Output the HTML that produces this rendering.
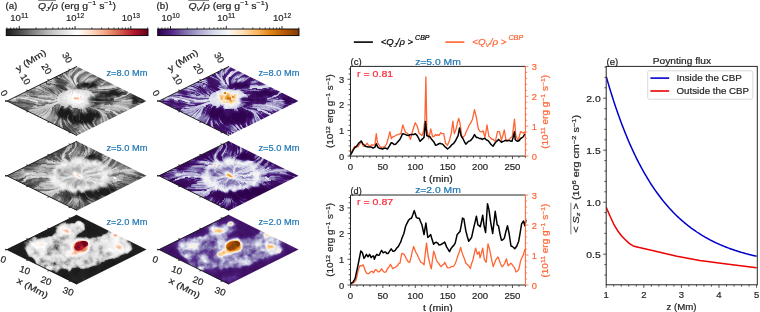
<!DOCTYPE html>
<html><head><meta charset="utf-8"><style>
html,body{margin:0;padding:0;background:#fff;width:760px;height:312px;overflow:hidden}
svg{display:block;will-change:transform}
text{font-family:"Liberation Sans", sans-serif}
</style></head><body>
<svg width="760" height="312" viewBox="0 0 760 312">
<defs>
<linearGradient id="cmA" x1="0" y1="0" x2="1" y2="0"><stop offset="0.00" stop-color="#1a1a1a"/><stop offset="0.10" stop-color="#4d4d4d"/><stop offset="0.20" stop-color="#878787"/><stop offset="0.30" stop-color="#bababa"/><stop offset="0.40" stop-color="#e0e0e0"/><stop offset="0.50" stop-color="#ffffff"/><stop offset="0.60" stop-color="#fddbc7"/><stop offset="0.70" stop-color="#f4a582"/><stop offset="0.80" stop-color="#d6604d"/><stop offset="0.90" stop-color="#b2182b"/><stop offset="1.00" stop-color="#67001f"/></linearGradient>
<linearGradient id="cmB" x1="0" y1="0" x2="1" y2="0"><stop offset="0.00" stop-color="#2d004b"/><stop offset="0.10" stop-color="#542788"/><stop offset="0.20" stop-color="#8073ac"/><stop offset="0.30" stop-color="#b2abd2"/><stop offset="0.40" stop-color="#d8daeb"/><stop offset="0.50" stop-color="#f7f7f7"/><stop offset="0.60" stop-color="#fee0b6"/><stop offset="0.70" stop-color="#fdb863"/><stop offset="0.80" stop-color="#e08214"/><stop offset="0.90" stop-color="#b35806"/><stop offset="1.00" stop-color="#7f3b08"/></linearGradient>
<filter id="b0_5" x="-50%" y="-50%" width="200%" height="200%"><feGaussianBlur stdDeviation="0.5"/></filter>
<filter id="b0_8" x="-50%" y="-50%" width="200%" height="200%"><feGaussianBlur stdDeviation="0.8"/></filter>
<filter id="b1_2" x="-50%" y="-50%" width="200%" height="200%"><feGaussianBlur stdDeviation="1.2"/></filter>
<filter id="b2_0" x="-50%" y="-50%" width="200%" height="200%"><feGaussianBlur stdDeviation="2.0"/></filter>
<filter id="b3_0" x="-50%" y="-50%" width="200%" height="200%"><feGaussianBlur stdDeviation="3.0"/></filter>
<filter id="b4_5" x="-50%" y="-50%" width="200%" height="200%"><feGaussianBlur stdDeviation="4.5"/></filter>
<filter id="b6_0" x="-50%" y="-50%" width="200%" height="200%"><feGaussianBlur stdDeviation="6.0"/></filter>
<filter id="warp" x="-30%" y="-30%" width="160%" height="160%"><feTurbulence type="fractalNoise" baseFrequency="0.18" numOctaves="2" seed="9" result="t"/><feDisplacementMap in="SourceGraphic" in2="t" scale="9" xChannelSelector="R" yChannelSelector="G" result="d"/><feGaussianBlur in="d" stdDeviation="1.3"/></filter>
<g id="lv0">
<polygon points="4.0,101.0 77.0,63.4 149.5,101.0 77.0,138.6" fill="#1a1a1a"/>
<g filter="url(#b5_0)">
<ellipse cx="77.0" cy="99.0" rx="20" ry="10" fill="#6e6e6e" fill-opacity="0.8"/>
</g>
<g filter="url(#b3_0)">
<ellipse cx="42.0" cy="116.0" rx="15" ry="7" transform="rotate(15 42.0 116.0)" fill="#616161" fill-opacity="0.6"/>
<ellipse cx="120.0" cy="106.0" rx="15" ry="5" transform="rotate(-10 120.0 106.0)" fill="#575757" fill-opacity="0.6"/>
<ellipse cx="30.0" cy="92.0" rx="13" ry="5" transform="rotate(-15 30.0 92.0)" fill="#474747" fill-opacity="0.5"/>
<ellipse cx="118.0" cy="84.0" rx="14" ry="4" transform="rotate(20 118.0 84.0)" fill="#4c4c4c" fill-opacity="0.5"/>
<ellipse cx="80.0" cy="74.0" rx="10" ry="5" fill="#474747" fill-opacity="0.5"/>
<ellipse cx="80.0" cy="128.0" rx="8" ry="5" fill="#474747" fill-opacity="0.5"/>
</g>
<g filter="url(#b2_0)">
<ellipse cx="45.0" cy="100.0" rx="18" ry="4" fill="#575757" fill-opacity="0.5"/>
</g>
<g filter="url(#b0_5)" stroke-linecap="round" stroke-linejoin="round" fill="none">
<path d="M72.8 98.2 70.8 97.8 69.0 97.2 67.6 96.3 66.6 95.3 65.7 94.3 64.8 93.3 63.9 92.3 62.9 91.3 61.8 90.4 60.6 89.5 59.3 88.6 57.9 87.7 56.4 86.9 54.8 86.2 53.1 85.5 51.4 84.8" stroke="#696969" stroke-width="1.4" stroke-opacity="0.52"/>
<path d="M97.9 110.3 99.3 111.2 100.5 112.1 101.5 113.1 102.3 114.1 103.0 115.1 103.5 116.2 104.0 117.3 104.4 118.4 104.7 119.4 105.2 120.5 105.7 121.6 106.3 122.6 107.1 123.7 108.1 124.6 109.4 125.6" stroke="#616161" stroke-width="1.6" stroke-opacity="0.49"/>
<path d="M76.9 100.4 77.1 101.5 77.3 102.6 77.2 103.7 76.5 104.8 75.0 105.6 73.3 106.3 71.5 106.9 69.7 107.6 68.0 108.3 66.4 109.0 65.0 109.9 63.8 110.8" stroke="#6e6e6e" stroke-width="1.8" stroke-opacity="0.49"/>
<path d="M92.8 104.0 94.9 103.9 97.1 103.7 99.3 103.6 101.5 103.5 103.7 103.4 105.9 103.4 108.1 103.4 110.3 103.4 112.5 103.4 114.7 103.4 116.9 103.5" stroke="#717171" stroke-width="1.4" stroke-opacity="0.39"/>
<path d="M72.4 81.8 71.7 80.8 71.0 79.7 70.4 78.7 69.9 77.6 69.5 76.5 69.3 75.4 69.2 74.3 69.4 73.2 69.8 72.1 70.1 71.0 70.6 70.0 71.2 68.9 71.9 67.9 72.7 66.8 73.4 65.8 74.0 64.7 74.6 63.7" stroke="#707070" stroke-width="1.8" stroke-opacity="0.57"/>
<path d="M96.8 110.7 97.8 111.6 98.6 112.7 99.2 113.7 99.4 114.8 99.5 115.9 99.4 117.0 99.3 118.1 99.1 119.2 99.0 120.3 98.9 121.4 98.9 122.5 99.1 123.6 99.5 124.7 100.0 125.7 100.8 126.8 101.8 127.8 102.9 128.7" stroke="#777777" stroke-width="0.8" stroke-opacity="0.41"/>
<path d="M56.3 94.0 55.5 93.0 54.7 92.0 53.9 91.0 52.9 90.0 51.8 89.0 50.6 88.1 49.1 87.3 47.6 86.5 45.9 85.8 44.2 85.1 42.4 84.5 40.5 83.9 38.6 83.3 36.7 82.8 34.7 82.4 32.6 82.0 30.6 81.6" stroke="#686868" stroke-width="1.5" stroke-opacity="0.39"/>
<path d="M77.4 99.1 75.5 98.5 77.2 99.2 76.8 100.3 77.2 101.4 76.2 102.4 74.5 103.0 72.7 103.7 71.1 104.4 69.5 105.2 68.0 106.0 66.6 106.8 65.3 107.7 64.2 108.7 63.2 109.7 62.3 110.7 61.4 111.7" stroke="#6c6c6c" stroke-width="1.4" stroke-opacity="0.66"/>
<path d="M103.8 97.9 106.0 97.7 108.1 97.4 110.0 96.9 111.9 96.3 113.6 95.6 115.3 94.9 116.8 94.1 118.3 93.3 119.8 92.5 121.2 91.6 122.7 90.8 124.2 90.0 125.7 89.2 127.2 88.4 128.8 87.7 130.5 86.9" stroke="#6f6f6f" stroke-width="0.8" stroke-opacity="0.64"/>
<path d="M127.2 101.9 129.4 102.0 131.5 102.1 133.7 102.4 135.8 102.7 137.9 103.1 139.9 103.5 141.9 103.9 143.8 104.5 145.7 105.0 147.6 105.6 149.4 106.2 151.3 106.8 153.2 107.3 155.2 107.8" stroke="#707070" stroke-width="0.9" stroke-opacity="0.62"/>
<path d="M77.5 104.2 77.2 105.3 76.4 106.3 75.1 107.2 73.4 108.0 71.7 108.7 70.1 109.4 68.5 110.1 67.1 111.0 65.7 111.8 64.4 112.7 63.4 113.7 62.4 114.7 61.7 115.7" stroke="#747474" stroke-width="2.0" stroke-opacity="0.29"/>
<path d="M91.2 109.1 91.9 110.1 92.3 111.2 92.4 112.3 92.2 113.4 91.8 114.5 91.4 115.6 90.8 116.6 90.3 117.7 89.8 118.8 89.4 119.9 89.1 121.0" stroke="#646464" stroke-width="1.7" stroke-opacity="0.64"/>
<path d="M68.4 85.5 66.8 84.7 65.0 84.1 63.1 83.5 61.1 83.1 59.1 82.6 57.1 82.2 55.1 81.7 53.1 81.3 51.1 80.8 49.2 80.3 47.2 79.8 45.4 79.2 43.5 78.6" stroke="#707070" stroke-width="1.1" stroke-opacity="0.65"/>
<path d="M102.3 111.2 103.9 111.9 105.3 112.8 106.6 113.6 107.8 114.6 108.9 115.5 110.0 116.5 111.0 117.4 112.1 118.4 113.1 119.4 114.3 120.3 115.5 121.2 116.9 122.1" stroke="#5c5c5c" stroke-width="0.8" stroke-opacity="0.49"/>
<path d="M121.8 101.1 124.0 100.9 126.1 100.7 128.3 100.5 130.5 100.3 132.6 100.1 134.8 100.1 137.0 100.0 139.2 100.1 141.4 100.2 143.6 100.4 145.8 100.5 147.9 100.8 150.0 101.1 152.1 101.4 154.2 101.7 156.4 102.0" stroke="#636363" stroke-width="1.6" stroke-opacity="0.69"/>
<path d="M72.4 98.1 70.3 97.9 68.1 97.8 65.9 97.9 63.8 98.3 61.9 98.8 60.0 99.4 58.0 99.9 56.0 100.3 54.0 100.7 51.9 101.1 49.7 101.3 47.6 101.4 45.4 101.4 43.2 101.3" stroke="#666666" stroke-width="1.8" stroke-opacity="0.42"/>
<path d="M95.8 106.6 98.0 106.6 100.2 106.5 102.4 106.5 104.6 106.4 106.8 106.5 109.0 106.6 111.2 106.7 113.3 107.0 115.3 107.4 117.4 107.8 119.4 108.3 121.2 108.9 122.9 109.7 124.4 110.5" stroke="#777777" stroke-width="1.7" stroke-opacity="0.37"/>
<path d="M84.2 97.5 86.3 97.2 88.5 97.1 90.7 97.2 92.8 97.4 95.0 97.7 97.1 97.9 99.3 98.1 101.5 98.2 103.7 98.3 105.9 98.2 108.1 98.0 110.2 97.8 112.2 97.4 114.2 96.8 116.0 96.2" stroke="#777777" stroke-width="1.3" stroke-opacity="0.50"/>
<path d="M48.6 91.8 47.3 90.9 45.9 90.1 44.4 89.3 42.7 88.6 40.9 87.9 38.9 87.4 36.9 87.0 34.8 86.6 32.7 86.3 30.5 86.2 28.3 86.1 26.1 86.1 23.9 86.2 21.8 86.4 19.6 86.7 17.5 87.0" stroke="#5c5c5c" stroke-width="1.5" stroke-opacity="0.53"/>
<path d="M68.4 85.1 66.8 84.4 65.0 83.7 63.1 83.2 61.2 82.7 59.2 82.2 57.1 81.8 55.1 81.4 53.1 80.9 51.1 80.5 49.2 80.0 47.2 79.4 45.4 78.8 43.6 78.2 41.9 77.5 40.2 76.8" stroke="#6f6f6f" stroke-width="1.1" stroke-opacity="0.57"/>
<path d="M62.0 114.9 61.3 115.9 60.8 117.0 60.4 118.1 60.1 119.2 59.9 120.3 59.8 121.4 59.7 122.5 59.8 123.6 60.0 124.7 60.2 125.8 60.4 126.9 60.7 128.0 61.0 129.0 61.2 130.1 61.4 131.2" stroke="#5c5c5c" stroke-width="1.1" stroke-opacity="0.53"/>
<path d="M74.6 97.8 73.4 96.9 72.6 95.9 72.1 94.8 71.8 93.7 71.4 92.6 70.8 91.5 70.0 90.5 69.2 89.5 68.2 88.5 67.0 87.6 65.5 86.8 63.9 86.1 62.1 85.4" stroke="#616161" stroke-width="1.7" stroke-opacity="0.63"/>
<path d="M82.4 88.3 81.7 87.2 81.2 86.2 80.8 85.1 80.6 84.0 80.6 82.9 80.6 81.8 80.8 80.7 81.3 79.6 82.0 78.6 82.9 77.6" stroke="#777777" stroke-width="1.6" stroke-opacity="0.31"/>
<path d="M76.5 98.8 78.7 98.8 80.6 98.2 82.3 97.5 84.0 96.8 85.8 96.2 87.8 95.7 89.7 95.2 91.8 94.8 93.9 94.5 96.0 94.2 98.2 94.0 100.3 93.8 102.5 93.6" stroke="#656565" stroke-width="1.5" stroke-opacity="0.54"/>
<path d="M71.6 90.7 70.9 89.6 69.9 88.7 68.6 87.8 67.1 86.9 65.5 86.2 63.6 85.6 61.7 85.1 59.8 84.6 57.8 84.1 55.8 83.6 53.9 83.1 51.9 82.6 50.0 82.1 48.0 81.5 46.1 81.0 44.2 80.4 42.4 79.8" stroke="#737373" stroke-width="1.2" stroke-opacity="0.63"/>
<path d="M54.8 97.3 52.7 97.2 50.5 96.9 48.5 96.5 46.4 96.1 44.4 95.7 42.4 95.2 40.4 94.7 38.4 94.3 36.4 93.9 34.3 93.5 32.2 93.2 30.0 93.0 27.8 92.9 25.7 92.8 23.5 92.9 21.3 93.0" stroke="#757575" stroke-width="1.2" stroke-opacity="0.35"/>
<path d="M60.1 93.5 59.4 92.4 58.6 91.4 57.7 90.4 56.6 89.4 55.4 88.5 54.0 87.7 52.5 86.9 51.0 86.1 49.4 85.3 47.7 84.6 46.0 83.9 44.2 83.3 42.3 82.7" stroke="#727272" stroke-width="1.8" stroke-opacity="0.33"/>
<path d="M83.9 88.2 83.5 87.1 83.1 86.0 82.8 84.9 82.8 83.8 83.0 82.7 83.2 81.6 83.6 80.5 84.3 79.5 85.2 78.5 86.3 77.5 87.6 76.6 89.0 75.8 90.5 75.0 92.0 74.2 93.5 73.4" stroke="#727272" stroke-width="1.1" stroke-opacity="0.31"/>
<path d="M84.7 92.3 84.9 91.3 84.8 90.2 84.4 89.1 84.0 88.0 83.5 86.9 83.2 85.8 83.0 84.7 83.0 83.6 83.0 82.5 83.3 81.4 83.7 80.4 84.4 79.3 85.4 78.3 86.5 77.4 87.8 76.5" stroke="#666666" stroke-width="1.2" stroke-opacity="0.44"/>
<path d="M90.2 87.6 91.5 86.7 93.0 85.9 94.6 85.1 96.4 84.5 98.2 83.9 100.1 83.3 102.0 82.8 103.9 82.2 105.8 81.6 107.6 81.0 109.3 80.3 110.8 79.5" stroke="#5c5c5c" stroke-width="1.9" stroke-opacity="0.65"/>
<path d="M102.9 113.8 103.6 114.8 104.3 115.9 104.8 116.9 105.3 118.0 105.9 119.1 106.5 120.1 107.1 121.2 107.9 122.2 108.8 123.2 109.9 124.2 111.2 125.0 112.7 125.8 114.4 126.6 116.2 127.2 118.1 127.7 120.1 128.2" stroke="#5d5d5d" stroke-width="1.2" stroke-opacity="0.59"/>
<path d="M115.6 98.8 117.5 98.2 119.2 97.5 120.9 96.8 122.4 96.0 123.9 95.2 125.3 94.4 126.8 93.5 128.2 92.7 129.7 91.9 131.3 91.1 132.9 90.4 134.6 89.7 136.4 89.0 138.3 88.5 140.3 88.0 142.4 87.7" stroke="#757575" stroke-width="1.8" stroke-opacity="0.64"/>
<path d="M77.8 125.7 79.0 126.6 80.1 127.6 81.3 128.5 82.3 129.5 83.4 130.4 84.4 131.4 85.3 132.4 86.2 133.4 86.9 134.5 87.5 135.5 88.0 136.6" stroke="#5d5d5d" stroke-width="1.7" stroke-opacity="0.48"/>
<path d="M80.3 86.8 79.8 85.7 79.4 84.6 79.2 83.5 79.2 82.4 79.4 81.3 79.9 80.3 80.6 79.2 81.6 78.2 82.7 77.3 83.9 76.4 85.3 75.5 86.7 74.7 88.3 73.9 89.8 73.1 91.4 72.3 92.9 71.6 94.4 70.7" stroke="#5d5d5d" stroke-width="1.3" stroke-opacity="0.30"/>
<path d="M67.6 101.6 65.8 102.3 64.2 103.0 62.8 103.9 61.7 104.8 60.9 105.8 60.3 106.9 59.8 108.0 59.4 109.1 59.0 110.1 58.5 111.2 58.1 112.3 57.6 113.4 57.1 114.4 56.5 115.5" stroke="#6b6b6b" stroke-width="0.7" stroke-opacity="0.66"/>
<path d="M39.5 104.4 37.4 104.1 35.4 103.7 33.4 103.2 31.5 102.6 29.6 102.1 27.7 101.5 25.7 101.0 23.7 100.6 21.7 100.1 19.6 99.8 17.5 99.5 15.3 99.3 13.2 99.2 11.0 99.2 8.8 99.3 6.6 99.4 4.4 99.6" stroke="#737373" stroke-width="0.7" stroke-opacity="0.35"/>
<path d="M74.7 80.8 74.6 79.7 74.7 78.6 75.1 77.5 75.7 76.5 76.6 75.5 77.7 74.5 78.8 73.6 80.1 72.7 81.5 71.8 83.0 71.0 84.5 70.2" stroke="#636363" stroke-width="1.0" stroke-opacity="0.65"/>
<path d="M76.0 83.9 75.6 82.8 75.3 81.7 75.1 80.6 75.2 79.5 75.5 78.4 76.0 77.3 76.8 76.3 77.8 75.3 79.0 74.4 80.4 73.6 81.8 72.7 83.3 71.9 84.9 71.2 86.5 70.4 88.1 69.6 89.6 68.8 91.0 68.0 92.3 67.1" stroke="#6c6c6c" stroke-width="1.2" stroke-opacity="0.59"/>
<path d="M73.1 96.4 72.5 95.4 72.2 94.3 71.9 93.2 71.5 92.1 70.9 91.1 70.1 90.0 69.0 89.1 67.6 88.2 66.3 87.3 64.8 86.5 63.1 85.8 61.2 85.2 59.3 84.7 57.4 84.2 55.4 83.7 53.5 83.2 51.5 82.7" stroke="#5d5d5d" stroke-width="1.1" stroke-opacity="0.62"/>
<path d="M110.3 103.3 112.5 103.3 114.7 103.4 116.9 103.5 119.1 103.6 121.3 103.8 123.4 104.0 125.5 104.3 127.6 104.7 129.6 105.1 131.5 105.7" stroke="#5d5d5d" stroke-width="1.3" stroke-opacity="0.26"/>
<path d="M81.3 102.8 82.9 103.6 84.5 104.3 86.1 105.1 87.8 105.8 89.5 106.5 91.2 107.2 93.0 107.8 94.7 108.5 96.5 109.2 98.2 109.8 100.0 110.5 101.6 111.2 103.3 112.0 104.8 112.7 106.2 113.6" stroke="#606060" stroke-width="0.7" stroke-opacity="0.42"/>
<path d="M66.3 100.2 64.5 100.8 62.7 101.4 60.8 102.0 59.0 102.6 57.3 103.3 55.6 104.0 53.9 104.7 52.2 105.4 50.7 106.2 49.2 107.0 47.8 107.8 46.4 108.7 45.1 109.6" stroke="#787878" stroke-width="1.2" stroke-opacity="0.31"/>
<path d="M71.2 83.4 70.0 82.4 68.8 81.5 67.4 80.7 65.9 79.8 64.4 79.1 62.7 78.3 61.1 77.6 59.4 76.9 57.9 76.1 56.3 75.3 54.8 74.5 53.3 73.7 52.1 72.8 51.0 71.8" stroke="#616161" stroke-width="1.1" stroke-opacity="0.52"/>
<path d="M85.2 105.6 86.5 106.5 87.6 107.4 88.5 108.4 89.1 109.5 89.5 110.6 89.5 111.7 89.3 112.8 88.9 113.8 88.4 114.9 87.9 116.0 87.4 117.1 87.0 118.1 86.7 119.2 86.5 120.3" stroke="#757575" stroke-width="0.7" stroke-opacity="0.53"/>
<path d="M82.4 107.7 82.9 108.7 83.1 109.8 83.2 110.9 83.1 112.0 82.9 113.1 82.6 114.2 82.4 115.3 82.2 116.4 82.1 117.5 82.0 118.6 82.1 119.7 82.4 120.8 82.8 121.9 83.3 122.9 83.9 124.0 84.6 125.0 85.5 126.1 86.3 127.1" stroke="#696969" stroke-width="0.9" stroke-opacity="0.49"/>
<path d="M61.9 116.0 61.4 117.1 61.0 118.2 60.7 119.3 60.6 120.4 60.6 121.5 60.7 122.6 60.8 123.7 61.0 124.8 61.3 125.9 61.6 126.9 62.1 128.0 62.5 129.1 62.9 130.2 63.3 131.3" stroke="#686868" stroke-width="1.8" stroke-opacity="0.67"/>
<path d="M89.5 87.2 90.5 86.3 91.7 85.3 93.0 84.5 94.5 83.7 96.0 82.9 97.6 82.1 99.2 81.4 100.9 80.6 102.5 79.9 104.0 79.1 105.5 78.3 106.8 77.4" stroke="#696969" stroke-width="0.8" stroke-opacity="0.62"/>
<path d="M95.8 97.1 98.0 97.1 100.2 97.1 102.3 97.0 104.5 96.8 106.6 96.4 108.5 95.9 110.4 95.3 112.2 94.7 113.9 94.0 115.5 93.2 117.1 92.5 118.7 91.7 120.2 90.9 121.8 90.1 123.3 89.4 124.9 88.6 126.4 87.8 128.0 87.1" stroke="#5f5f5f" stroke-width="1.0" stroke-opacity="0.49"/>
<path d="M100.8 104.3 103.0 104.2 105.2 104.1 107.4 104.1 109.6 104.1 111.8 104.2 114.0 104.3 116.2 104.4 118.3 104.6 120.5 104.8 122.6 105.1 124.6 105.5 126.6 106.0 128.4 106.6 130.1 107.3" stroke="#626262" stroke-width="1.1" stroke-opacity="0.49"/>
<path d="M80.0 98.4 82.0 97.9 84.0 97.5 86.2 97.3 88.4 97.3 90.5 97.4 92.6 97.7 94.8 98.0 96.9 98.3 99.0 98.7 101.1 98.9 103.3 99.1 105.5 99.1 107.7 99.0 109.9 98.9" stroke="#737373" stroke-width="1.1" stroke-opacity="0.63"/>
<path d="M37.2 101.8 35.2 101.2 33.3 100.7 31.4 100.1 29.5 99.6 27.5 99.1 25.4 98.7 23.3 98.4 21.2 98.2 19.0 98.0 16.8 97.9 14.6 97.8 12.4 97.8 10.2 97.8 8.1 98.0 5.9 98.1 3.7 98.3 1.6 98.5 -0.6 98.7" stroke="#777777" stroke-width="1.4" stroke-opacity="0.61"/>
<path d="M73.0 84.3 72.2 83.3 71.2 82.3 70.2 81.3 69.1 80.4 68.0 79.4 66.8 78.5 65.6 77.6 64.4 76.6 63.3 75.7 62.1 74.8 61.0 73.8 60.1 72.8 59.2 71.8 58.5 70.8 57.9 69.7 57.5 68.6 57.2 67.5 57.0 66.4" stroke="#707070" stroke-width="0.7" stroke-opacity="0.59"/>
<path d="M66.8 122.6 67.7 123.7 68.7 124.6 69.9 125.6 71.0 126.5 72.3 127.4 73.5 128.3 74.6 129.3 75.7 130.2 76.7 131.2 77.7 132.2 78.6 133.2 79.3 134.3 79.8 135.3 80.1 136.4 80.2 137.5 80.1 138.6" stroke="#616161" stroke-width="0.7" stroke-opacity="0.70"/>
<path d="M77.0 99.8 77.0 100.9 77.2 102.0 78.2 103.0 79.5 103.9 80.9 104.8 82.1 105.7 83.2 106.6 84.0 107.6 84.9 108.7 85.5 109.7 85.8 110.8 85.9 111.9 85.8 113.0 85.6 114.1 85.3 115.2 84.9 116.3 84.6 117.3 84.4 118.4" stroke="#636363" stroke-width="1.4" stroke-opacity="0.67"/>
<path d="M94.3 88.6 96.4 88.4 98.6 88.3 100.8 88.2 103.0 88.1 105.2 88.0 107.4 87.9 109.5 87.6 111.6 87.3 113.6 86.8 115.6 86.4 117.6 85.9 119.4 85.3 121.2 84.6 122.9 83.9 124.5 83.2 126.0 82.4 127.5 81.6" stroke="#626262" stroke-width="1.9" stroke-opacity="0.63"/>
<path d="M98.2 110.7 99.5 111.6 100.6 112.6 101.4 113.6 102.1 114.7 102.6 115.7 102.9 116.8 103.2 117.9 103.4 119.0 103.8 120.1 104.1 121.2 104.5 122.3 105.2 123.3 106.0 124.3 107.0 125.3 108.2 126.2 109.6 127.1 111.2 127.8 112.9 128.5" stroke="#6f6f6f" stroke-width="1.3" stroke-opacity="0.47"/>
<path d="M103.6 95.6 105.7 95.2 107.7 94.7 109.5 94.2 111.4 93.6 113.1 92.9 114.8 92.2 116.5 91.5 118.2 90.8 119.8 90.0 121.4 89.3 123.1 88.5 124.7 87.8" stroke="#5e5e5e" stroke-width="1.6" stroke-opacity="0.66"/>
<path d="M77.2 99.8 77.1 98.7 76.9 99.8 77.0 100.9 77.1 102.0 76.0 102.9 74.2 103.6 72.5 104.2 70.7 104.9 69.0 105.6 67.5 106.4 66.1 107.3 64.9 108.2 63.8 109.1 62.9 110.1 61.9 111.1 61.1 112.1" stroke="#606060" stroke-width="1.7" stroke-opacity="0.32"/>
<path d="M89.9 89.3 91.6 88.6 93.5 88.0 95.5 87.6 97.7 87.3 99.8 87.2 102.0 87.0 104.2 86.9 106.4 86.7 108.5 86.5 110.7 86.3 112.8 85.9 114.8 85.5 116.8 85.0 118.6 84.4 120.4 83.8 122.1 83.1 123.6 82.3 125.1 81.5 126.5 80.6" stroke="#777777" stroke-width="1.0" stroke-opacity="0.57"/>
<path d="M86.2 91.7 87.2 90.7 88.2 89.7 89.3 88.7 90.6 87.9 92.1 87.1 93.8 86.4 95.7 85.8 97.5 85.2 99.5 84.6 101.5 84.2 103.5 83.8 105.5 83.3 107.5 82.9 109.5 82.4 111.3 81.8 113.1 81.1" stroke="#757575" stroke-width="1.0" stroke-opacity="0.37"/>
<path d="M75.2 114.4 74.9 115.5 74.8 116.6 74.9 117.7 75.2 118.8 75.8 119.8 76.5 120.9 77.3 121.9 78.2 122.9 79.1 123.9 80.1 124.9 81.1 125.8 82.2 126.8 83.3 127.8 84.3 128.7 85.4 129.7 86.4 130.7" stroke="#626262" stroke-width="1.3" stroke-opacity="0.64"/>
<path d="M76.0 98.6 77.8 99.3 79.0 98.3 80.2 97.4 81.3 96.5 82.3 95.5 83.3 94.5 84.1 93.5 84.8 92.4 85.1 91.3 85.5 90.3 85.7 89.2 85.7 88.1 85.6 87.0 85.5 85.9 85.4 84.8 85.5 83.7 85.7 82.6 86.1 81.5 86.8 80.4" stroke="#626262" stroke-width="1.4" stroke-opacity="0.66"/>
<path d="M57.5 117.3 56.9 118.4 56.4 119.4 55.8 120.5 55.2 121.6 54.6 122.6 54.0 123.7 53.3 124.7 52.5 125.7 51.6 126.7 50.6 127.7 49.4 128.7 48.2 129.5 46.7 130.4 45.2 131.2 43.5 131.9" stroke="#747474" stroke-width="1.2" stroke-opacity="0.58"/>
<path d="M101.7 112.0 102.9 113.0 103.9 113.9 104.8 114.9 105.6 116.0 106.3 117.0 106.9 118.1 107.6 119.1 108.3 120.1 109.1 121.2 110.0 122.2 111.1 123.1 112.4 124.0" stroke="#6e6e6e" stroke-width="1.7" stroke-opacity="0.28"/>
<path d="M55.0 100.3 52.9 100.6 50.7 100.8 48.5 100.8 46.3 100.7 44.1 100.5 42.0 100.1 40.0 99.7 38.0 99.3 36.0 98.9 34.0 98.4 32.0 97.9 30.0 97.4 28.0 97.0" stroke="#606060" stroke-width="1.5" stroke-opacity="0.55"/>
<path d="M71.2 75.1 71.6 74.0 72.2 73.0 72.9 71.9 73.9 70.9 74.9 70.0 76.0 69.0 77.1 68.0 78.2 67.1 79.3 66.2 80.3 65.2 81.2 64.2" stroke="#656565" stroke-width="1.2" stroke-opacity="0.58"/>
<path d="M29.5 103.0 27.6 102.4 25.7 101.9 23.7 101.5 21.6 101.1 19.5 100.8 17.4 100.5 15.2 100.2 13.0 100.1 10.8 100.1 8.6 100.2 6.5 100.3 4.3 100.5" stroke="#666666" stroke-width="1.4" stroke-opacity="0.55"/>
<path d="M46.5 93.2 44.9 92.5 43.2 91.8 41.4 91.1 39.4 90.6 37.4 90.2 35.3 89.9 33.1 89.7 30.9 89.7 28.7 89.6 26.5 89.6 24.3 89.8 22.2 90.0 20.0 90.3 17.9 90.6 15.8 90.9 13.7 91.2" stroke="#696969" stroke-width="0.9" stroke-opacity="0.51"/>
<path d="M99.8 112.9 100.4 114.0 100.8 115.0 101.0 116.1 101.1 117.2 101.1 118.3 101.1 119.4 101.2 120.5 101.4 121.6 101.6 122.7 102.0 123.8 102.6 124.9 103.4 125.9 104.4 126.9 105.6 127.8 107.0 128.6 108.6 129.4" stroke="#5f5f5f" stroke-width="1.0" stroke-opacity="0.55"/>
<path d="M74.1 79.4 74.2 78.3 74.5 77.2 75.1 76.2 75.9 75.2 77.0 74.2 78.0 73.2 79.3 72.3 80.7 71.5 82.1 70.6 83.6 69.8 85.2 69.1 86.6 68.2" stroke="#6b6b6b" stroke-width="1.6" stroke-opacity="0.56"/>
<path d="M77.6 99.1 75.7 98.6 77.6 99.1 76.2 100.0 77.1 99.0 75.0 98.5 72.9 98.2 70.8 98.0 68.6 97.8 66.4 97.8 64.3 98.2 62.2 98.5 60.2 98.9 58.2 99.4 56.2 99.9 54.2 100.3 52.1 100.6 49.9 100.8 47.8 101.0 45.6 101.0 43.4 100.8" stroke="#6f6f6f" stroke-width="1.9" stroke-opacity="0.62"/>
<path d="M74.7 82.1 74.4 81.0 74.2 79.9 74.2 78.8 74.4 77.7 74.9 76.7 75.6 75.6 76.6 74.6 77.8 73.7 79.2 72.9 80.6 72.0 82.1 71.2 83.6 70.4 85.1 69.6 86.7 68.8 88.1 68.0 89.5 67.2 90.8 66.3" stroke="#6c6c6c" stroke-width="1.3" stroke-opacity="0.55"/>
<path d="M53.6 106.1 52.7 107.1 51.9 108.2 51.3 109.2 50.9 110.3 50.4 111.4 49.9 112.4 49.4 113.5 48.7 114.6 47.8 115.6 46.8 116.5 45.7 117.5 44.5 118.4 43.1 119.3 41.6 120.1 39.8 120.7 38.0 121.3 36.0 121.8" stroke="#707070" stroke-width="1.6" stroke-opacity="0.54"/>
<path d="M73.1 110.8 71.8 111.7 70.6 112.6 69.6 113.6 68.7 114.6 68.1 115.7 67.7 116.7 67.5 117.8 67.6 118.9 68.0 120.0 68.6 121.1 69.2 122.2 70.0 123.2 70.9 124.2 72.0 125.1 73.2 126.1 74.4 127.0 75.7 127.9" stroke="#696969" stroke-width="0.8" stroke-opacity="0.50"/>
<path d="M98.0 107.6 100.2 107.8 102.4 107.9 104.6 108.1 106.8 108.2 108.9 108.5 111.0 108.8 113.0 109.3 114.9 109.9 116.6 110.5 118.3 111.2 119.9 112.0 121.4 112.8 122.7 113.7 124.0 114.6 125.1 115.5 126.3 116.4 127.5 117.4 128.8 118.3 130.1 119.1" stroke="#686868" stroke-width="1.0" stroke-opacity="0.33"/>
<path d="M86.0 93.0 87.5 92.2 89.2 91.5 91.2 91.1 93.3 90.8 95.5 90.6 97.7 90.5 99.9 90.4 102.1 90.4 104.3 90.3 106.5 90.2 108.6 90.0 110.8 89.7 112.8 89.3 114.8 88.9 116.8 88.3" stroke="#5f5f5f" stroke-width="0.9" stroke-opacity="0.50"/>
<path d="M76.9 100.1 77.0 101.2 77.2 102.2 77.5 103.3 77.5 104.4 77.1 105.5 76.1 106.5 74.7 107.4 73.3 108.2 71.7 109.0 70.1 109.7 68.4 110.4 66.9 111.2" stroke="#636363" stroke-width="0.7" stroke-opacity="0.31"/>
<path d="M70.9 100.7 68.9 101.2 67.0 101.8 65.2 102.4 63.7 103.2 62.3 104.0 61.3 105.0 60.5 106.0 59.9 107.1 59.5 108.2 59.1 109.3 58.7 110.3 58.2 111.4 57.8 112.5 57.3 113.6 56.8 114.6 56.2 115.7 55.7 116.8 55.1 117.8 54.4 118.9" stroke="#666666" stroke-width="1.1" stroke-opacity="0.43"/>
<path d="M82.9 96.2 84.5 95.4 86.3 94.7 88.2 94.2 90.3 93.8 92.4 93.5 94.6 93.4 96.7 93.2 98.9 93.0 101.1 92.9 103.3 92.7 105.4 92.4 107.5 92.1 109.6 91.7 111.6 91.3 113.5 90.8" stroke="#747474" stroke-width="0.8" stroke-opacity="0.37"/>
<path d="M31.7 103.0 29.8 102.4 27.9 101.9 25.9 101.4 23.9 100.9 21.9 100.5 19.8 100.2 17.7 99.9 15.5 99.7 13.3 99.5 11.1 99.5 8.9 99.6 6.8 99.7 4.6 99.9 2.4 100.1 0.3 100.4" stroke="#616161" stroke-width="0.9" stroke-opacity="0.44"/>
<path d="M103.5 100.1 105.7 100.1 107.9 99.9 110.0 99.7 112.2 99.4 114.2 99.0 116.1 98.5 118.1 98.0 119.9 97.4 121.6 96.7 123.3 95.9 124.8 95.2 126.3 94.4 127.8 93.5 129.2 92.7 130.8 91.9 132.3 91.2" stroke="#6c6c6c" stroke-width="0.8" stroke-opacity="0.43"/>
<path d="M62.7 95.5 61.8 94.5 61.0 93.5 60.4 92.4 59.6 91.4 58.6 90.4 57.5 89.4 56.4 88.5 55.1 87.6 53.7 86.8 52.1 86.0 50.5 85.2 48.8 84.5 47.0 83.9 45.2 83.3 43.4 82.7" stroke="#616161" stroke-width="1.0" stroke-opacity="0.60"/>
<path d="M72.0 82.4 71.1 81.4 70.2 80.4 69.3 79.4 68.4 78.4 67.5 77.4 66.7 76.3 65.9 75.3 65.3 74.3 64.7 73.2 64.2 72.1 63.9 71.0 63.7 69.9 63.6 68.8 63.6 67.7 63.7 66.6 63.7 65.5" stroke="#656565" stroke-width="1.9" stroke-opacity="0.39"/>
<path d="M77.3 99.0 75.6 98.4 77.4 99.0 75.3 98.6 77.2 99.2 75.9 98.3 77.3 99.1 78.9 99.9 80.4 100.7 82.1 101.4 84.0 102.0 86.0 102.5 88.1 102.7 90.3 102.8 92.5 102.8 94.7 102.7 96.9 102.7 99.1 102.6" stroke="#757575" stroke-width="1.5" stroke-opacity="0.26"/>
<path d="M72.9 95.3 72.8 94.2 72.7 93.1 72.5 92.0 72.1 90.9 71.5 89.9 70.6 88.9 69.4 87.9 68.1 87.1 66.5 86.3 64.7 85.7 63.0 85.0 61.1 84.4 59.1 83.9 57.2 83.4 55.2 83.0" stroke="#626262" stroke-width="0.8" stroke-opacity="0.53"/>
<path d="M77.4 86.2 76.9 85.2 76.4 84.1 76.0 83.0 75.8 81.9 75.7 80.8 75.6 79.7 75.6 78.6 75.9 77.5 76.4 76.5 77.1 75.4 78.0 74.4" stroke="#737373" stroke-width="1.9" stroke-opacity="0.68"/>
<path d="M47.0 97.4 44.9 97.0 42.9 96.6 40.8 96.2 38.8 95.8 36.7 95.4 34.6 95.1 32.5 94.7 30.4 94.4 28.3 94.2 26.1 94.1 23.9 94.0 21.7 94.0 19.5 94.1 17.3 94.2 15.1 94.3 12.9 94.5" stroke="#606060" stroke-width="1.7" stroke-opacity="0.53"/>
<path d="M52.2 95.7 50.3 95.0 48.6 94.4 46.9 93.6 45.3 92.9 43.6 92.2 41.8 91.6 39.9 91.1 37.8 90.6 35.7 90.3 33.6 90.0 31.5 89.8 29.3 89.7 27.1 89.7 24.9 89.8 22.7 90.0" stroke="#5e5e5e" stroke-width="1.4" stroke-opacity="0.67"/>
<path d="M85.0 92.6 85.7 91.6 86.2 90.5 86.7 89.5 87.0 88.4 87.3 87.3 87.7 86.2 88.2 85.1 88.8 84.1 89.6 83.0 90.6 82.1 91.5 81.1 92.7 80.1 93.9 79.2 95.2 78.3 96.6 77.5 97.9 76.6 99.3 75.7 100.5 74.8 101.7 73.9 102.7 72.9" stroke="#606060" stroke-width="1.8" stroke-opacity="0.52"/>
<path d="M107.9 105.7 110.1 105.7 112.2 105.9 114.4 106.2 116.5 106.5 118.4 107.0 120.3 107.6 122.0 108.3 123.7 109.0 125.3 109.8 126.6 110.6 127.9 111.5 129.0 112.5 130.1 113.5 131.1 114.4 132.1 115.4 133.2 116.3 134.4 117.3" stroke="#787878" stroke-width="0.9" stroke-opacity="0.28"/>
<path d="M76.0 91.9 75.6 90.8 75.2 89.7 74.6 88.7 73.9 87.6 73.1 86.6 72.2 85.6 71.2 84.6 69.9 83.7 68.7 82.8 67.4 82.0 65.9 81.1 64.3 80.4 62.5 79.7 60.8 79.1" stroke="#656565" stroke-width="1.7" stroke-opacity="0.43"/>
<path d="M98.1 105.6 100.3 105.4 102.5 105.3 104.7 105.2 106.9 105.2 109.1 105.2 111.3 105.4 113.4 105.5 115.6 105.8 117.7 106.1 119.8 106.5 121.8 106.9 123.6 107.5 125.4 108.2 126.9 109.0 128.4 109.8 129.6 110.7" stroke="#696969" stroke-width="0.7" stroke-opacity="0.63"/>
<path d="M66.7 97.5 64.5 97.2 62.5 96.8 60.7 96.2 59.2 95.3 58.1 94.4 57.3 93.4 56.6 92.3 55.8 91.3 55.1 90.3 54.2 89.2 53.1 88.3 51.9 87.4 50.5 86.5" stroke="#696969" stroke-width="1.6" stroke-opacity="0.45"/>
<path d="M48.7 108.7 47.8 109.7 46.9 110.7 46.1 111.7 45.1 112.7 44.1 113.7 42.9 114.6 41.5 115.5 40.1 116.3 38.5 117.1 36.8 117.8 35.0 118.4 33.0 118.9 31.0 119.3 28.9 119.7" stroke="#747474" stroke-width="1.2" stroke-opacity="0.41"/>
<path d="M91.3 86.3 92.7 85.5 94.3 84.7 95.9 84.0 97.7 83.3 99.5 82.7 101.3 82.0 103.0 81.4 104.8 80.7 106.4 80.0 108.0 79.2 109.4 78.3 110.6 77.4 111.6 76.4" stroke="#727272" stroke-width="0.8" stroke-opacity="0.46"/>
<path d="M54.2 101.8 52.1 102.1 49.9 102.4 47.8 102.5 45.6 102.4 43.4 102.2 41.3 101.9 39.2 101.5 37.3 101.0 35.3 100.5 33.4 100.0 31.5 99.5 29.5 98.9 27.6 98.4 25.5 98.0 23.5 97.6" stroke="#676767" stroke-width="0.8" stroke-opacity="0.26"/>
<path d="M38.2 102.1 36.2 101.6 34.3 101.0 32.4 100.5 30.5 99.9 28.5 99.4 26.5 99.0 24.5 98.5 22.4 98.2 20.3 97.9 18.1 97.7 15.9 97.6 13.7 97.5 11.5 97.6 9.3 97.6" stroke="#5d5d5d" stroke-width="0.6" stroke-opacity="0.45"/>
<path d="M80.7 96.9 81.8 96.0 82.8 95.0 83.7 94.0 84.3 93.0 84.7 91.9 84.8 90.8 84.8 89.7 84.7 88.6 84.4 87.5 84.0 86.4 83.6 85.3" stroke="#676767" stroke-width="1.2" stroke-opacity="0.26"/>
<path d="M87.3 118.2 87.1 119.3 87.0 120.4 87.2 121.5 87.5 122.6 87.9 123.7 88.5 124.8 89.1 125.8 89.9 126.8 90.7 127.9 91.5 128.9 92.5 129.9 93.4 130.9 94.4 131.8" stroke="#696969" stroke-width="0.8" stroke-opacity="0.53"/>
<path d="M58.1 102.5 56.3 103.1 54.5 103.8 52.7 104.4 50.9 105.1 49.1 105.7 47.4 106.4 45.6 107.0 43.8 107.6 41.9 108.2 39.9 108.7 38.0 109.2 35.9 109.6 33.9 110.0 31.8 110.3 29.6 110.5" stroke="#646464" stroke-width="2.0" stroke-opacity="0.67"/>
<path d="M119.2 99.1 121.1 98.6 122.9 97.9 124.6 97.2 126.3 96.5 127.9 95.8 129.6 95.0 131.2 94.3 132.8 93.6 134.6 92.9 136.4 92.2 138.2 91.7 140.2 91.2 142.3 90.8 144.4 90.5" stroke="#6c6c6c" stroke-width="0.6" stroke-opacity="0.40"/>
<path d="M98.5 113.4 98.7 114.5 98.7 115.6 98.6 116.7 98.4 117.8 98.1 118.9 97.9 120.0 97.8 121.1 97.9 122.2 98.2 123.3 98.7 124.4 99.2 125.5 99.9 126.5 100.7 127.5 101.8 128.5 103.0 129.4" stroke="#686868" stroke-width="0.7" stroke-opacity="0.53"/>
<path d="M71.5 85.5 70.3 84.6 68.9 83.7 67.4 82.9 65.7 82.2 63.9 81.6 62.0 81.1 60.1 80.5 58.1 80.0 56.2 79.5 54.2 79.0 52.3 78.5" stroke="#6a6a6a" stroke-width="1.3" stroke-opacity="0.34"/>
<path d="M76.1 101.5 74.4 102.2 72.8 102.9 71.2 103.7 69.7 104.5 68.3 105.3 67.0 106.2 65.9 107.2 64.7 108.1 63.7 109.1 62.7 110.1 61.8 111.1 61.0 112.1 60.3 113.1 59.6 114.2 58.9 115.2" stroke="#727272" stroke-width="1.9" stroke-opacity="0.67"/>
<path d="M50.6 95.9 48.7 95.4 46.8 94.8 45.0 94.2 43.1 93.6 41.2 93.1 39.3 92.6 37.2 92.2 35.1 91.9 32.9 91.7 30.7 91.6 28.5 91.6 26.3 91.6 24.1 91.6 22.0 91.8 19.8 92.0 17.6 92.2 15.5 92.5 13.4 92.7 11.2 93.0" stroke="#767676" stroke-width="0.7" stroke-opacity="0.38"/>
<path d="M67.5 117.4 67.5 118.5 67.8 119.6 68.3 120.7 69.0 121.7 69.9 122.7 70.9 123.7 72.1 124.6 73.3 125.5 74.5 126.4 75.8 127.3 77.0 128.3 78.2 129.2 79.4 130.1 80.5 131.1 81.5 132.0 82.4 133.0 83.2 134.1" stroke="#656565" stroke-width="1.6" stroke-opacity="0.67"/>
<path d="M76.9 89.7 76.3 88.7 75.7 87.6 75.0 86.6 74.3 85.5 73.6 84.5 72.8 83.5 71.9 82.4 71.0 81.4 70.1 80.4 69.2 79.4 68.2 78.5 67.3 77.5 66.3 76.5 65.4 75.5 64.6 74.5 63.8 73.4 63.2 72.4 62.7 71.3" stroke="#737373" stroke-width="1.4" stroke-opacity="0.67"/>
<path d="M77.9 99.2 75.9 98.7 73.9 98.4 71.7 98.1 69.6 97.9 67.4 97.8 65.3 98.1 63.3 98.6 61.4 99.2 59.6 99.8 57.7 100.3 55.7 100.8 53.7 101.3 51.6 101.6 49.4 101.9" stroke="#727272" stroke-width="1.3" stroke-opacity="0.37"/>
<path d="M77.2 92.1 76.7 91.1 76.1 90.0 75.6 88.9 74.9 87.9 74.3 86.8 73.5 85.8 72.6 84.8 71.6 83.8 70.5 82.9 69.3 81.9 68.1 81.0 66.8 80.1 65.4 79.3 63.9 78.5 62.4 77.7 60.8 76.9 59.3 76.1 57.7 75.4 56.2 74.5" stroke="#6f6f6f" stroke-width="1.9" stroke-opacity="0.27"/>
<path d="M75.2 86.1 74.5 85.1 73.8 84.0 73.1 83.0 72.4 82.0 71.6 80.9 70.9 79.9 70.2 78.9 69.5 77.8 68.8 76.8 68.3 75.7 67.8 74.6 67.5 73.5 67.3 72.4" stroke="#717171" stroke-width="1.5" stroke-opacity="0.29"/>
<path d="M81.5 85.4 81.3 84.3 81.3 83.2 81.5 82.1 81.9 81.1 82.7 80.0 83.4 79.0 84.3 78.0 85.5 77.0 86.8 76.2 88.2 75.3 89.7 74.5 91.3 73.7 92.8 73.0 94.3 72.1 95.7 71.3" stroke="#747474" stroke-width="1.8" stroke-opacity="0.45"/>
<path d="M106.3 104.9 108.5 105.0 110.7 105.0 112.9 105.2 115.0 105.4 117.1 105.7 119.2 106.1 121.1 106.7 123.0 107.2 124.8 107.8 126.5 108.6 127.9 109.4 129.3 110.3 130.4 111.2 131.5 112.2" stroke="#5c5c5c" stroke-width="0.9" stroke-opacity="0.60"/>
<path d="M96.5 115.5 96.2 116.6 95.7 117.7 95.3 118.8 95.0 119.9 94.8 121.0 94.6 122.1 94.5 123.2 94.7 124.3 95.0 125.4 95.6 126.4 96.3 127.5 97.1 128.5" stroke="#686868" stroke-width="1.8" stroke-opacity="0.34"/>
<path d="M114.7 95.9 116.3 95.1 117.8 94.3 119.3 93.5 120.7 92.6 122.1 91.8 123.6 91.0 125.1 90.2 126.6 89.4 128.1 88.6 129.7 87.8 131.3 87.1 133.1 86.4 134.8 85.7 136.7 85.1 138.6 84.6 140.6 84.2" stroke="#6c6c6c" stroke-width="0.6" stroke-opacity="0.35"/>
<path d="M87.9 117.2 87.6 118.2 87.4 119.3 87.3 120.4 87.4 121.5 87.7 122.6 88.1 123.7 88.7 124.8 89.3 125.8 90.1 126.9 90.9 127.9 91.7 128.9 92.7 129.9 93.6 130.9 94.7 131.9 95.7 132.8 96.7 133.8 97.7 134.8 98.7 135.8" stroke="#686868" stroke-width="1.7" stroke-opacity="0.52"/>
<path d="M85.4 104.7 87.0 105.4 88.7 106.1 90.5 106.8 92.3 107.4 94.1 108.0 95.9 108.6 97.8 109.2 99.7 109.8 101.5 110.4 103.4 111.0 105.2 111.6 106.9 112.3 108.5 113.0 110.1 113.8" stroke="#616161" stroke-width="0.7" stroke-opacity="0.62"/>
<path d="M29.2 105.9 27.1 105.5 25.1 105.1 23.0 104.8 20.9 104.4 18.7 104.2 16.6 104.1 14.4 103.9 12.2 103.9 10.0 103.9 7.8 104.1 5.7 104.4" stroke="#767676" stroke-width="1.0" stroke-opacity="0.30"/>
<path d="M83.1 94.8 84.1 93.9 85.1 92.9 86.0 91.9 86.9 90.9 87.8 89.9 88.8 88.9 89.9 87.9 91.2 87.1 92.7 86.2 94.2 85.4 95.8 84.7 97.6 84.0 99.4 83.4 101.3 82.8 103.1 82.3 105.0 81.7 106.8 81.0 108.5 80.3 110.1 79.6" stroke="#5f5f5f" stroke-width="1.3" stroke-opacity="0.55"/>
<path d="M78.1 103.2 79.4 104.1 80.6 105.0 81.8 106.0 82.7 107.0 83.4 108.0 83.9 109.1 84.2 110.2 84.2 111.3 84.2 112.4 84.0 113.5 83.8 114.6 83.5 115.6 83.2 116.7 83.0 117.8 83.0 118.9 83.0 120.0 83.3 121.1 83.6 122.2" stroke="#727272" stroke-width="1.0" stroke-opacity="0.68"/>
<path d="M77.5 99.1 75.7 98.5 77.4 99.1 75.9 99.9 73.9 100.4 71.8 100.8 69.8 101.2 67.9 101.8 66.2 102.4 64.6 103.2 63.1 104.0 61.7 104.9 60.7 105.8 59.8 106.9 59.3 107.9" stroke="#5c5c5c" stroke-width="1.0" stroke-opacity="0.54"/>
<path d="M61.5 101.3 59.6 101.8 57.8 102.4 55.9 103.0 54.0 103.6 52.2 104.2 50.3 104.7 48.3 105.3 46.4 105.8 44.3 106.2 42.3 106.6 40.2 106.9 38.1 107.2 35.9 107.4 33.7 107.4" stroke="#6f6f6f" stroke-width="1.1" stroke-opacity="0.60"/>
<path d="M57.2 91.4 56.3 90.4 55.3 89.4 54.1 88.5 52.7 87.7 51.3 86.8 49.7 86.1 48.0 85.4 46.3 84.7 44.6 84.0 42.7 83.4 40.9 82.8 39.0 82.2 37.0 81.7" stroke="#737373" stroke-width="0.7" stroke-opacity="0.36"/>
<path d="M62.6 102.2 60.9 102.9 59.3 103.7 57.9 104.5 56.8 105.4 55.9 106.5 55.3 107.5 54.7 108.6 54.3 109.6 53.9 110.7 53.7 111.8 53.3 112.9 53.0 114.0 52.5 115.1" stroke="#717171" stroke-width="0.9" stroke-opacity="0.35"/>
<path d="M98.1 105.1 100.3 104.9 102.5 104.8 104.7 104.7 106.9 104.7 109.1 104.7 111.3 104.8 113.4 104.9 115.6 105.1 117.7 105.4 119.7 105.9 121.8 106.3 123.7 106.8 125.6 107.4 127.2 108.1 128.7 108.9 130.1 109.8 131.3 110.7 132.4 111.6" stroke="#6b6b6b" stroke-width="1.2" stroke-opacity="0.68"/>
<path d="M119.5 101.2 121.6 100.9 123.8 100.7 125.9 100.4 128.0 100.2 130.2 99.9 132.3 99.7 134.5 99.5 136.7 99.4 138.9 99.3 141.1 99.2 143.3 99.2 145.5 99.3 147.6 99.5 149.8 99.7 151.9 100.0 154.1 100.2" stroke="#696969" stroke-width="1.4" stroke-opacity="0.27"/>
<path d="M70.9 128.5 71.9 129.4 73.0 130.4 73.9 131.4 74.7 132.4 75.3 133.5 75.9 134.6 76.3 135.6 76.5 136.7 76.5 137.8 76.2 138.9" stroke="#707070" stroke-width="1.0" stroke-opacity="0.48"/>
<path d="M58.2 115.4 57.6 116.4 57.0 117.5 56.4 118.5 55.8 119.6 55.2 120.7 54.6 121.7 53.9 122.8 53.2 123.8 52.4 124.8 51.5 125.8 50.5 126.8 49.3 127.7 48.0 128.6 46.6 129.5 45.0 130.2 43.3 130.9" stroke="#646464" stroke-width="1.2" stroke-opacity="0.41"/>
<path d="M98.1 100.7 100.3 100.9 102.4 101.0 104.6 101.1 106.8 101.1 109.0 101.0 111.2 100.8 113.4 100.7 115.6 100.5 117.7 100.2 119.8 99.9 121.9 99.5 123.9 99.1 125.8 98.6" stroke="#5f5f5f" stroke-width="1.0" stroke-opacity="0.43"/>
<path d="M37.0 101.7 35.1 101.2 33.2 100.6 31.2 100.1 29.3 99.6 27.3 99.1 25.3 98.7 23.2 98.4 21.1 98.1 18.9 97.8 16.7 97.7 14.5 97.6 12.3 97.6 10.1 97.7 7.9 97.8 5.8 97.9 3.6 98.1 1.4 98.3" stroke="#777777" stroke-width="2.0" stroke-opacity="0.64"/>
<path d="M57.9 102.7 56.1 103.3 54.3 104.0 52.6 104.7 50.9 105.4 49.2 106.1 47.6 106.8 46.0 107.6 44.4 108.3 42.7 109.0 41.1 109.8 39.4 110.5 37.6 111.1 35.8 111.7 33.9 112.3 31.9 112.8" stroke="#696969" stroke-width="2.0" stroke-opacity="0.35"/>
<path d="M95.7 115.4 95.3 116.5 94.8 117.6 94.4 118.7 94.0 119.7 93.8 120.8 93.7 121.9 93.8 123.0 94.1 124.1 94.5 125.2 95.0 126.3 95.6 127.3 96.5 128.3 97.4 129.3" stroke="#666666" stroke-width="1.1" stroke-opacity="0.62"/>
<path d="M116.4 98.4 118.2 97.8 119.9 97.1 121.5 96.3 123.0 95.5 124.4 94.7 125.9 93.9 127.3 93.0 128.8 92.2 130.3 91.4 131.8 90.6 133.5 89.9 135.2 89.2 137.1 88.6 139.0 88.1" stroke="#5c5c5c" stroke-width="1.5" stroke-opacity="0.32"/>
<path d="M70.7 75.0 70.9 73.9 71.4 72.9 72.1 71.8 73.0 70.8 73.9 69.8 75.0 68.8 76.0 67.9 77.0 66.9 78.0 65.9 79.0 64.9 79.8 63.9" stroke="#777777" stroke-width="1.7" stroke-opacity="0.41"/>
<path d="M100.0 116.4 100.0 117.5 99.9 118.6 99.8 119.7 99.8 120.8 100.0 121.9 100.2 123.0 100.5 124.0 101.0 125.1 101.8 126.1 102.7 127.1 103.8 128.1 105.1 129.0 106.6 129.8 108.2 130.5" stroke="#6a6a6a" stroke-width="0.9" stroke-opacity="0.37"/>
<path d="M109.1 102.7 111.3 102.7 113.5 102.7 115.7 102.7 117.9 102.7 120.1 102.7 122.3 102.8 124.5 102.9 126.7 103.1 128.8 103.4 130.9 103.7 133.0 104.0 135.0 104.5 136.9 105.0 138.7 105.7 140.4 106.3 142.1 107.1 143.7 107.8 145.2 108.6" stroke="#737373" stroke-width="1.2" stroke-opacity="0.37"/>
<path d="M78.0 101.6 79.7 102.3 81.3 103.0 82.9 103.8 84.5 104.6 86.0 105.4 87.5 106.2 88.9 107.0 90.4 107.8 91.8 108.7 93.0 109.6 94.2 110.5 95.1 111.5 95.8 112.6 96.2 113.6 96.4 114.7 96.3 115.8 96.0 116.9" stroke="#656565" stroke-width="0.6" stroke-opacity="0.27"/>
<path d="M82.8 123.7 83.6 124.8 84.5 125.8 85.4 126.8 86.4 127.8 87.3 128.7 88.3 129.7 89.3 130.7 90.2 131.7 91.2 132.7 92.1 133.7 92.9 134.7 93.7 135.8 94.3 136.8 94.9 137.9 95.3 139.0" stroke="#777777" stroke-width="1.6" stroke-opacity="0.63"/>
<path d="M79.4 98.1 80.5 97.2 81.6 96.2 82.7 95.2 83.7 94.3 84.7 93.3 85.6 92.3 86.5 91.3 87.4 90.3 88.4 89.3 89.4 88.3 90.5 87.4 91.6 86.4 92.9 85.5 94.4 84.7 95.9 83.9 97.6 83.2" stroke="#606060" stroke-width="0.6" stroke-opacity="0.27"/>
<path d="M51.3 107.5 50.5 108.5 49.8 109.6 49.2 110.6 48.6 111.7 48.0 112.7 47.2 113.8 46.3 114.8 45.2 115.7 44.2 116.7 42.9 117.6 41.5 118.4 39.9 119.2 38.1 119.8 36.2 120.4 34.2 120.8 32.1 121.2" stroke="#6a6a6a" stroke-width="1.7" stroke-opacity="0.64"/>
<path d="M98.7 109.6 100.5 110.2 102.2 110.9 103.8 111.6 105.4 112.4 106.8 113.3 108.1 114.2 109.3 115.1 110.4 116.0 111.5 117.0 112.6 117.9 113.7 118.9 114.9 119.8 116.1 120.7 117.5 121.6 119.0 122.4 120.7 123.1" stroke="#6e6e6e" stroke-width="1.0" stroke-opacity="0.28"/>
<path d="M76.4 85.7 75.9 84.6 75.4 83.6 75.0 82.5 74.6 81.4 74.4 80.3 74.4 79.2 74.6 78.1 75.0 77.0 75.5 76.0 76.1 74.9 77.0 73.9 78.1 73.0 79.4 72.1" stroke="#727272" stroke-width="1.2" stroke-opacity="0.38"/>
<path d="M57.6 99.5 55.6 99.9 53.4 100.1 51.3 100.3 49.1 100.4 46.9 100.3 44.7 100.0 42.5 99.8 40.4 99.5 38.4 99.1 36.4 98.7 34.4 98.2 32.4 97.7 30.4 97.3 28.4 96.9 26.3 96.5" stroke="#6c6c6c" stroke-width="0.8" stroke-opacity="0.27"/>
<path d="M66.2 101.5 64.4 102.1 62.7 102.8 61.2 103.6 59.9 104.5 58.9 105.5 58.2 106.6 57.8 107.6 57.4 108.7 57.1 109.8 56.8 110.9 56.5 112.0 56.1 113.1 55.7 114.2 55.2 115.2 54.6 116.3 54.0 117.4 53.4 118.4" stroke="#6d6d6d" stroke-width="0.6" stroke-opacity="0.51"/>
<path d="M77.4 99.1 75.6 98.5 77.5 99.0 75.4 98.7 77.2 99.3 78.2 98.4 76.8 99.2 77.0 100.3 76.9 101.4 78.1 102.4 79.6 103.2 81.2 103.9 82.7 104.7 84.2 105.5 85.5 106.4 86.7 107.3 87.8 108.3 88.7 109.3" stroke="#717171" stroke-width="1.0" stroke-opacity="0.45"/>
<path d="M35.5 105.9 33.3 105.6 31.3 105.2 29.2 104.8 27.2 104.3 25.2 103.8 23.2 103.4 21.1 103.0 19.0 102.8 16.9 102.6 14.7 102.5 12.5 102.4 10.3 102.4 8.1 102.5 5.9 102.7 3.8 103.0 1.7 103.3 -0.3 103.8 -2.2 104.3" stroke="#686868" stroke-width="1.0" stroke-opacity="0.41"/>
<path d="M106.5 95.7 108.5 95.2 110.3 94.6 112.1 94.0 113.8 93.3 115.5 92.6 117.1 91.8 118.7 91.0 120.3 90.3 121.9 89.5 123.4 88.8 125.0 88.0 126.6 87.2 128.2 86.5 129.9 85.8 131.6 85.1" stroke="#5d5d5d" stroke-width="0.9" stroke-opacity="0.27"/>
<path d="M75.3 98.2 74.0 97.3 73.1 96.3 72.8 95.2 72.7 94.1 72.6 93.0 72.4 91.9 71.9 90.8 71.5 89.8 70.8 88.7 70.0 87.7 68.9 86.7 67.6 85.8 66.1 85.0 64.4 84.3 62.6 83.7 60.6 83.2" stroke="#5d5d5d" stroke-width="1.2" stroke-opacity="0.44"/>
<path d="M90.3 106.9 92.0 107.5 93.7 108.2 95.5 108.9 97.1 109.6 98.7 110.4 100.2 111.2 101.6 112.1 102.8 113.0 103.8 114.0 104.6 115.0 105.5 116.0 106.2 117.0 106.9 118.1 107.6 119.1 108.3 120.2 109.1 121.2" stroke="#5e5e5e" stroke-width="1.3" stroke-opacity="0.58"/>
<path d="M94.6 107.1 96.8 107.3 99.0 107.5 101.2 107.6 103.4 107.6 105.5 107.8 107.7 107.9 109.9 108.2 112.0 108.4 114.1 108.8 116.1 109.2 118.0 109.8 119.7 110.4" stroke="#777777" stroke-width="1.6" stroke-opacity="0.44"/>
<path d="M99.1 110.4 100.6 111.2 102.0 112.1 103.2 113.0 104.3 113.9 105.2 114.9 106.0 116.0 106.7 117.0 107.4 118.0 108.2 119.1 109.0 120.1 109.8 121.1 110.8 122.1 112.0 123.0 113.3 123.9 114.8 124.7 116.5 125.4" stroke="#6b6b6b" stroke-width="0.8" stroke-opacity="0.47"/>
<path d="M41.2 104.3 39.1 104.1 37.0 103.7 35.0 103.3 33.1 102.7 31.2 102.2 29.3 101.6 27.4 101.1 25.4 100.5 23.5 100.1 21.4 99.6 19.3 99.3 17.2 99.0 15.0 98.9 12.8 98.8 10.6 98.8 8.4 98.9" stroke="#6f6f6f" stroke-width="1.3" stroke-opacity="0.43"/>
<path d="M51.7 94.5 50.3 93.7 48.9 92.8 47.5 92.0 46.1 91.1 44.6 90.3 42.9 89.6 41.1 89.0 39.2 88.4 37.1 88.0 35.0 87.7 32.9 87.4 30.7 87.3 28.5 87.2 26.3 87.3 24.2 87.4 22.0 87.6" stroke="#616161" stroke-width="0.9" stroke-opacity="0.62"/>
<path d="M63.9 120.6 64.2 121.6 64.8 122.7 65.5 123.8 66.3 124.8 67.3 125.7 68.4 126.7 69.5 127.7 70.6 128.6 71.7 129.6 72.7 130.5 73.7 131.5 74.6 132.5 75.4 133.6 76.0 134.6 76.4 135.7" stroke="#626262" stroke-width="1.7" stroke-opacity="0.44"/>
<path d="M34.5 107.6 32.3 107.5 30.2 107.3 28.0 107.1 25.9 106.8 23.7 106.6 21.6 106.4 19.4 106.2 17.2 106.0 15.0 106.0 12.8 106.0 10.6 106.1" stroke="#5f5f5f" stroke-width="1.0" stroke-opacity="0.42"/>
<path d="M105.8 109.6 107.8 110.0 109.8 110.5 111.6 111.1 113.3 111.8 114.9 112.6 116.5 113.3 118.0 114.1 119.3 115.0 120.6 115.9 121.9 116.8 123.2 117.7" stroke="#767676" stroke-width="2.0" stroke-opacity="0.69"/>
<path d="M59.9 97.6 57.8 97.7 55.6 97.7 53.4 97.6 51.2 97.5 49.0 97.2 46.9 97.0 44.8 96.7 42.7 96.3 40.6 95.9 38.6 95.5 36.6 95.1 34.5 94.7 32.4 94.4" stroke="#707070" stroke-width="1.0" stroke-opacity="0.26"/>
<path d="M81.2 96.5 82.2 95.6 83.2 94.6 84.0 93.6 84.6 92.5 84.9 91.4 84.8 90.3 84.5 89.2 84.0 88.1 83.5 87.1 83.1 86.0 82.7 84.9 82.5 83.8 82.4 82.7 82.5 81.6 82.9 80.5 83.6 79.5 84.4 78.5" stroke="#676767" stroke-width="1.4" stroke-opacity="0.39"/>
<path d="M56.7 95.8 55.1 95.1 53.7 94.2 52.6 93.3 51.5 92.3 50.5 91.3 49.4 90.4 48.3 89.4 47.0 88.5 45.7 87.6 44.2 86.9 42.5 86.1 40.7 85.5 38.8 84.9 36.9 84.4" stroke="#717171" stroke-width="1.0" stroke-opacity="0.59"/>
<path d="M81.2 108.8 81.3 109.9 81.3 111.0 81.1 112.1 80.9 113.2 80.6 114.3 80.5 115.4 80.4 116.5 80.3 117.6 80.4 118.7 80.6 119.8 80.9 120.8 81.4 121.9 82.0 123.0" stroke="#636363" stroke-width="0.9" stroke-opacity="0.27"/>
<path d="M102.4 115.3 102.8 116.3 103.1 117.4 103.4 118.5 103.7 119.6 104.1 120.7 104.5 121.8 105.1 122.8 105.8 123.9 106.8 124.9 107.9 125.8 109.3 126.7" stroke="#6c6c6c" stroke-width="0.8" stroke-opacity="0.31"/>
<path d="M75.4 98.5 77.3 99.1 75.4 98.5 77.3 99.1 75.4 98.5 77.3 99.1 75.6 98.4 74.4 97.4 74.5 96.3 75.1 95.3 75.6 94.2 75.8 93.1 75.8 92.0 75.6 90.9 75.2 89.8 74.8 88.8 74.2 87.7" stroke="#6f6f6f" stroke-width="1.0" stroke-opacity="0.46"/>
<path d="M77.0 101.2 77.2 102.3 77.5 103.4 77.6 104.5 77.3 105.6 76.5 106.6 75.3 107.6 73.7 108.4 72.1 109.1 70.5 109.8 68.8 110.6 67.3 111.3 65.9 112.2 64.7 113.1 63.6 114.1 62.7 115.1 62.0 116.1 61.3 117.2 60.8 118.2" stroke="#626262" stroke-width="1.2" stroke-opacity="0.50"/>
<path d="M76.0 98.8 77.2 99.7 78.8 100.5 80.5 101.2 82.3 101.8 84.2 102.3 86.4 102.6 88.5 102.7 90.7 102.6 92.9 102.6 95.1 102.5 97.3 102.5 99.5 102.5 101.7 102.5 103.9 102.5 106.1 102.5 108.3 102.5 110.5 102.5 112.7 102.4 114.9 102.4" stroke="#717171" stroke-width="1.6" stroke-opacity="0.40"/>
<path d="M78.9 105.5 79.5 106.5 79.8 107.6 80.0 108.7 80.0 109.8 79.8 110.9 79.5 112.0 79.2 113.1 78.9 114.2 78.6 115.3 78.5 116.4 78.4 117.5 78.5 118.6 78.8 119.6 79.2 120.7" stroke="#616161" stroke-width="1.4" stroke-opacity="0.35"/>
<path d="M115.9 105.6 118.0 105.9 119.9 106.4 121.8 107.0 123.5 107.7 125.1 108.5 126.5 109.3 127.7 110.2 128.9 111.1 130.1 112.1 131.1 113.0 132.1 114.0 133.1 115.0 134.2 116.0" stroke="#686868" stroke-width="1.0" stroke-opacity="0.31"/>
<path d="M82.9 94.9 83.9 94.0 84.6 92.9 85.2 91.9 85.6 90.8 85.8 89.7 85.8 88.6 85.7 87.5 85.6 86.4 85.6 85.3 85.6 84.2 85.8 83.1 86.2 82.0 86.7 80.9 87.5 79.9 88.5 78.9" stroke="#6b6b6b" stroke-width="1.2" stroke-opacity="0.53"/>
<path d="M51.9 94.4 50.5 93.5 49.2 92.6 47.9 91.8 46.5 90.9 45.0 90.1 43.4 89.3 41.6 88.7 39.9 88.0 38.0 87.4 36.0 87.0 33.9 86.6 31.8 86.4 29.6 86.3 27.4 86.2 25.2 86.3 23.0 86.5" stroke="#5d5d5d" stroke-width="1.8" stroke-opacity="0.42"/>
<path d="M100.8 116.8 100.8 117.9 100.8 119.0 100.9 120.1 101.0 121.2 101.4 122.3 101.7 123.4 102.2 124.4 102.9 125.5 103.8 126.5 104.9 127.4 106.3 128.3" stroke="#6b6b6b" stroke-width="1.8" stroke-opacity="0.44"/>
<path d="M106.8 105.4 109.0 105.4 111.2 105.5 113.3 105.7 115.5 106.0 117.5 106.4 119.6 106.8 121.5 107.3 123.4 107.9 125.1 108.6 126.6 109.4 128.0 110.2 129.2 111.1" stroke="#646464" stroke-width="1.3" stroke-opacity="0.43"/>
<path d="M75.7 98.7 77.4 99.4 78.7 98.5 79.8 97.5 80.8 96.5 81.4 95.5 81.2 94.4 80.5 93.4 79.5 92.4 78.7 91.3 77.9 90.3 77.1 89.3 76.5 88.2 75.8 87.2 75.2 86.1" stroke="#6a6a6a" stroke-width="1.1" stroke-opacity="0.25"/>
<path d="M24.4 104.3 22.3 103.9 20.2 103.6 18.1 103.3 15.9 103.2 13.7 103.1 11.5 103.2 9.3 103.3 7.2 103.5 5.0 103.8 3.0 104.1 1.0 104.6" stroke="#656565" stroke-width="1.0" stroke-opacity="0.26"/>
<path d="M92.0 89.2 94.0 88.8 96.1 88.5 98.3 88.4 100.5 88.3 102.7 88.3 104.9 88.2 107.1 88.0 109.2 87.8 111.4 87.5 113.5 87.2 115.5 86.8 117.4 86.3 119.3 85.7 121.1 85.0 122.8 84.3 124.4 83.6 126.0 82.8" stroke="#707070" stroke-width="1.8" stroke-opacity="0.63"/>
<path d="M93.9 108.6 95.5 109.4 96.9 110.2 98.2 111.1 99.4 112.0 100.3 113.0 100.9 114.1 101.4 115.1 101.7 116.2 101.8 117.3 102.0 118.4 102.1 119.5 102.2 120.6 102.4 121.7 102.8 122.8 103.3 123.9 104.0 124.9 104.9 125.9 106.1 126.8 107.4 127.7" stroke="#5f5f5f" stroke-width="1.8" stroke-opacity="0.42"/>
<path d="M86.6 91.6 87.7 90.6 89.0 89.7 90.5 88.9 92.2 88.2 94.1 87.7 96.1 87.3 98.2 87.0 100.4 86.8 102.6 86.6 104.8 86.5 107.0 86.3 109.1 86.1 111.2 85.9 113.3 85.5 115.3 85.1 117.3 84.5" stroke="#616161" stroke-width="1.8" stroke-opacity="0.52"/>
<path d="M31.6 105.6 29.5 105.2 27.5 104.8 25.5 104.3 23.5 103.9 21.4 103.6 19.3 103.3 17.1 103.1 14.9 103.0 12.7 102.9 10.5 102.9 8.3 103.0 6.2 103.2 4.1 103.5 2.0 103.9 0.0 104.4" stroke="#5c5c5c" stroke-width="1.8" stroke-opacity="0.33"/>
<path d="M75.1 98.6 73.0 98.2 70.9 98.0 68.7 97.7 66.5 97.6 64.4 97.5 62.2 97.4 60.0 97.4 57.8 97.3 55.6 97.2 53.4 97.0 51.2 96.8 49.1 96.6 47.0 96.2 45.0 95.8 42.9 95.4 41.0 94.9 39.0 94.5 36.9 94.0 34.9 93.7" stroke="#686868" stroke-width="1.5" stroke-opacity="0.55"/>
<path d="M56.3 103.7 54.7 104.4 53.1 105.2 51.7 106.0 50.4 106.9 49.2 107.8 48.2 108.8 47.2 109.8 46.3 110.8 45.4 111.8 44.3 112.7 43.3 113.7 42.2 114.7 40.9 115.5 39.5 116.4 37.9 117.1 36.1 117.8 34.2 118.4 32.2 118.9 30.2 119.3 28.1 119.6" stroke="#747474" stroke-width="0.7" stroke-opacity="0.64"/>
<path d="M82.0 108.0 82.4 109.1 82.5 110.2 82.5 111.3 82.3 112.4 82.1 113.5 81.9 114.6 81.7 115.7 81.5 116.8 81.4 117.9 81.5 119.0 81.7 120.1 82.0 121.2" stroke="#696969" stroke-width="1.2" stroke-opacity="0.65"/>
<path d="M89.2 108.4 90.0 109.5 90.4 110.5 90.5 111.6 90.3 112.7 89.9 113.8 89.4 114.9 88.9 116.0 88.5 117.0 88.1 118.1 87.7 119.2 87.4 120.3 87.3 121.4 87.4 122.5 87.7 123.6 88.1 124.7 88.7 125.7 89.4 126.8" stroke="#626262" stroke-width="1.1" stroke-opacity="0.54"/>
<path d="M72.4 127.5 73.6 128.5 74.8 129.4 75.9 130.4 76.8 131.3 77.7 132.4 78.5 133.4 79.2 134.4 79.7 135.5 80.0 136.6 80.1 137.7 79.9 138.8 79.5 139.8 78.9 140.9 78.0 141.9" stroke="#757575" stroke-width="1.3" stroke-opacity="0.36"/>
<path d="M74.2 114.0 73.7 115.1 73.5 116.1 73.5 117.2 73.7 118.3 74.2 119.4 74.9 120.5 75.7 121.5 76.6 122.5 77.6 123.5 78.6 124.4 79.7 125.4 80.8 126.3 81.9 127.3 83.0 128.3 84.1 129.2 85.1 130.2 86.2 131.2" stroke="#676767" stroke-width="1.1" stroke-opacity="0.46"/>
<path d="M87.9 118.8 87.8 119.9 87.8 121.0 88.0 122.1 88.3 123.2 88.8 124.3 89.4 125.4 90.1 126.4 90.8 127.4 91.6 128.5 92.5 129.5 93.5 130.5 94.5 131.4 95.5 132.4 96.6 133.4 97.6 134.3 98.7 135.3" stroke="#656565" stroke-width="1.4" stroke-opacity="0.51"/>
<path d="M77.7 99.1 75.8 98.6 77.7 99.1 76.2 99.9 77.1 98.9 75.1 98.6 73.0 98.2 71.3 97.5 69.9 96.6 68.8 95.7 67.6 94.7 66.6 93.8 65.7 92.8 64.7 91.8 63.7 90.8 62.5 89.9 61.2 89.0" stroke="#747474" stroke-width="1.6" stroke-opacity="0.34"/>
<path d="M56.4 96.1 54.6 95.5 53.0 94.7 51.5 93.9 50.3 93.0 49.0 92.1 47.7 91.2 46.4 90.3 44.9 89.5 43.3 88.7 41.5 88.1 39.7 87.4 37.8 86.9 35.8 86.4 33.7 86.1 31.6 85.9 29.4 85.7 27.2 85.7" stroke="#616161" stroke-width="1.8" stroke-opacity="0.35"/>
<path d="M112.3 101.0 114.4 100.8 116.6 100.5 118.7 100.2 120.7 99.8 122.7 99.3 124.6 98.8 126.5 98.2 128.4 97.6 130.2 97.0 132.1 96.4 133.9 95.8 135.8 95.3 137.8 94.8 139.8 94.3" stroke="#676767" stroke-width="0.9" stroke-opacity="0.33"/>
<path d="M56.7 94.0 55.8 92.9 55.1 91.9 54.3 90.9 53.3 89.9 52.2 88.9 51.0 88.0 49.5 87.2 48.0 86.4 46.3 85.7 44.6 85.0 42.8 84.4 41.0 83.8 39.1 83.2 37.1 82.7 35.1 82.2 33.1 81.8 31.0 81.4 29.0 81.1" stroke="#737373" stroke-width="0.7" stroke-opacity="0.43"/>
<path d="M57.6 102.9 55.9 103.6 54.1 104.3 52.5 105.0 50.9 105.8 49.4 106.6 48.0 107.5 46.7 108.3 45.3 109.2 44.0 110.1 42.7 110.9 41.3 111.8 39.9 112.7 38.4 113.5 36.8 114.2" stroke="#636363" stroke-width="1.6" stroke-opacity="0.40"/>
<path d="M42.3 99.9 40.3 99.4 38.3 99.0 36.3 98.5 34.3 98.1 32.3 97.6 30.2 97.2 28.2 96.8 26.1 96.5 23.9 96.2 21.8 96.1 19.6 95.9 17.4 95.9 15.2 95.9 13.0 96.0" stroke="#6c6c6c" stroke-width="0.9" stroke-opacity="0.56"/>
<path d="M74.1 91.2 73.8 90.2 73.2 89.1 72.4 88.1 71.5 87.1 70.4 86.1 69.0 85.2 67.7 84.4 66.2 83.6 64.5 82.9 62.7 82.2 60.8 81.7 58.8 81.2 56.8 80.8 54.8 80.3 52.8 79.9" stroke="#616161" stroke-width="1.7" stroke-opacity="0.43"/>
<path d="M76.9 98.5 78.7 99.1 76.5 98.9 78.7 98.8 80.7 98.3 82.8 98.0 84.9 98.3 86.6 99.0 88.4 99.7 90.2 100.3 92.1 100.8 94.2 101.1 96.4 101.4 98.5 101.6 100.7 101.7 102.9 101.8 105.1 101.9 107.3 101.9" stroke="#686868" stroke-width="0.7" stroke-opacity="0.60"/>
</g>
<g filter="url(#warp)">
<ellipse cx="87.0" cy="86.0" rx="13.8" ry="3.6" transform="rotate(-8 87.0 86.0)" fill="#050505" fill-opacity="1"/>
<ellipse cx="112.0" cy="93.0" rx="13.8" ry="3.6" transform="rotate(-5 112.0 93.0)" fill="#050505" fill-opacity="0.97"/>
<ellipse cx="100.0" cy="100.0" rx="14.95" ry="3" transform="rotate(5 100.0 100.0)" fill="#050505" fill-opacity="0.92"/>
<ellipse cx="138.0" cy="99.5" rx="6.9" ry="3" fill="#050505" fill-opacity="0.97"/>
<ellipse cx="62.0" cy="84.0" rx="6.9" ry="4.8" fill="#0a0a0a" fill-opacity="0.87"/>
<ellipse cx="65.0" cy="114.0" rx="9.5" ry="6.5" transform="rotate(20 65.0 114.0)" fill="#050505" fill-opacity="1"/>
<ellipse cx="85.0" cy="117.5" rx="16" ry="6.5" transform="rotate(-8 85.0 117.5)" fill="#050505" fill-opacity="1"/>
<ellipse cx="93.0" cy="106.0" rx="8" ry="3.5" fill="#0d0d0d" fill-opacity="0.6"/>
<ellipse cx="32.0" cy="94.0" rx="6.9" ry="3.6" transform="rotate(10 32.0 94.0)" fill="#0f0f0f" fill-opacity="0.72"/>
<ellipse cx="22.0" cy="103.0" rx="11.5" ry="3.6" fill="#0f0f0f" fill-opacity="0.67"/>
<ellipse cx="70.0" cy="128.0" rx="8.05" ry="4.8" fill="#0f0f0f" fill-opacity="0.72"/>
<ellipse cx="110.0" cy="80.0" rx="9.2" ry="3" transform="rotate(10 110.0 80.0)" fill="#0f0f0f" fill-opacity="0.62"/>
<ellipse cx="50.0" cy="90.0" rx="9.2" ry="3" transform="rotate(-20 50.0 90.0)" fill="#0f0f0f" fill-opacity="0.52"/>
</g>
<g filter="url(#b3_0)">
<ellipse cx="77.0" cy="98.0" rx="13" ry="7" fill="#7a7a7a" fill-opacity="0.8"/>
</g>
<g filter="url(#b2_0)">
<ellipse cx="76.0" cy="98.5" rx="8" ry="5" fill="#878787" fill-opacity="0.85"/>
</g>
<g filter="url(#b0_8)">
<ellipse cx="89.0" cy="80.0" rx="6" ry="1.5" transform="rotate(-25 89.0 80.0)" fill="#757575" fill-opacity="0.8"/>
</g>
<g filter="url(#b0_5)" stroke-linecap="round" stroke-linejoin="round" fill="none">
<path d="M95.5 109.2 97.0 110.0 98.4 110.9 99.6 111.8 100.7 112.8 101.5 113.8 102.3 114.8 102.9 115.9 103.4 116.9 103.8 118.0 104.1 119.1 104.5 120.2 104.9 121.3 105.4 122.3" stroke="#636363" stroke-width="1.1" stroke-opacity="0.27"/>
<path d="M80.3 86.9 79.8 85.8 79.4 84.8 79.2 83.7 79.2 82.6 79.3 81.5 79.8 80.4 80.2 79.3 80.8 78.3 81.7 77.3 82.9 76.3 84.2 75.4 85.6 74.6 87.1 73.8" stroke="#666666" stroke-width="0.9" stroke-opacity="0.29"/>
<path d="M57.0 96.5 55.1 96.0 53.3 95.3 51.7 94.6 50.2 93.8 48.8 92.9 47.4 92.1 45.9 91.3 44.4 90.5 42.8 89.7 41.2 89.0 39.4 88.3 37.5 87.8 35.4 87.4" stroke="#646464" stroke-width="0.7" stroke-opacity="0.14"/>
<path d="M73.8 97.1 73.2 96.1 73.1 95.0 73.1 93.9 73.1 92.8 72.9 91.7 72.5 90.6 71.9 89.5 71.3 88.5 70.5 87.5 69.4 86.5 68.2 85.6 66.7 84.8" stroke="#656565" stroke-width="0.5" stroke-opacity="0.19"/>
<path d="M78.8 98.4 80.9 98.6 82.6 99.3 84.5 99.9 86.5 100.3 88.6 100.7 90.7 101.0 92.9 101.2 95.1 101.4 97.2 101.6 99.4 101.7 101.6 101.8 103.8 101.9 106.0 101.9 108.2 102.0 110.4 101.9 112.6 101.9" stroke="#646464" stroke-width="1.1" stroke-opacity="0.32"/>
<path d="M105.8 86.9 107.9 86.7 110.0 86.4 112.1 86.0 114.1 85.5 116.1 85.1 118.0 84.5 119.8 83.9 121.4 83.2 123.0 82.4 124.5 81.6" stroke="#676767" stroke-width="0.9" stroke-opacity="0.29"/>
<path d="M71.9 100.0 69.9 100.5 67.9 101.0 66.0 101.5 64.2 102.1 62.5 102.8 60.8 103.5 59.2 104.3 57.9 105.2 56.7 106.1 55.7 107.1" stroke="#636363" stroke-width="0.6" stroke-opacity="0.31"/>
<path d="M80.3 107.9 80.5 109.0 80.5 110.1 80.3 111.2 80.1 112.3 79.8 113.4 79.6 114.5 79.4 115.6 79.2 116.7 79.2 117.8 79.3 118.8 79.6 119.9" stroke="#737373" stroke-width="0.8" stroke-opacity="0.24"/>
<path d="M88.4 89.9 89.6 89.0 91.1 88.2 92.8 87.5 94.7 86.9 96.8 86.5 98.9 86.2 101.0 85.9 103.1 85.7 105.3 85.5 107.4 85.2 109.6 84.9 111.6 84.6 113.7 84.1 115.6 83.6 117.4 83.0 119.1 82.3" stroke="#656565" stroke-width="1.0" stroke-opacity="0.25"/>
<path d="M68.3 115.2 67.8 116.3 67.5 117.4 67.5 118.5 67.7 119.5 68.0 120.6 68.5 121.7 69.1 122.8 70.0 123.8 71.0 124.7" stroke="#5e5e5e" stroke-width="0.9" stroke-opacity="0.33"/>
<path d="M94.7 108.5 96.4 109.2 98.1 109.9 99.8 110.6 101.3 111.4 102.7 112.3 103.9 113.2 105.1 114.1 106.2 115.1 107.2 116.1 108.1 117.1 108.9 118.1 109.8 119.1 110.7 120.1" stroke="#5d5d5d" stroke-width="0.7" stroke-opacity="0.18"/>
<path d="M72.9 123.0 74.0 124.0 75.2 124.9 76.4 125.8 77.7 126.7 78.8 127.6 80.0 128.6 81.1 129.5 82.2 130.5 83.3 131.4 84.2 132.4 85.1 133.5" stroke="#656565" stroke-width="0.6" stroke-opacity="0.19"/>
<path d="M76.7 110.2 75.9 111.2 75.1 112.3 74.3 113.3 73.7 114.3 73.2 115.4 72.8 116.5 72.6 117.6 72.7 118.7 72.9 119.8 73.5 120.9 74.2 121.9 75.1 122.9 76.1 123.9" stroke="#6d6d6d" stroke-width="0.7" stroke-opacity="0.16"/>
<path d="M63.1 99.1 61.2 99.7 59.3 100.2 57.4 100.7 55.4 101.2 53.3 101.6 51.2 101.9 49.1 102.2 46.9 102.3" stroke="#727272" stroke-width="0.6" stroke-opacity="0.12"/>
<path d="M99.2 116.9 99.0 118.0 98.9 119.1 98.7 120.2 98.7 121.3 98.9 122.4 99.3 123.5 99.6 124.6 100.2 125.7 101.0 126.7 102.0 127.7" stroke="#717171" stroke-width="0.6" stroke-opacity="0.11"/>
<path d="M98.6 85.7 100.7 85.4 102.8 85.1 104.9 84.8 107.0 84.5 109.1 84.1 111.0 83.5 113.0 83.0 114.8 82.5 116.6 81.8 118.1 81.0 119.6 80.2" stroke="#737373" stroke-width="0.8" stroke-opacity="0.21"/>
<path d="M76.0 99.5 76.8 98.5 78.6 99.1 80.6 99.6 82.6 100.0 84.7 100.4 86.8 100.7 88.9 101.0 91.1 101.3 93.2 101.5 95.4 101.6 97.6 101.8 99.8 101.9 101.9 102.0" stroke="#636363" stroke-width="0.7" stroke-opacity="0.33"/>
<path d="M28.5 106.4 26.3 106.1 24.2 105.8 22.1 105.5 20.0 105.2 17.8 105.0 15.6 104.8 13.4 104.8 11.2 104.8 9.1 105.0 6.9 105.2 4.9 105.6" stroke="#616161" stroke-width="1.0" stroke-opacity="0.23"/>
<path d="M120.5 102.8 122.7 102.9 124.9 103.1 127.0 103.3 129.1 103.7 131.1 104.1 133.1 104.6 135.0 105.2 136.8 105.8 138.5 106.5 140.1 107.3 141.6 108.1 143.1 108.9" stroke="#5d5d5d" stroke-width="0.9" stroke-opacity="0.29"/>
<path d="M82.2 120.6 82.7 121.7 83.3 122.8 84.0 123.8 84.8 124.8 85.7 125.9 86.5 126.9 87.4 127.9 88.3 128.9 89.3 129.9 90.2 130.9" stroke="#757575" stroke-width="1.0" stroke-opacity="0.22"/>
<path d="M68.8 114.9 68.2 116.0 67.9 117.1 67.8 118.2 68.0 119.3 68.5 120.3 69.2 121.4 69.8 122.4 70.7 123.4 71.7 124.4 72.8 125.4 74.0 126.3 75.3 127.2 76.5 128.1 77.7 129.0" stroke="#6d6d6d" stroke-width="0.9" stroke-opacity="0.14"/>
<path d="M67.7 86.5 66.0 85.8 64.2 85.2 62.3 84.6 60.3 84.1 58.3 83.6 56.4 83.2 54.4 82.7 52.4 82.2 50.4 81.7" stroke="#5c5c5c" stroke-width="0.6" stroke-opacity="0.30"/>
<path d="M76.6 98.8 78.5 99.4 76.6 98.9 74.6 98.5 72.4 98.1 70.3 98.0 68.1 98.2 66.3 98.8 64.4 99.3 62.7 100.0 60.9 100.7 59.0 101.3 57.1 101.8 55.2 102.3 53.2 102.8 51.2 103.3" stroke="#636363" stroke-width="1.0" stroke-opacity="0.10"/>
<path d="M78.2 90.8 77.5 89.7 76.9 88.7 76.3 87.6 75.6 86.6 75.0 85.5 74.3 84.5 73.7 83.4 73.0 82.4 72.3 81.3" stroke="#5d5d5d" stroke-width="0.9" stroke-opacity="0.18"/>
<path d="M74.0 124.5 75.3 125.5 76.5 126.4 77.7 127.3 78.9 128.2 80.0 129.1 81.1 130.1 82.1 131.1 83.1 132.1 84.0 133.1 84.7 134.1 85.4 135.2 85.8 136.2" stroke="#5c5c5c" stroke-width="0.9" stroke-opacity="0.33"/>
<path d="M86.3 104.1 88.3 104.6 90.5 104.8 92.7 104.8 94.9 104.7 97.0 104.6 99.2 104.4 101.4 104.3 103.6 104.1 105.8 104.0 108.0 104.0 110.2 104.0 112.4 104.0 114.6 104.1 116.8 104.2" stroke="#626262" stroke-width="0.5" stroke-opacity="0.15"/>
<path d="M56.3 96.6 54.2 96.2 52.3 95.7 50.5 95.0 48.8 94.3 47.1 93.6 45.5 92.9 43.9 92.2 42.2 91.5 40.4 90.8 38.5 90.2 36.5 89.7 34.5 89.4 32.3 89.1" stroke="#757575" stroke-width="0.6" stroke-opacity="0.27"/>
<path d="M39.5 106.7 37.3 106.7 35.1 106.6 32.9 106.4 30.8 106.1 28.7 105.8 26.6 105.4 24.5 105.1 22.5 104.7 20.4 104.4 18.3 104.1 16.1 103.8" stroke="#6b6b6b" stroke-width="0.7" stroke-opacity="0.21"/>
<path d="M77.9 99.2 75.8 99.5 77.7 98.9 79.7 98.5 81.7 98.0 83.5 97.4 85.5 96.9 87.5 96.5 89.6 96.1 91.7 95.8 93.9 95.6 96.0 95.4 98.2 95.3 100.4 95.1 102.5 94.9 104.7 94.6" stroke="#6d6d6d" stroke-width="1.0" stroke-opacity="0.23"/>
<path d="M66.2 101.3 64.4 101.9 62.6 102.6 61.0 103.3 59.6 104.2 58.4 105.1 57.3 106.0 56.4 107.0 55.7 108.1 55.2 109.1" stroke="#707070" stroke-width="0.9" stroke-opacity="0.12"/>
<path d="M103.6 109.8 105.6 110.3 107.5 110.9 109.3 111.5 111.0 112.2 112.6 112.9 114.2 113.7 115.7 114.5 117.0 115.4 118.3 116.2 119.6 117.1 120.9 118.0 122.2 118.9 123.6 119.8" stroke="#676767" stroke-width="0.6" stroke-opacity="0.35"/>
<path d="M52.1 96.3 50.1 95.8 48.1 95.3 46.3 94.7 44.4 94.1 42.6 93.6 40.7 93.0 38.7 92.5 36.7 92.0 34.7 91.6 32.5 91.3" stroke="#5e5e5e" stroke-width="0.5" stroke-opacity="0.30"/>
<path d="M104.0 100.5 106.2 100.5 108.4 100.4 110.6 100.2 112.7 100.0 114.9 99.7 116.9 99.4 119.0 98.9 120.9 98.4" stroke="#5c5c5c" stroke-width="0.9" stroke-opacity="0.11"/>
<path d="M75.7 98.5 77.7 99.0 76.6 100.0 77.2 101.0 76.2 102.0 75.1 102.9 73.5 103.7 71.7 104.3 70.0 105.0" stroke="#656565" stroke-width="0.7" stroke-opacity="0.30"/>
<path d="M84.7 94.0 86.1 93.1 87.7 92.4 89.5 91.8 91.6 91.4 93.7 91.2 95.9 91.1 98.1 90.9 100.3 90.9 102.5 90.8 104.7 90.7 106.9 90.6" stroke="#6c6c6c" stroke-width="0.6" stroke-opacity="0.34"/>
<path d="M72.4 74.0 73.2 73.0 74.1 72.0 75.2 71.0 76.3 70.1 77.6 69.2 78.8 68.2 80.0 67.3 81.2 66.4 82.3 65.5 83.4 64.5" stroke="#5e5e5e" stroke-width="1.0" stroke-opacity="0.23"/>
<path d="M90.1 106.9 91.8 107.7 93.4 108.4 95.0 109.2 96.4 110.0 97.9 110.8 99.2 111.7 100.4 112.6 101.5 113.6 102.3 114.6" stroke="#747474" stroke-width="0.7" stroke-opacity="0.31"/>
<path d="M76.9 99.6 77.9 98.7 76.7 99.6 77.6 98.6 75.5 98.9 77.4 99.5 76.7 100.5 77.5 101.5 78.3 102.5 79.5 103.5 81.0 104.3 82.4 105.1 83.8 106.0 85.1 106.9" stroke="#737373" stroke-width="0.8" stroke-opacity="0.28"/>
<path d="M77.0 100.9 77.2 102.0 77.4 103.1 77.3 104.2 76.6 105.3 75.3 106.2 73.6 106.9 71.9 107.6 70.2 108.2 68.4 108.9 66.8 109.7 65.4 110.5 64.1 111.4 63.0 112.3" stroke="#6b6b6b" stroke-width="0.5" stroke-opacity="0.18"/>
<path d="M78.2 111.1 77.7 112.2 77.3 113.2 76.9 114.3 76.6 115.4 76.6 116.5 76.7 117.6 76.9 118.7 77.2 119.8 77.7 120.9 78.4 121.9 79.2 122.9 80.1 123.9 81.0 124.9" stroke="#616161" stroke-width="0.6" stroke-opacity="0.17"/>
<path d="M75.8 98.6 77.7 99.1 76.4 100.0 74.8 100.7 73.1 101.5 71.5 102.2 70.0 103.0 68.5 103.8 67.1 104.7 65.9 105.6 64.8 106.6 63.9 107.5" stroke="#6b6b6b" stroke-width="1.0" stroke-opacity="0.35"/>
<path d="M47.1 92.1 45.6 91.3 44.1 90.6 42.4 89.9 40.5 89.3 38.5 88.8 36.6 88.3 34.5 87.9 32.4 87.6 30.2 87.5 28.0 87.5 25.8 87.6 23.6 87.7" stroke="#646464" stroke-width="1.0" stroke-opacity="0.33"/>
<path d="M76.6 99.6 77.9 98.8 76.4 99.6 77.9 98.8 76.6 99.6 74.8 100.3 72.7 100.7 70.8 101.2 68.8 101.7 66.9 102.3 65.2 102.9 63.5 103.7 62.1 104.5 60.9 105.4 60.0 106.4 59.3 107.4" stroke="#6b6b6b" stroke-width="0.8" stroke-opacity="0.30"/>
<path d="M85.8 91.7 86.5 90.6 87.1 89.6 87.7 88.5 88.2 87.4 88.9 86.4 89.7 85.4 90.5 84.3 91.4 83.3 92.4 82.4 93.5 81.4 94.8 80.5 96.2 79.7 97.6 78.8" stroke="#737373" stroke-width="0.8" stroke-opacity="0.23"/>
<path d="M75.4 79.5 75.7 78.4 76.3 77.3 77.1 76.3 78.2 75.4 79.3 74.4 80.5 73.5 81.9 72.7 83.4 71.9 85.0 71.1 86.6 70.3 88.1 69.5 89.7 68.7" stroke="#6c6c6c" stroke-width="1.0" stroke-opacity="0.13"/>
<path d="M83.5 104.1 85.1 104.8 86.7 105.6 88.2 106.4 89.7 107.2 91.1 108.1 92.3 109.0 93.4 109.9 94.1 111.0 94.9 112.0 95.4 113.1 95.6 114.2 95.5 115.3 95.2 116.4 94.8 117.4 94.4 118.5" stroke="#696969" stroke-width="0.8" stroke-opacity="0.15"/>
<path d="M80.9 96.5 81.5 95.5 81.5 94.4 80.8 93.3 79.9 92.3 79.0 91.3 78.1 90.3 77.3 89.3 76.6 88.2 76.0 87.2" stroke="#616161" stroke-width="1.1" stroke-opacity="0.30"/>
<path d="M115.0 97.4 116.7 96.7 118.3 96.0 119.8 95.1 121.2 94.3 122.6 93.5 124.0 92.6 125.5 91.8 126.9 90.9 128.4 90.1 129.9 89.3 131.5 88.6 133.2 87.9" stroke="#707070" stroke-width="1.1" stroke-opacity="0.13"/>
<path d="M98.1 91.1 100.3 91.0 102.5 90.9 104.7 90.8 106.8 90.5 109.0 90.2 111.0 89.8 113.0 89.3 114.9 88.8 116.8 88.3 118.7 87.7 120.5 87.0 122.2 86.4 123.9 85.7 125.6 84.9" stroke="#727272" stroke-width="1.1" stroke-opacity="0.21"/>
<path d="M46.5 101.4 44.3 101.2 42.2 100.9 40.1 100.5 38.1 100.1 36.2 99.6 34.2 99.1 32.3 98.6 30.3 98.1 28.3 97.6 26.2 97.2 24.1 96.9 22.0 96.7 19.8 96.5 17.6 96.4" stroke="#646464" stroke-width="0.8" stroke-opacity="0.33"/>
<path d="M39.1 108.4 37.0 108.7 34.8 109.0 32.7 109.1 30.5 109.2 28.3 109.2 26.1 109.2 23.9 109.1 21.7 109.1 19.5 109.2 17.3 109.2 15.1 109.4 13.0 109.7" stroke="#6a6a6a" stroke-width="0.6" stroke-opacity="0.13"/>
<path d="M45.6 102.6 43.5 102.4 41.4 102.1 39.3 101.7 37.3 101.2 35.4 100.7 33.5 100.2 31.5 99.7 29.6 99.1 27.7 98.6 25.6 98.2 23.6 97.8 21.5 97.5" stroke="#727272" stroke-width="1.1" stroke-opacity="0.18"/>
<path d="M64.1 116.9 63.8 118.0 63.7 119.1 63.8 120.2 64.0 121.3 64.5 122.3 65.2 123.4 65.8 124.4 66.6 125.5 67.5 126.5 68.5 127.4 69.6 128.4 70.7 129.4 71.7 130.3 72.7 131.3" stroke="#707070" stroke-width="1.1" stroke-opacity="0.15"/>
<path d="M58.7 120.7 58.5 121.8 58.4 122.9 58.3 124.0 58.2 125.1 58.2 126.2 58.1 127.3 58.0 128.4 57.9 129.5 57.8 130.6 57.5 131.7 57.1 132.7" stroke="#747474" stroke-width="1.0" stroke-opacity="0.30"/>
<path d="M42.0 96.8 40.0 96.4 37.9 96.0 35.9 95.6 33.8 95.3 31.6 95.0 29.5 94.8 27.3 94.6 25.1 94.4 22.9 94.4 20.7 94.4 18.5 94.4" stroke="#606060" stroke-width="1.2" stroke-opacity="0.33"/>
<path d="M97.6 108.9 99.5 109.4 101.4 109.9 103.3 110.5 105.2 111.1 106.9 111.8 108.5 112.5 110.0 113.3 111.6 114.1 113.0 115.0 114.3 115.8 115.6 116.7" stroke="#676767" stroke-width="0.5" stroke-opacity="0.33"/>
<path d="M56.6 99.7 54.5 100.1 52.3 100.3 50.1 100.4 47.9 100.4 45.8 100.2 43.6 100.1 41.4 99.8 39.4 99.4 37.3 99.0 35.4 98.5 33.4 98.0 31.4 97.6 29.4 97.1" stroke="#676767" stroke-width="0.6" stroke-opacity="0.19"/>
<path d="M51.5 94.4 50.1 93.5 48.7 92.7 47.4 91.8 45.9 91.0 44.4 90.2 42.7 89.5 41.1 88.8 39.3 88.1 37.3 87.6 35.3 87.2 33.2 86.9 31.0 86.7 28.8 86.6" stroke="#707070" stroke-width="1.0" stroke-opacity="0.16"/>
<path d="M93.1 106.0 95.3 106.1 97.5 106.0 99.7 105.9 101.9 105.8 104.0 105.7 106.2 105.6 108.4 105.6 110.6 105.6" stroke="#606060" stroke-width="0.7" stroke-opacity="0.25"/>
<path d="M43.3 106.9 41.2 107.2 39.0 107.5 36.9 107.7 34.7 107.7 32.5 107.7 30.3 107.5 28.1 107.3 26.0 107.1 23.8 106.9 21.7 106.6 19.5 106.5 17.3 106.3 15.1 106.3 12.9 106.3" stroke="#6a6a6a" stroke-width="0.8" stroke-opacity="0.18"/>
</g>
<g filter="url(#b0_5)">
<ellipse cx="73.0" cy="93.0" rx="1.4" ry="1.0" fill="#a3a3a3" fill-opacity="1"/>
<ellipse cx="77.0" cy="98.5" rx="2.2" ry="1.2" fill="#adadad" fill-opacity="1"/>
<ellipse cx="81.0" cy="97.0" rx="1.2" ry="0.8" fill="#a6a6a6" fill-opacity="1"/>
</g>
</g>
<g id="lv1">
<polygon points="4.0,175.8 77.0,138.20000000000002 149.5,175.8 77.0,213.4" fill="#1c1c1c"/>
<g filter="url(#b3_0)">
<ellipse cx="80.0" cy="176.0" rx="26" ry="12.5" fill="#525252" fill-opacity="0.75"/>
<ellipse cx="40.0" cy="178.0" rx="14" ry="5" transform="rotate(-10 40.0 178.0)" fill="#4c4c4c" fill-opacity="0.5"/>
<ellipse cx="122.0" cy="170.0" rx="14" ry="5" transform="rotate(10 122.0 170.0)" fill="#4c4c4c" fill-opacity="0.5"/>
<ellipse cx="48.0" cy="195.0" rx="10" ry="5" transform="rotate(20 48.0 195.0)" fill="#525252" fill-opacity="0.5"/>
<ellipse cx="75.0" cy="152.0" rx="8" ry="4" fill="#4c4c4c" fill-opacity="0.5"/>
</g>
<g filter="url(#b0_5)" stroke-linecap="round" stroke-linejoin="round" fill="none">
<path d="M51.2 181.4 49.0 181.5 46.8 181.5 44.6 181.6 42.4 181.7 40.2 181.8 38.0 181.9 35.9 182.1 33.7 182.3 31.6 182.7 29.6 183.1 27.6 183.5 25.6 184.0 23.7 184.6 21.8 185.1 20.0 185.8" stroke="#5e5e5e" stroke-width="1.4" stroke-opacity="0.41"/>
<path d="M56.9 162.1 54.9 161.6 52.9 161.3 50.8 160.9 48.7 160.6 46.6 160.2 44.5 159.9 42.4 159.6 40.4 159.1 38.4 158.7 36.5 158.1" stroke="#686868" stroke-width="0.7" stroke-opacity="0.29"/>
<path d="M84.1 165.7 85.4 164.8 87.0 164.1 88.8 163.4 90.7 162.9 92.7 162.4 94.6 161.9 96.5 161.4 98.4 160.8 100.2 160.1 101.8 159.4 103.3 158.6" stroke="#6d6d6d" stroke-width="1.4" stroke-opacity="0.28"/>
<path d="M58.6 190.2 57.4 191.1 56.1 192.0 54.7 192.9 53.1 193.6 51.5 194.3 49.8 195.1 48.0 195.7 46.2 196.3 44.3 196.9 42.5 197.5 40.6 198.1" stroke="#6b6b6b" stroke-width="0.8" stroke-opacity="0.44"/>
<path d="M79.8 175.3 78.8 176.3 81.0 176.5 79.3 175.8 81.4 175.5 79.5 176.1 81.3 175.4 79.7 176.2 81.2 175.4 82.7 174.5 84.8 174.8 87.0 175.0 89.1 175.1 91.3 175.1 93.5 174.9 95.7 174.7 97.8 174.4 99.9 174.0 102.0 173.7 104.0 173.3" stroke="#616161" stroke-width="1.4" stroke-opacity="0.54"/>
<path d="M79.4 176.0 81.6 176.0 79.4 176.0 77.4 175.5 75.9 174.7 75.3 173.7 74.6 172.6 73.7 171.6 72.6 170.6 71.4 169.7 70.2 168.8 68.8 168.0 67.4 167.1 65.8 166.4 64.1 165.7" stroke="#5d5d5d" stroke-width="0.9" stroke-opacity="0.56"/>
<path d="M75.0 176.3 72.9 176.5 70.8 176.8 68.7 177.2 66.7 177.7 64.8 178.2 62.9 178.8 60.9 179.3 58.9 179.7 56.9 180.2 54.8 180.5 52.7 180.8 50.5 181.0 48.4 181.1 46.2 181.2 44.0 181.3 41.8 181.3 39.6 181.4" stroke="#666666" stroke-width="0.9" stroke-opacity="0.33"/>
<path d="M66.4 190.2 66.9 191.3 67.4 192.4 67.9 193.4 68.3 194.5 68.5 195.6 68.5 196.7 68.3 197.8 67.9 198.9 67.3 199.9 66.7 201.0 65.8 202.0 64.7 203.0 63.5 203.9 62.0 204.7 60.4 205.5 58.8 206.2" stroke="#6a6a6a" stroke-width="1.1" stroke-opacity="0.45"/>
<path d="M62.9 186.6 61.9 187.6 61.0 188.6 60.2 189.6 59.2 190.6 58.3 191.6 57.2 192.5 56.1 193.5 54.8 194.3 53.4 195.2 52.0 196.1 50.5 196.9 48.9 197.6 47.3 198.3 45.6 199.1 43.9 199.8 42.2 200.5 40.7 201.2" stroke="#606060" stroke-width="1.1" stroke-opacity="0.67"/>
<path d="M88.6 163.2 90.5 162.6 92.4 162.1 94.4 161.6 96.2 161.0 98.0 160.4 99.7 159.6 101.2 158.9 102.6 158.0 103.9 157.1 105.1 156.2 106.2 155.3 107.3 154.3 108.2 153.3 109.0 152.3" stroke="#6c6c6c" stroke-width="1.8" stroke-opacity="0.39"/>
<path d="M80.4 177.1 82.3 177.6 84.4 177.9 86.6 178.2 88.6 178.5 90.8 178.8 92.9 179.1 95.1 179.2 97.3 179.3 99.5 179.4 101.7 179.3 103.9 179.2 106.0 179.0 108.1 178.7 110.2 178.4 112.3 178.0 114.5 177.7 116.6 177.5" stroke="#5e5e5e" stroke-width="0.7" stroke-opacity="0.37"/>
<path d="M63.8 186.9 63.3 187.9 62.9 189.0 62.6 190.1 62.5 191.2 62.3 192.3 62.2 193.4 62.0 194.5 61.6 195.6 61.1 196.6 60.3 197.7 59.6 198.7 58.7 199.7 57.5 200.6 56.2 201.5 54.8 202.4 53.3 203.2 51.7 203.9 50.1 204.7 48.5 205.4 46.9 206.2" stroke="#646464" stroke-width="1.4" stroke-opacity="0.56"/>
<path d="M81.6 173.0 81.9 171.9 82.3 170.8 82.8 169.7 83.7 168.7 85.0 167.8 86.6 167.1 88.4 166.4 90.2 165.8 92.1 165.2 94.0 164.7 95.9 164.2 97.8 163.6 99.5 162.9 101.2 162.2 102.7 161.4 104.1 160.6 105.4 159.7" stroke="#5c5c5c" stroke-width="1.2" stroke-opacity="0.33"/>
<path d="M30.2 174.1 28.1 174.6 26.2 175.1 24.4 175.7 22.6 176.4 21.0 177.1 19.3 177.8 17.7 178.5 16.1 179.3 14.5 180.0 12.8 180.8 11.1 181.5 9.4 182.2 7.6 182.8" stroke="#717171" stroke-width="1.2" stroke-opacity="0.66"/>
<path d="M68.0 180.9 66.7 181.8 65.4 182.7 64.0 183.5 62.6 184.3 61.0 185.1 59.3 185.8 57.5 186.4 55.5 186.9 53.4 187.2 51.3 187.6 49.1 187.8 46.9 187.8 44.7 187.8 42.6 187.8 40.4 187.7 38.2 187.6 36.0 187.5" stroke="#646464" stroke-width="0.8" stroke-opacity="0.44"/>
<path d="M80.7 175.3 79.3 176.1 81.1 175.5 82.5 174.6 83.8 173.7 85.3 172.9 87.0 172.2 88.9 171.7 90.9 171.2 92.9 170.8 95.0 170.4 97.0 170.0 99.0 169.5 100.9 169.0 102.7 168.3 104.4 167.6 105.8 166.8 107.1 165.9" stroke="#757575" stroke-width="1.9" stroke-opacity="0.32"/>
<path d="M46.3 174.7 44.3 174.3 42.1 174.0 40.0 173.9 37.8 173.8 35.6 173.9 33.4 173.9 31.2 174.1 29.1 174.4 27.0 174.8 25.1 175.3 23.2 175.9" stroke="#696969" stroke-width="1.4" stroke-opacity="0.37"/>
<path d="M56.1 163.1 53.9 162.9 51.7 162.7 49.5 162.6 47.4 162.5 45.2 162.4 43.0 162.3 40.8 162.1 38.7 161.8 36.6 161.4 34.5 161.1 32.5 160.6 30.7 160.0 28.9 159.4 27.3 158.6 25.9 157.8 24.7 156.8" stroke="#6c6c6c" stroke-width="1.9" stroke-opacity="0.56"/>
<path d="M80.7 175.4 80.1 176.5 79.4 175.4 80.4 176.4 80.2 175.3 78.8 176.2 80.8 175.7 82.2 174.8 83.4 173.9 84.8 173.0 86.3 172.3 87.9 171.5 89.6 170.8 91.4 170.2 93.2 169.6 95.1 169.0 96.9 168.4 98.7 167.7 100.4 167.0 101.9 166.2 103.4 165.4" stroke="#5d5d5d" stroke-width="1.9" stroke-opacity="0.60"/>
<path d="M106.8 179.1 108.9 178.8 111.1 178.5 113.2 178.2 115.4 178.1 117.6 178.0 119.8 178.0 121.9 178.2 124.1 178.5 126.2 178.7 128.3 179.1 130.3 179.6 132.2 180.1 134.1 180.6 136.0 181.2 137.9 181.8 139.8 182.3" stroke="#676767" stroke-width="0.7" stroke-opacity="0.54"/>
<path d="M31.9 172.0 29.7 172.2 27.6 172.5 25.5 172.9 23.5 173.3 21.6 173.8 19.7 174.4 17.9 175.0 16.1 175.6 14.3 176.3 12.5 176.9 10.7 177.5 8.8 178.1 6.9 178.7 5.0 179.2" stroke="#606060" stroke-width="1.1" stroke-opacity="0.27"/>
<path d="M32.9 169.9 30.7 169.9 28.5 169.9 26.3 170.0 24.1 170.1 22.0 170.3 19.8 170.4 17.6 170.6 15.4 170.7 13.2 170.9 11.1 171.0 8.9 171.1 6.7 171.2" stroke="#6d6d6d" stroke-width="0.7" stroke-opacity="0.34"/>
<path d="M80.6 176.2 81.0 175.1 81.3 174.0 81.5 172.9 81.6 171.8 81.5 170.7 81.1 169.7 80.4 168.6 79.2 167.7 77.7 166.9 76.3 166.0 74.8 165.2 73.3 164.4 72.0 163.6 70.7 162.7 69.5 161.7 68.6 160.7" stroke="#666666" stroke-width="0.8" stroke-opacity="0.63"/>
<path d="M104.1 186.8 104.5 187.9 105.0 189.0 105.5 190.0 106.2 191.1 107.0 192.1 108.0 193.1 109.1 194.0 110.3 195.0 111.5 195.9 112.9 196.7 114.4 197.5 116.0 198.3 117.6 199.0 119.3 199.8 121.0 200.4" stroke="#5e5e5e" stroke-width="0.7" stroke-opacity="0.40"/>
<path d="M81.2 166.0 80.9 164.9 80.8 163.8 80.7 162.7 80.8 161.6 81.1 160.5 81.5 159.4 82.1 158.4 82.8 157.3 83.6 156.3 84.3 155.2 85.0 154.2 85.7 153.2 86.2 152.1 86.6 151.0 86.9 149.9" stroke="#5c5c5c" stroke-width="1.9" stroke-opacity="0.49"/>
<path d="M71.0 167.9 69.5 167.1 68.0 166.3 66.4 165.5 64.8 164.8 63.0 164.1 61.2 163.5 59.3 163.0 57.3 162.5 55.3 162.1 53.2 161.7 51.1 161.3 49.0 161.0 46.9 160.7 44.8 160.5" stroke="#646464" stroke-width="1.5" stroke-opacity="0.29"/>
<path d="M95.0 180.6 96.7 181.3 98.3 182.1 99.6 183.0 100.6 184.0 101.4 185.0 102.0 186.0 102.5 187.1 103.0 188.2 103.5 189.3 104.0 190.3 104.6 191.4 105.4 192.4 106.3 193.4" stroke="#717171" stroke-width="1.3" stroke-opacity="0.60"/>
<path d="M58.8 179.1 56.7 179.3 54.5 179.5 52.3 179.5 50.1 179.5 47.9 179.5 45.7 179.5 43.5 179.5 41.3 179.5 39.1 179.6 36.9 179.8 34.8 180.0 32.7 180.4" stroke="#737373" stroke-width="1.6" stroke-opacity="0.35"/>
<path d="M73.6 176.6 72.5 177.6 71.5 178.6 70.5 179.5 69.3 180.5 68.1 181.4 66.9 182.3 65.7 183.3 64.5 184.2 63.3 185.1 62.1 186.0" stroke="#727272" stroke-width="1.3" stroke-opacity="0.34"/>
<path d="M78.1 177.8 76.7 178.6 75.4 179.5 74.4 180.5 73.7 181.5 73.3 182.6 73.2 183.7 73.5 184.8 73.7 185.9 74.0 187.0 74.4 188.1 74.9 189.2 75.3 190.2 75.7 191.3 76.1 192.4 76.4 193.5 76.8 194.6 77.2 195.7" stroke="#777777" stroke-width="1.1" stroke-opacity="0.35"/>
<path d="M53.9 178.0 51.8 177.7 49.6 177.4 47.5 177.1 45.4 176.8 43.2 176.7 41.0 176.6 38.8 176.7 36.6 176.8 34.5 177.0 32.4 177.3 30.3 177.7 28.4 178.3 26.5 178.8 24.7 179.5" stroke="#6d6d6d" stroke-width="1.9" stroke-opacity="0.63"/>
<path d="M81.5 174.7 82.0 173.6 82.7 172.5 83.6 171.5 84.8 170.6 86.3 169.8 87.7 169.0 89.4 168.2 91.1 167.6 92.9 167.0 94.8 166.3 96.6 165.7 98.3 165.1 100.0 164.3 101.6 163.6 103.0 162.7" stroke="#737373" stroke-width="0.8" stroke-opacity="0.42"/>
<path d="M67.5 185.0 67.3 186.0 67.4 187.1 67.8 188.2 68.3 189.3 69.0 190.3 69.6 191.4 70.2 192.5 70.8 193.5 71.3 194.6 71.7 195.7 72.0 196.8 72.2 197.9 72.2 199.0 72.0 200.1" stroke="#727272" stroke-width="1.1" stroke-opacity="0.61"/>
<path d="M91.9 186.4 92.5 187.4 93.1 188.5 93.9 189.5 94.8 190.5 95.8 191.5 96.9 192.4 98.2 193.3 99.7 194.2 101.2 195.0 102.7 195.7 104.3 196.5 105.9 197.2 107.6 197.9 109.3 198.6 111.0 199.3 112.8 200.0 114.5 200.7 116.2 201.4" stroke="#767676" stroke-width="1.6" stroke-opacity="0.33"/>
<path d="M47.5 174.6 45.5 174.2 43.4 173.8 41.3 173.6 39.1 173.4 36.9 173.4 34.7 173.5 32.5 173.7 30.4 174.0 28.4 174.4 26.5 175.0 24.5 175.5 22.7 176.1 20.9 176.7 19.2 177.4 17.6 178.2 15.9 178.9 14.3 179.6 12.7 180.4" stroke="#606060" stroke-width="1.8" stroke-opacity="0.69"/>
<path d="M80.9 177.2 82.3 178.1 82.1 179.2 81.0 180.1 80.0 181.1 79.2 182.1 78.5 183.2 78.1 184.2 77.7 185.3 77.5 186.4 77.3 187.5 77.3 188.6 77.3 189.7 77.4 190.8 77.6 191.9 77.9 193.0 78.2 194.1 78.5 195.2 78.9 196.3" stroke="#5f5f5f" stroke-width="0.6" stroke-opacity="0.69"/>
<path d="M79.5 175.5 81.7 175.7 79.5 176.0 80.9 176.9 81.7 177.9 83.4 178.6 85.4 179.1 87.4 179.5 89.3 180.1 91.3 180.6 93.1 181.2 94.8 181.9 96.4 182.6 97.8 183.5 98.9 184.4" stroke="#777777" stroke-width="0.9" stroke-opacity="0.64"/>
<path d="M37.0 169.5 34.8 169.4 32.7 169.4 30.5 169.3 28.3 169.3 26.1 169.4 23.9 169.4 21.7 169.4 19.5 169.5 17.3 169.5 15.1 169.5 12.9 169.5 10.7 169.4 8.5 169.3 6.3 169.2 4.2 168.9" stroke="#717171" stroke-width="1.1" stroke-opacity="0.49"/>
<path d="M71.7 195.1 71.9 196.1 72.0 197.2 72.0 198.3 71.7 199.4 71.3 200.5 70.6 201.6 69.7 202.6 68.7 203.6 67.6 204.5 66.3 205.4 64.8 206.2 63.2 206.9 61.5 207.6 59.7 208.3 57.9 208.9 56.2 209.6 54.4 210.3" stroke="#757575" stroke-width="1.5" stroke-opacity="0.62"/>
<path d="M91.1 169.3 92.9 168.7 94.7 168.1 96.4 167.4 98.1 166.7 99.6 165.9 101.1 165.1 102.5 164.2 103.9 163.4 105.1 162.4 106.2 161.5 107.3 160.5 108.3 159.6 109.2 158.6 110.1 157.6 111.0 156.5" stroke="#6b6b6b" stroke-width="1.3" stroke-opacity="0.26"/>
<path d="M62.6 182.2 60.9 182.9 59.0 183.5 57.1 184.0 55.0 184.4 52.8 184.6 50.6 184.7 48.4 184.8 46.2 184.8 44.0 184.8 41.8 184.8 39.6 184.7" stroke="#616161" stroke-width="1.3" stroke-opacity="0.58"/>
<path d="M79.1 176.1 76.9 176.0 75.9 177.0 74.9 178.0 73.7 178.9 72.5 179.8 71.4 180.7 70.3 181.7 69.4 182.7 68.8 183.8 68.1 184.8 67.7 185.9 67.5 187.0 67.6 188.1 67.9 189.2 68.5 190.3 69.1 191.3 69.7 192.4 70.3 193.4" stroke="#6b6b6b" stroke-width="1.7" stroke-opacity="0.30"/>
<path d="M68.6 181.7 67.4 182.6 66.3 183.6 65.3 184.6 64.4 185.6 63.6 186.6 62.8 187.6 62.1 188.6 61.4 189.7 60.8 190.8 60.3 191.8 59.7 192.9 59.2 194.0" stroke="#717171" stroke-width="1.3" stroke-opacity="0.50"/>
<path d="M109.7 173.3 111.7 172.8 113.7 172.3 115.7 171.9 117.8 171.5 119.8 171.1 121.9 170.8 124.1 170.5 126.2 170.3 128.4 170.1 130.6 170.0 132.8 170.0 135.0 170.1 137.1 170.3 139.2 170.7 141.3 171.1" stroke="#6d6d6d" stroke-width="1.3" stroke-opacity="0.48"/>
<path d="M80.2 176.2 81.1 177.2 82.2 178.1 83.4 179.1 84.6 180.0 85.7 180.9 86.5 181.9 87.0 183.0 87.2 184.1 87.3 185.2 87.2 186.3 87.0 187.4 86.8 188.5 86.7 189.6 86.6 190.7 86.8 191.8 87.1 192.9 87.7 193.9" stroke="#6a6a6a" stroke-width="0.9" stroke-opacity="0.49"/>
<path d="M120.5 172.8 122.7 172.7 124.9 172.7 127.1 172.8 129.2 173.1 131.3 173.5 133.3 174.0 135.2 174.5 137.1 175.1 138.9 175.7 140.7 176.4 142.4 177.0 144.2 177.7 146.0 178.3 147.8 178.9 149.8 179.4" stroke="#737373" stroke-width="0.8" stroke-opacity="0.30"/>
<path d="M59.5 186.5 57.8 187.2 55.9 187.8 53.9 188.2 51.8 188.5 49.6 188.7 47.4 188.7 45.2 188.7 43.0 188.6 40.8 188.5 38.6 188.4 36.4 188.3 34.2 188.3 32.0 188.4 29.9 188.5" stroke="#5e5e5e" stroke-width="1.5" stroke-opacity="0.60"/>
<path d="M76.7 190.7 77.0 191.8 77.3 192.8 77.7 193.9 78.1 195.0 78.5 196.1 78.9 197.2 79.4 198.3 79.8 199.3 80.2 200.4 80.6 201.5 81.0 202.6 81.3 203.7 81.5 204.8 81.7 205.9 81.7 207.0 81.5 208.1 81.2 209.1 80.8 210.2 80.1 211.3 79.4 212.3" stroke="#6e6e6e" stroke-width="0.8" stroke-opacity="0.65"/>
<path d="M81.8 194.0 82.4 195.1 83.1 196.2 83.9 197.2 84.9 198.2 86.0 199.1 87.3 200.0 88.6 200.9 90.1 201.7 91.6 202.5 93.1 203.3 94.7 204.0 96.3 204.8 97.9 205.5" stroke="#757575" stroke-width="0.8" stroke-opacity="0.55"/>
<path d="M79.6 166.9 78.5 166.0 77.2 165.1 76.0 164.2 74.8 163.3 73.8 162.3 73.0 161.3 72.4 160.2 72.1 159.1 71.8 158.0 71.7 156.9 71.8 155.8 72.2 154.7 72.7 153.7 73.3 152.6 73.9 151.5 74.5 150.5 75.1 149.4" stroke="#656565" stroke-width="0.9" stroke-opacity="0.39"/>
<path d="M62.9 191.7 62.9 192.8 62.8 193.9 62.7 195.0 62.3 196.1 61.8 197.2 61.0 198.2 60.1 199.2 58.9 200.1 57.8 201.0 56.4 201.9 55.0 202.7 53.4 203.5 51.8 204.3 50.2 205.0 48.6 205.8 47.0 206.6 45.5 207.4" stroke="#686868" stroke-width="0.6" stroke-opacity="0.40"/>
<path d="M79.3 175.7 80.6 176.6 81.5 177.6 82.8 178.5 84.6 179.1 86.5 179.7 88.5 180.2 90.4 180.7 92.2 181.3 93.9 182.0 95.4 182.8" stroke="#777777" stroke-width="1.7" stroke-opacity="0.69"/>
<path d="M45.9 171.2 43.8 170.9 41.7 170.6 39.5 170.4 37.3 170.3 35.1 170.2 32.9 170.2 30.7 170.2 28.5 170.3 26.3 170.3 24.1 170.5 22.0 170.6" stroke="#636363" stroke-width="0.8" stroke-opacity="0.44"/>
<path d="M111.0 178.3 113.2 178.1 115.3 177.9 117.5 177.8 119.7 177.8 121.9 177.9 124.0 178.2 126.1 178.5 128.1 179.0 130.1 179.5 132.1 180.0 134.0 180.5 135.8 181.1 137.7 181.7 139.6 182.2 141.6 182.7" stroke="#606060" stroke-width="1.9" stroke-opacity="0.51"/>
<path d="M64.6 186.0 64.0 187.1 63.5 188.2 63.3 189.3 63.2 190.4 63.1 191.5 63.1 192.6 63.1 193.7 63.0 194.8 62.7 195.9 62.3 196.9 61.8 198.0 61.2 199.1 60.3 200.1 59.2 201.0 58.0 201.9" stroke="#616161" stroke-width="1.9" stroke-opacity="0.37"/>
<path d="M24.7 171.4 22.6 171.7 20.5 172.1 18.4 172.5 16.4 172.9 14.4 173.3 12.3 173.7 10.3 174.2 8.3 174.6 6.2 174.9 4.1 175.2 1.9 175.5 -0.3 175.6" stroke="#6d6d6d" stroke-width="0.9" stroke-opacity="0.37"/>
<path d="M30.3 174.4 28.3 174.8 26.4 175.4 24.6 176.0 22.8 176.6 21.2 177.4 19.5 178.1 17.9 178.9 16.3 179.6 14.7 180.4 13.1 181.1 11.4 181.8 9.7 182.5 7.9 183.1 6.0 183.7 4.0 184.2 1.9 184.6 -0.2 184.8" stroke="#767676" stroke-width="1.0" stroke-opacity="0.31"/>
<path d="M68.7 180.6 67.5 181.5 66.2 182.4 64.9 183.3 63.5 184.2 62.1 185.0 60.6 185.8 59.0 186.6 57.4 187.3 55.7 188.0 53.8 188.5 51.8 189.0" stroke="#636363" stroke-width="0.9" stroke-opacity="0.67"/>
<path d="M80.1 176.1 78.0 175.8 80.1 176.0 80.9 177.0 82.0 178.0 84.1 178.4 86.1 178.8 88.2 179.2 90.2 179.6 92.2 180.1 94.2 180.6 96.0 181.2 97.8 181.8 99.4 182.6" stroke="#686868" stroke-width="1.5" stroke-opacity="0.37"/>
<path d="M122.1 170.1 124.2 169.7 126.3 169.5 128.5 169.3 130.7 169.2 132.9 169.2 135.1 169.2 137.3 169.3 139.4 169.6 141.5 169.9 143.6 170.2" stroke="#5c5c5c" stroke-width="1.3" stroke-opacity="0.69"/>
<path d="M67.5 181.0 66.2 181.9 64.8 182.8 63.4 183.6 61.9 184.4 60.2 185.1 58.5 185.8 56.7 186.5 54.8 187.0 52.8 187.4 50.7 187.7 48.5 187.9 46.3 188.0 44.1 187.9" stroke="#6e6e6e" stroke-width="1.5" stroke-opacity="0.55"/>
<path d="M97.9 169.8 99.7 169.2 101.4 168.5 103.0 167.7 104.3 166.8 105.5 165.9 106.5 164.9 107.4 163.9 108.3 162.9 109.2 161.9 109.9 160.9 110.7 159.9 111.4 158.8 112.2 157.8 112.9 156.8 113.7 155.7 114.5 154.7" stroke="#6f6f6f" stroke-width="2.0" stroke-opacity="0.40"/>
<path d="M101.5 180.0 103.7 180.1 105.9 180.1 108.1 180.1 110.3 180.0 112.5 180.1 114.7 180.1 116.9 180.2 119.1 180.4 121.3 180.6 123.4 180.9 125.4 181.3 127.4 181.8 129.4 182.3 131.3 182.8 133.2 183.3 135.2 183.8" stroke="#676767" stroke-width="1.1" stroke-opacity="0.27"/>
<path d="M34.2 174.1 32.1 174.3 30.0 174.7 28.1 175.2 26.2 175.8 24.4 176.4 22.7 177.1 21.0 177.8 19.4 178.6 17.8 179.3 16.2 180.1 14.6 180.8 12.9 181.6 11.3 182.3 9.5 182.9 7.7 183.6 5.8 184.1 3.8 184.6" stroke="#686868" stroke-width="0.7" stroke-opacity="0.55"/>
<path d="M80.8 176.1 78.7 175.8 80.8 176.1 78.6 175.9 76.6 175.4 74.9 174.8 73.4 174.0 72.0 173.1 70.6 172.3 69.1 171.5 67.6 170.7 65.9 169.9 64.1 169.3 62.2 168.8 60.2 168.4 58.0 168.1 55.9 167.9" stroke="#636363" stroke-width="1.0" stroke-opacity="0.46"/>
<path d="M64.3 166.9 62.3 166.4 60.2 166.1 58.0 165.9 55.8 165.8 53.6 165.8 51.4 165.8 49.2 165.8 47.0 165.9 44.8 165.9 42.6 165.9 40.4 165.9 38.2 165.8 36.1 165.7 33.9 165.5" stroke="#777777" stroke-width="2.0" stroke-opacity="0.50"/>
<path d="M87.3 157.0 88.5 156.0 89.5 155.1 90.4 154.1 91.1 153.0 91.5 151.9 91.7 150.8 91.9 149.8 91.9 148.7 91.6 147.6 91.1 146.5 90.5 145.4 89.7 144.4 88.9 143.4" stroke="#666666" stroke-width="0.6" stroke-opacity="0.42"/>
<path d="M79.1 176.0 81.3 176.0 79.1 176.0 81.3 176.1 79.1 176.0 77.1 175.5 75.4 174.8 73.7 174.1 72.2 173.4 70.7 172.5 69.3 171.7 67.8 170.9 66.1 170.2" stroke="#6a6a6a" stroke-width="0.6" stroke-opacity="0.37"/>
<path d="M58.8 165.3 56.6 165.1 54.4 165.1 52.2 165.1 50.0 165.1 47.8 165.1 45.6 165.2 43.4 165.1 41.2 165.1 39.1 165.0 36.9 164.9 34.7 164.8 32.5 164.5 30.4 164.2" stroke="#5c5c5c" stroke-width="1.0" stroke-opacity="0.35"/>
<path d="M78.7 175.8 80.8 176.2 78.7 175.8 80.8 176.2 78.7 175.8 80.8 176.1 78.7 175.8 80.8 176.1 80.8 177.2 82.9 177.5 85.0 177.8 87.2 178.0 89.3 178.3 91.4 178.6 93.6 178.8 95.7 178.9 97.9 179.0" stroke="#757575" stroke-width="1.7" stroke-opacity="0.52"/>
<path d="M98.5 179.4 100.7 179.2 102.8 179.0 104.9 178.6 106.9 178.2 108.9 177.7 110.9 177.3 113.0 176.9 115.1 176.5 117.2 176.2 119.3 176.0 121.5 175.9 123.7 176.0 125.9 176.1 128.0 176.4" stroke="#646464" stroke-width="1.5" stroke-opacity="0.32"/>
<path d="M92.9 179.2 95.1 179.5 97.2 179.7 99.4 179.8 101.6 179.9 103.8 179.9 106.0 179.9 108.2 179.8 110.4 179.7 112.6 179.6 114.8 179.6 117.0 179.6 119.2 179.7 121.4 179.8 123.5 180.0 125.6 180.4 127.6 180.8 129.6 181.3 131.6 181.8 133.5 182.3" stroke="#686868" stroke-width="1.6" stroke-opacity="0.48"/>
<path d="M112.7 180.0 114.9 180.1 117.1 180.2 119.3 180.5 121.4 180.8 123.4 181.2 125.4 181.6 127.4 182.1 129.4 182.6 131.3 183.2 133.2 183.7 135.2 184.2 137.1 184.7 139.2 185.1 141.3 185.5" stroke="#737373" stroke-width="1.4" stroke-opacity="0.65"/>
<path d="M93.8 178.2 95.9 177.8 97.8 177.3 99.6 176.6 101.5 176.0 103.3 175.4 105.2 174.9 107.1 174.3 109.0 173.8 111.0 173.3 113.0 172.8 115.0 172.4" stroke="#5d5d5d" stroke-width="0.8" stroke-opacity="0.41"/>
<path d="M69.7 155.8 70.2 154.7 70.8 153.7 71.5 152.6 72.2 151.6 72.9 150.5 73.5 149.5 74.0 148.4 74.5 147.3 74.8 146.2 74.9 145.1 74.9 144.0 74.7 142.9 74.3 141.8 73.9 140.8" stroke="#6d6d6d" stroke-width="1.5" stroke-opacity="0.56"/>
<path d="M60.2 187.6 58.9 188.5 57.4 189.3 55.8 190.1 54.0 190.7 52.1 191.3 50.1 191.7 48.0 192.0 45.8 192.3 43.7 192.5 41.5 192.6 39.3 192.8 37.1 192.9 35.0 193.1 32.8 193.4 30.7 193.7" stroke="#767676" stroke-width="1.9" stroke-opacity="0.29"/>
<path d="M84.2 173.1 85.6 172.2 87.1 171.4 88.8 170.7 90.6 170.1 92.4 169.5 94.2 168.8 96.0 168.2 97.8 167.5 99.5 166.8 101.1 166.1 102.5 165.3 103.9 164.4 105.1 163.5 106.2 162.5 107.2 161.5" stroke="#727272" stroke-width="1.8" stroke-opacity="0.36"/>
<path d="M72.5 185.4 73.0 186.5 73.5 187.5 74.0 188.6 74.4 189.7 74.9 190.7 75.3 191.8 75.7 192.9 76.1 194.0 76.5 195.1 76.9 196.2 77.2 197.2 77.5 198.3 77.8 199.4 78.1 200.5 78.2 201.6 78.3 202.7 78.3 203.8 78.1 204.9" stroke="#6a6a6a" stroke-width="1.1" stroke-opacity="0.47"/>
<path d="M88.7 177.6 90.9 177.4 92.9 176.9 94.8 176.4 96.7 175.8 98.7 175.3 100.6 174.8 102.6 174.3 104.6 173.9 106.6 173.4 108.5 172.9 110.5 172.4 112.5 171.9 114.5 171.5 116.4 170.9 118.4 170.4 120.3 169.9 122.3 169.4 124.3 169.0 126.3 168.5" stroke="#6e6e6e" stroke-width="0.7" stroke-opacity="0.32"/>
<path d="M81.4 168.4 81.0 167.4 80.4 166.3 79.7 165.3 79.0 164.2 78.3 163.2 77.6 162.1 77.2 161.1 76.9 160.0 76.8 158.9 76.7 157.8 76.8 156.7 77.1 155.6 77.5 154.5 78.0 153.4 78.5 152.4 79.0 151.3" stroke="#6c6c6c" stroke-width="0.6" stroke-opacity="0.28"/>
<path d="M79.9 167.4 78.8 166.5 77.5 165.6 76.2 164.7 74.9 163.8 73.8 162.8 72.9 161.8 71.9 160.9 71.2 159.8 70.6 158.8 70.4 157.7 70.3 156.6 70.6 155.5 71.0 154.4 71.5 153.3 72.2 152.3 72.8 151.2" stroke="#6f6f6f" stroke-width="1.0" stroke-opacity="0.48"/>
<path d="M78.6 175.8 80.7 176.1 78.6 175.9 80.8 176.1 78.6 176.0 80.8 176.0 78.6 176.0 76.4 176.2 74.2 176.2 72.2 175.7 70.1 175.3 68.3 174.7 66.6 174.0 65.0 173.3 63.3 172.6" stroke="#616161" stroke-width="2.0" stroke-opacity="0.67"/>
<path d="M57.4 162.7 55.3 162.3 53.2 162.0 51.1 161.8 48.9 161.6 46.7 161.4 44.6 161.1 42.4 160.9 40.4 160.5 38.3 160.2 36.2 159.8 34.3 159.2 32.5 158.6 30.8 157.9 29.3 157.1 28.0 156.2 26.8 155.3 25.7 154.3" stroke="#787878" stroke-width="1.1" stroke-opacity="0.66"/>
<path d="M78.0 198.9 78.2 200.0 78.3 201.1 78.3 202.2 78.2 203.3 77.9 204.3 77.4 205.4 76.8 206.5 76.1 207.5 75.2 208.5 74.1 209.5 72.9 210.4" stroke="#717171" stroke-width="1.0" stroke-opacity="0.41"/>
<path d="M82.6 174.9 84.7 175.2 86.9 175.3 89.1 175.2 91.3 175.0 93.5 174.8 95.6 174.6 97.7 174.3 99.8 174.0 101.9 173.7 104.0 173.3 106.0 172.8 108.0 172.4" stroke="#707070" stroke-width="0.9" stroke-opacity="0.65"/>
<path d="M58.5 188.4 56.9 189.2 55.2 189.9 53.4 190.5 51.4 190.9 49.3 191.3 47.1 191.5 45.0 191.7 42.8 191.8 40.6 191.9 38.4 192.0 36.2 192.0 34.0 192.2 31.8 192.4" stroke="#6f6f6f" stroke-width="1.2" stroke-opacity="0.58"/>
<path d="M77.6 176.1 75.4 176.2 73.3 176.5 71.1 176.7 69.0 177.0 66.8 177.2 64.6 177.3 62.5 177.2 60.3 177.1 58.1 176.8 56.1 176.4 54.2 175.9 52.4 175.2" stroke="#5c5c5c" stroke-width="1.7" stroke-opacity="0.63"/>
<path d="M79.1 153.4 79.5 152.3 79.9 151.2 80.1 150.1 80.3 149.0 80.3 147.9 80.2 146.8 80.1 145.7 79.8 144.6 79.4 143.5 78.9 142.5 78.3 141.4 77.6 140.4 76.9 139.3 76.2 138.3 75.5 137.2" stroke="#757575" stroke-width="1.0" stroke-opacity="0.42"/>
<path d="M97.8 159.2 99.4 158.4 100.9 157.6 102.2 156.7 103.4 155.8 104.4 154.8 105.5 153.9 106.3 152.9 107.1 151.8 107.8 150.8 108.3 149.7 108.7 148.6 109.1 147.5 109.3 146.5 109.5 145.4" stroke="#666666" stroke-width="1.2" stroke-opacity="0.37"/>
<path d="M31.9 171.4 29.7 171.6 27.6 171.8 25.5 172.1 23.4 172.5 21.4 172.9 19.4 173.4 17.5 174.0 15.6 174.5 13.7 175.0 11.8 175.6 9.8 176.1 7.9 176.6 5.9 177.1 3.9 177.5 1.8 177.8 -0.4 178.1 -2.6 178.2" stroke="#6e6e6e" stroke-width="0.8" stroke-opacity="0.69"/>
<path d="M75.4 176.2 73.2 176.5 71.1 176.8 69.1 177.2 67.1 177.7 65.3 178.3 63.4 178.9 61.6 179.5 59.6 180.0 57.7 180.5 55.7 180.9 53.6 181.3 51.5 181.6 49.3 181.8 47.1 181.9 44.9 181.9" stroke="#757575" stroke-width="1.7" stroke-opacity="0.53"/>
<path d="M124.7 172.5 126.9 172.6 129.0 172.8 131.1 173.2 133.1 173.7 135.0 174.2 136.8 174.9 138.6 175.5 140.4 176.1 142.1 176.8 143.9 177.5 145.7 178.1 147.5 178.7 149.4 179.3 151.4 179.7 153.5 180.1" stroke="#707070" stroke-width="0.7" stroke-opacity="0.58"/>
<path d="M82.1 171.1 82.5 170.0 83.2 169.0 84.3 168.0 85.7 167.2 87.5 166.5 89.3 165.9 91.2 165.4 93.2 164.8 95.1 164.3 97.0 163.7 98.8 163.1 100.5 162.4 102.1 161.7 103.6 160.8 104.9 160.0 106.1 159.1 107.3 158.1" stroke="#696969" stroke-width="1.9" stroke-opacity="0.50"/>
<path d="M63.2 168.3 61.1 167.9 59.0 167.7 56.8 167.6 54.6 167.5 52.4 167.4 50.2 167.4 48.0 167.4 45.8 167.3 43.6 167.2 41.4 167.2 39.2 167.1 37.0 167.0 34.8 166.9 32.7 166.7" stroke="#636363" stroke-width="1.6" stroke-opacity="0.54"/>
<path d="M69.5 177.1 67.6 177.6 65.8 178.3 64.0 178.9 62.3 179.6 60.4 180.2 58.5 180.7 56.4 181.1 54.3 181.4 52.1 181.6 50.0 181.8 47.8 181.9 45.6 182.0 43.4 182.1 41.2 182.1 39.0 182.2 36.8 182.4 34.7 182.6" stroke="#6f6f6f" stroke-width="0.8" stroke-opacity="0.54"/>
<path d="M65.2 165.0 63.5 164.3 61.7 163.7 59.8 163.1 57.8 162.6 55.8 162.2 53.7 161.9 51.6 161.6 49.5 161.3 47.3 161.1 45.2 160.8 43.0 160.6 40.9 160.3 38.8 159.9 36.8 159.5 34.9 159.0 33.0 158.4 31.4 157.6" stroke="#626262" stroke-width="1.9" stroke-opacity="0.70"/>
<path d="M60.6 184.6 58.8 185.3 56.9 185.8 54.8 186.2 52.7 186.4 50.5 186.5 48.3 186.5 46.1 186.6 43.9 186.5 41.7 186.4 39.5 186.3 37.3 186.3 35.1 186.3" stroke="#5e5e5e" stroke-width="1.1" stroke-opacity="0.29"/>
<path d="M54.2 177.3 52.2 176.9 50.2 176.5 48.1 176.1 46.1 175.7 44.0 175.3 41.8 175.1 39.7 174.9 37.5 174.8 35.3 174.8 33.1 175.0 31.0 175.2 28.9 175.6 26.9 176.1 25.0 176.7 23.2 177.3" stroke="#757575" stroke-width="1.6" stroke-opacity="0.44"/>
<path d="M79.5 176.0 81.7 176.0 79.5 176.0 77.4 175.6 75.7 174.9 74.5 174.0 73.6 173.0 72.7 172.0 71.7 171.0 70.7 170.0 69.5 169.1 68.1 168.3 66.6 167.5 64.9 166.7 63.1 166.1 61.2 165.5" stroke="#656565" stroke-width="0.7" stroke-opacity="0.37"/>
<path d="M79.0 195.3 79.4 196.4 79.9 197.4 80.4 198.5 81.0 199.6 81.6 200.6 82.1 201.7 82.7 202.8 83.2 203.8 83.5 204.9 83.9 206.0 84.2 207.1 84.4 208.2 84.5 209.3 84.4 210.4 84.1 211.5 83.7 212.6 83.3 213.6 82.7 214.7" stroke="#6d6d6d" stroke-width="1.8" stroke-opacity="0.35"/>
<path d="M64.9 177.7 62.8 178.0 60.6 178.2 58.4 178.2 56.2 178.1 54.0 177.9 51.9 177.6 49.8 177.3 47.7 177.0 45.5 176.8 43.4 176.6 41.2 176.4 39.0 176.3 36.8 176.3 34.6 176.5 32.5 176.7 30.4 177.1 28.5 177.6 26.6 178.2" stroke="#686868" stroke-width="1.9" stroke-opacity="0.63"/>
<path d="M74.0 197.0 74.1 198.0 74.1 199.1 73.9 200.2 73.5 201.3 72.8 202.4 72.0 203.4 70.9 204.4 69.6 205.2 68.3 206.1 66.9 207.0 65.3 207.7 63.6 208.4 61.9 209.1" stroke="#707070" stroke-width="1.9" stroke-opacity="0.46"/>
<path d="M60.6 188.6 59.6 189.6 58.5 190.6 57.4 191.5 56.2 192.4 54.8 193.3 53.3 194.1 51.6 194.8 49.9 195.5 48.1 196.1 46.3 196.7 44.5 197.4 42.7 198.0 40.9 198.6 39.1 199.3 37.5 200.0 35.9 200.8 34.6 201.6" stroke="#747474" stroke-width="2.0" stroke-opacity="0.36"/>
<path d="M46.6 173.8 44.6 173.4 42.5 173.1 40.3 172.8 38.1 172.7 35.9 172.7 33.7 172.8 31.6 173.0 29.5 173.3 27.4 173.7 25.4 174.2 23.5 174.7 21.6 175.3 19.8 175.9 18.0 176.6 16.3 177.3 14.6 178.0 12.9 178.7 11.2 179.4 9.5 180.0" stroke="#5f5f5f" stroke-width="1.8" stroke-opacity="0.57"/>
<path d="M109.8 175.2 111.8 174.7 113.8 174.3 115.9 174.0 118.1 173.7 120.2 173.6 122.4 173.5 124.6 173.6 126.8 173.8 128.9 174.1 131.0 174.5 133.0 174.9 134.9 175.4 136.8 176.0 138.6 176.7" stroke="#727272" stroke-width="0.6" stroke-opacity="0.31"/>
<path d="M60.0 188.7 58.8 189.6 57.6 190.5 56.2 191.4 54.7 192.2 53.1 192.9 51.3 193.6 49.5 194.2 47.6 194.8 45.7 195.3 43.8 195.8 41.8 196.3 39.8 196.8 37.9 197.4 36.1 198.0 34.3 198.6 32.7 199.4 31.3 200.2" stroke="#777777" stroke-width="1.5" stroke-opacity="0.49"/>
<path d="M83.2 168.1 84.2 167.2 85.6 166.3 87.3 165.6 89.1 165.0 91.1 164.5 93.0 164.0 95.0 163.5 96.9 162.9 98.7 162.3 100.5 161.7" stroke="#646464" stroke-width="1.9" stroke-opacity="0.34"/>
<path d="M79.9 162.9 79.7 161.8 79.7 160.7 79.8 159.6 80.1 158.6 80.6 157.5 81.0 156.4 81.6 155.3 82.2 154.3 82.7 153.2 83.2 152.1" stroke="#6b6b6b" stroke-width="2.0" stroke-opacity="0.38"/>
<path d="M81.7 165.7 81.8 164.6 82.1 163.5 82.6 162.5 83.3 161.4 84.2 160.4 85.4 159.5 86.6 158.6 87.9 157.7 89.2 156.8 90.5 155.9 91.7 155.0 92.8 154.1 93.8 153.1 94.6 152.0" stroke="#6b6b6b" stroke-width="1.4" stroke-opacity="0.26"/>
<path d="M81.5 173.1 81.7 172.0 81.7 170.9 81.7 169.8 81.6 168.7 81.3 167.6 81.0 166.5 80.7 165.4 80.3 164.3 79.9 163.2 79.5 162.1" stroke="#616161" stroke-width="1.8" stroke-opacity="0.54"/>
<path d="M43.9 171.2 41.8 170.9 39.6 170.7 37.4 170.6 35.2 170.5 33.0 170.5 30.8 170.6 28.6 170.7 26.4 170.8 24.3 171.0 22.1 171.2 20.0 171.5 17.8 171.8 15.7 172.1 13.6 172.4 11.5 172.7" stroke="#626262" stroke-width="0.6" stroke-opacity="0.40"/>
<path d="M81.7 172.0 81.9 170.9 82.2 169.8 82.6 168.8 83.2 167.7 84.2 166.7 85.2 165.8 86.5 164.9 88.1 164.1 89.8 163.4 91.7 162.9 93.7 162.4" stroke="#727272" stroke-width="1.6" stroke-opacity="0.48"/>
<path d="M86.8 155.7 87.7 154.7 88.4 153.7 88.9 152.6 89.3 151.5 89.4 150.4 89.3 149.3 89.1 148.2 88.8 147.2 88.3 146.1 87.7 145.0 86.9 144.0 86.1 143.0 85.2 142.0" stroke="#626262" stroke-width="0.9" stroke-opacity="0.59"/>
<path d="M83.7 161.4 84.8 160.4 86.0 159.5 87.3 158.6 88.7 157.8 90.1 156.9 91.4 156.0 92.5 155.1 93.5 154.1 94.3 153.1 95.1 152.0 95.6 151.0 95.9 149.9 95.9 148.8 95.7 147.7 95.3 146.6 94.7 145.5 94.0 144.5" stroke="#616161" stroke-width="0.9" stroke-opacity="0.44"/>
<path d="M107.1 171.8 109.0 171.3 110.9 170.7 112.7 170.1 114.4 169.4 115.9 168.6 117.4 167.8 118.8 166.9 120.0 166.0 121.2 165.1 122.3 164.1 123.4 163.2 124.4 162.2 125.5 161.2 126.5 160.3" stroke="#5d5d5d" stroke-width="0.6" stroke-opacity="0.52"/>
<path d="M81.3 173.9 81.6 172.8 81.8 171.7 82.0 170.6 82.2 169.5 82.6 168.5 83.3 167.4 84.3 166.5 85.8 165.6 87.2 164.8 88.9 164.1 90.7 163.5 92.6 162.9 94.6 162.4 96.5 161.9" stroke="#686868" stroke-width="1.6" stroke-opacity="0.39"/>
<path d="M33.9 173.4 31.8 173.6 29.7 174.0 27.7 174.4 25.7 175.0 23.9 175.6 22.2 176.3 20.5 177.0 18.8 177.7 17.2 178.4 15.5 179.2 13.9 179.9 12.3 180.6 10.5 181.3" stroke="#616161" stroke-width="1.5" stroke-opacity="0.49"/>
<path d="M75.5 176.2 73.4 176.5 71.3 176.8 69.4 177.3 67.7 178.1 66.2 178.9 64.8 179.7 63.2 180.5 61.6 181.2 59.9 181.9 58.1 182.5 56.2 183.1 54.2 183.5 52.0 183.8 49.9 184.0 47.7 184.1 45.5 184.1 43.3 184.1 41.1 184.1" stroke="#737373" stroke-width="2.0" stroke-opacity="0.45"/>
<path d="M33.5 173.3 31.4 173.5 29.3 173.9 27.3 174.3 25.4 174.9 23.5 175.5 21.8 176.2 20.1 176.9 18.4 177.6 16.8 178.3 15.1 179.0 13.5 179.8 11.8 180.5" stroke="#686868" stroke-width="1.8" stroke-opacity="0.50"/>
<path d="M85.1 180.3 86.1 181.3 86.9 182.3 87.3 183.4 87.4 184.5 87.3 185.6 87.1 186.7 86.9 187.8 86.7 188.9 86.6 190.0 86.6 191.1 86.8 192.2 87.3 193.3 87.9 194.3 88.9 195.3 90.0 196.3" stroke="#5e5e5e" stroke-width="1.6" stroke-opacity="0.34"/>
<path d="M80.8 176.4 79.9 175.4 80.4 176.5 80.6 175.4 80.2 176.5 78.9 177.4 77.5 178.2 76.2 179.1 74.8 180.0 73.7 180.9 72.7 181.9 71.9 182.9 71.5 184.0 71.3 185.1 71.5 186.2" stroke="#707070" stroke-width="1.3" stroke-opacity="0.53"/>
<path d="M75.1 167.0 73.5 166.2 72.0 165.4 70.6 164.6 69.3 163.7 68.1 162.7 66.9 161.8 65.9 160.9 64.9 159.9 64.1 158.8 63.6 157.8 63.3 156.7 63.2 155.6 63.4 154.5" stroke="#666666" stroke-width="1.2" stroke-opacity="0.61"/>
<path d="M44.5 171.4 42.4 171.1 40.3 170.9 38.1 170.7 35.9 170.6 33.7 170.6 31.5 170.7 29.3 170.8 27.1 171.0 25.0 171.2 22.8 171.4 20.7 171.7 18.6 172.0 16.5 172.3 14.4 172.7" stroke="#656565" stroke-width="1.0" stroke-opacity="0.68"/>
<path d="M74.7 177.9 73.5 178.9 72.3 179.8 71.2 180.7 70.1 181.7 69.2 182.7 68.5 183.7 68.0 184.8 67.9 185.9 68.1 187.0 68.5 188.1 69.0 189.2 69.6 190.2 70.3 191.3 70.9 192.3 71.6 193.4 72.1 194.4 72.5 195.5 72.9 196.6 73.1 197.7 73.2 198.8" stroke="#656565" stroke-width="1.0" stroke-opacity="0.25"/>
<path d="M113.8 172.2 115.8 171.7 117.8 171.3 119.8 170.9 121.9 170.5 124.0 170.2 126.2 169.9 128.3 169.7 130.5 169.6 132.7 169.5 134.9 169.6 137.1 169.7 139.2 170.0 141.3 170.3 143.3 170.7 145.4 171.2" stroke="#5c5c5c" stroke-width="0.9" stroke-opacity="0.46"/>
<path d="M127.3 172.3 129.4 172.6 131.5 172.9 133.5 173.4 135.4 174.0 137.2 174.6 139.0 175.2 140.7 175.9 142.5 176.6 144.2 177.2 146.0 177.9 147.9 178.5 149.8 179.0 151.8 179.5 153.8 179.9 156.0 180.2" stroke="#757575" stroke-width="1.7" stroke-opacity="0.31"/>
<path d="M56.4 189.8 54.7 190.5 52.9 191.1 50.9 191.6 48.8 192.0 46.7 192.3 44.5 192.5 42.4 192.7 40.2 192.9 38.0 193.0 35.9 193.2 33.7 193.4 31.6 193.8 29.5 194.1 27.6 194.6 25.7 195.2 24.0 195.9 22.4 196.7" stroke="#737373" stroke-width="1.7" stroke-opacity="0.52"/>
<path d="M71.2 176.7 69.1 177.0 67.0 177.3 64.8 177.6 62.6 177.7 60.4 177.7 58.3 177.5 56.2 177.1 54.2 176.6 52.3 176.1 50.4 175.5 48.5 175.0 46.6 174.4 44.7 173.9 42.6 173.5 40.5 173.2 38.4 172.9" stroke="#5e5e5e" stroke-width="0.9" stroke-opacity="0.59"/>
<path d="M45.6 179.8 43.4 179.8 41.2 179.9 39.0 180.1 36.9 180.4 34.8 180.7 32.8 181.1 30.8 181.6 28.8 182.1 26.9 182.6 25.0 183.2 23.2 183.8 21.4 184.4 19.6 185.1" stroke="#6b6b6b" stroke-width="1.1" stroke-opacity="0.69"/>
<path d="M118.9 171.5 121.0 171.2 123.2 170.9 125.3 170.8 127.5 170.7 129.7 170.8 131.9 171.0 134.0 171.3 136.0 171.7 138.0 172.2 139.9 172.7 141.8 173.3 143.7 173.9 145.5 174.5 147.3 175.1 149.2 175.7 151.1 176.2" stroke="#5e5e5e" stroke-width="0.7" stroke-opacity="0.47"/>
<path d="M83.1 178.9 84.4 179.8 85.6 180.7 86.6 181.7 87.3 182.7 87.8 183.8 88.0 184.9 88.2 186.0 88.2 187.1 88.2 188.2 88.2 189.3 88.3 190.4 88.6 191.5" stroke="#676767" stroke-width="1.5" stroke-opacity="0.55"/>
<path d="M108.4 174.4 110.4 173.9 112.4 173.5 114.5 173.1 116.5 172.7 118.6 172.4 120.8 172.1 122.9 171.8 125.1 171.6 127.3 171.6 129.5 171.6 131.6 171.7 133.8 172.0 135.9 172.4 137.8 172.8 139.8 173.4" stroke="#727272" stroke-width="1.0" stroke-opacity="0.38"/>
<path d="M56.2 178.0 54.1 177.8 52.0 177.5 49.9 177.1 47.8 176.8 45.7 176.5 43.5 176.3 41.4 176.0 39.2 175.9 37.0 175.9 34.8 176.0 32.6 176.3 30.6 176.6 28.6 177.1" stroke="#686868" stroke-width="0.9" stroke-opacity="0.36"/>
<path d="M83.0 160.9 83.9 159.9 84.9 158.9 86.0 158.0 87.2 157.1 88.3 156.1 89.3 155.1 90.2 154.1 91.1 153.1 91.8 152.1 92.3 151.0 92.6 149.9 92.6 148.8 92.3 147.7" stroke="#5e5e5e" stroke-width="1.0" stroke-opacity="0.36"/>
<path d="M78.8 176.3 81.0 176.5 79.8 175.5 82.0 175.7 79.8 176.0 81.5 175.3 82.8 174.4 84.1 173.5 85.6 172.7 87.4 172.1 89.3 171.5 91.2 171.0 93.2 170.5 95.2 170.1 97.2 169.6 99.1 169.1" stroke="#696969" stroke-width="0.7" stroke-opacity="0.25"/>
<path d="M81.0 191.0 81.1 192.1 81.4 193.2 81.8 194.3 82.4 195.3 83.1 196.4 84.0 197.4 85.0 198.3 86.0 199.3 87.1 200.3 88.3 201.2 89.7 202.1 91.1 202.9 92.6 203.7 94.1 204.5 95.6 205.3" stroke="#5d5d5d" stroke-width="1.0" stroke-opacity="0.30"/>
<path d="M86.7 155.2 87.4 154.1 88.0 153.1 88.4 152.0 88.6 150.9 88.6 149.8 88.4 148.7 88.2 147.6 87.7 146.5 87.2 145.5 86.5 144.4 85.7 143.4 84.9 142.4 84.0 141.4 83.1 140.4 82.2 139.3" stroke="#767676" stroke-width="1.1" stroke-opacity="0.64"/>
<path d="M65.4 179.1 63.9 179.9 62.3 180.7 60.5 181.3 58.6 181.9 56.6 182.3 54.6 182.8 52.5 183.1 50.4 183.4 48.2 183.5 46.0 183.6 43.8 183.6 41.6 183.6 39.4 183.6 37.2 183.7 35.0 183.8" stroke="#5f5f5f" stroke-width="1.4" stroke-opacity="0.53"/>
<path d="M57.5 173.3 55.8 172.6 54.0 172.0 52.1 171.4 50.1 171.0 48.0 170.6 46.0 170.2 43.9 169.9 41.7 169.6 39.6 169.4 37.4 169.2 35.2 169.1" stroke="#626262" stroke-width="1.0" stroke-opacity="0.52"/>
<path d="M67.2 183.8 66.5 184.8 66.0 185.9 65.7 187.0 65.7 188.1 66.0 189.2 66.4 190.2 66.9 191.3 67.4 192.4 67.9 193.5 68.3 194.5 68.7 195.6 68.9 196.7" stroke="#676767" stroke-width="1.1" stroke-opacity="0.53"/>
<path d="M31.7 172.5 29.5 172.8 27.4 173.2 25.4 173.6 23.5 174.1 21.6 174.7 19.8 175.4 18.1 176.0 16.4 176.7 14.7 177.4 12.9 178.1 11.2 178.8 9.4 179.4 7.6 180.0 5.7 180.6 3.7 181.1 1.7 181.5 -0.5 181.7" stroke="#696969" stroke-width="1.2" stroke-opacity="0.61"/>
<path d="M64.1 187.9 63.9 189.0 63.9 190.1 64.0 191.2 64.2 192.3 64.3 193.4 64.4 194.5 64.5 195.6 64.5 196.7 64.2 197.8 63.8 198.9 63.1 199.9 62.3 201.0 61.1 201.9 59.9 202.8" stroke="#6e6e6e" stroke-width="1.2" stroke-opacity="0.37"/>
<path d="M115.0 183.1 116.7 183.8 118.3 184.5 119.9 185.3 121.4 186.1 122.9 186.9 124.5 187.7 126.1 188.4 127.7 189.1 129.5 189.8 131.4 190.3 133.4 190.8 135.5 191.1 137.7 191.3" stroke="#656565" stroke-width="1.4" stroke-opacity="0.41"/>
<path d="M82.3 167.9 82.6 166.8 83.3 165.8 84.3 164.8 85.6 163.9 87.3 163.2 89.1 162.5 91.0 162.0 92.9 161.5 94.8 160.9 96.6 160.3 98.5 159.7 100.2 159.0 101.8 158.3 103.3 157.4 104.6 156.6 105.8 155.6 106.8 154.7" stroke="#616161" stroke-width="1.6" stroke-opacity="0.34"/>
<path d="M68.3 150.2 69.0 149.1 69.6 148.1 70.1 147.0 70.4 145.9 70.5 144.8 70.7 143.7 70.6 142.6 70.4 141.5 70.1 140.4 69.6 139.4 69.0 138.3 68.3 137.3 67.5 136.2" stroke="#737373" stroke-width="1.2" stroke-opacity="0.65"/>
<path d="M60.8 184.3 59.0 184.9 57.0 185.4 55.0 185.8 52.8 186.0 50.6 186.1 48.5 186.2 46.3 186.3 44.1 186.2 41.9 186.1 39.7 186.0" stroke="#6b6b6b" stroke-width="1.5" stroke-opacity="0.66"/>
<path d="M70.0 166.1 68.5 165.3 67.1 164.4 65.6 163.6 64.1 162.8 62.7 162.0 61.3 161.1 60.0 160.2 58.8 159.3 57.7 158.4 56.8 157.4 55.9 156.3 55.2 155.3 54.6 154.2 54.3 153.2 54.2 152.1 54.2 151.0 54.4 149.9" stroke="#6a6a6a" stroke-width="0.8" stroke-opacity="0.38"/>
<path d="M98.6 169.0 100.3 168.3 101.8 167.5 103.2 166.7 104.5 165.8 105.5 164.8 106.5 163.8 107.4 162.8 108.3 161.8 109.1 160.8 109.9 159.8 110.7 158.7 111.5 157.7 112.3 156.7" stroke="#6a6a6a" stroke-width="1.7" stroke-opacity="0.69"/>
<path d="M46.5 176.9 44.4 176.7 42.2 176.6 40.0 176.5 37.8 176.7 35.7 176.9 33.6 177.2 31.6 177.7 29.7 178.2 27.8 178.8 25.9 179.4 24.2 180.1 22.5 180.8 20.8 181.5" stroke="#656565" stroke-width="1.5" stroke-opacity="0.54"/>
<path d="M64.0 160.6 63.2 159.6 62.6 158.5 62.3 157.4 62.2 156.3 62.5 155.2 62.9 154.1 63.3 153.1 64.0 152.0 64.7 151.0 65.5 149.9 66.3 148.9 67.0 147.9 67.7 146.8 68.2 145.8 68.6 144.7 68.8 143.6" stroke="#6e6e6e" stroke-width="1.8" stroke-opacity="0.53"/>
<path d="M66.5 183.9 65.6 184.9 64.9 185.9 64.3 187.0 63.9 188.1 63.8 189.2 63.8 190.3 63.7 191.4 63.8 192.5 63.9 193.6 64.0 194.7 64.0 195.8 63.9 196.9 63.6 198.0 63.1 199.0" stroke="#6c6c6c" stroke-width="0.7" stroke-opacity="0.67"/>
<path d="M55.9 170.3 53.8 169.9 51.7 169.6 49.6 169.4 47.4 169.2 45.3 169.0 43.1 168.8 40.9 168.6 38.7 168.5 36.6 168.3 34.4 168.2 32.2 168.1 30.0 168.0" stroke="#777777" stroke-width="1.7" stroke-opacity="0.34"/>
<path d="M117.1 176.4 119.3 176.3 121.5 176.4 123.7 176.5 125.8 176.8 127.8 177.2 129.9 177.6 131.9 178.1 133.8 178.7 135.6 179.3 137.4 179.9 139.3 180.5 141.1 181.1 143.0 181.6 145.0 182.1 147.0 182.6" stroke="#6f6f6f" stroke-width="1.1" stroke-opacity="0.43"/>
<path d="M82.5 169.2 83.1 168.2 84.0 167.2 85.4 166.3 87.0 165.6 88.9 165.0 90.8 164.5 92.8 164.0 94.7 163.4 96.6 162.8 98.3 162.2 100.1 161.5 101.7 160.8 103.3 160.0 104.7 159.2 105.9 158.3 107.1 157.3 108.1 156.4" stroke="#686868" stroke-width="1.4" stroke-opacity="0.44"/>
<path d="M81.0 177.1 82.0 178.0 83.2 179.0 84.3 179.9 85.0 181.0 85.0 182.1 84.4 183.1 83.8 184.2 83.0 185.2 82.0 186.2 81.1 187.2 80.5 188.3 80.0 189.3 79.8 190.4 79.7 191.5" stroke="#5c5c5c" stroke-width="1.5" stroke-opacity="0.47"/>
<path d="M78.8 164.0 78.1 162.9 77.5 161.9 77.0 160.8 76.8 159.7 76.8 158.6 76.9 157.5 77.1 156.4 77.4 155.3 77.8 154.3 78.3 153.2 78.8 152.1 79.3 151.0 79.6 150.0 79.9 148.9" stroke="#737373" stroke-width="1.2" stroke-opacity="0.28"/>
<path d="M76.4 176.2 74.2 176.4 72.1 176.6 69.9 176.9 67.8 177.1 65.6 177.2 63.4 177.1 61.3 176.8 59.4 176.3 57.7 175.6 56.0 174.9 54.3 174.1 52.7 173.4 51.1 172.7 49.3 172.0 47.4 171.5 45.4 171.0 43.3 170.6" stroke="#6a6a6a" stroke-width="0.7" stroke-opacity="0.54"/>
<path d="M66.8 162.7 65.6 161.7 64.6 160.8 63.8 159.7 63.2 158.7 62.9 157.6 62.8 156.5 63.0 155.4 63.5 154.3 64.1 153.3 64.7 152.2 65.5 151.2 66.3 150.2 67.1 149.1 67.8 148.1 68.5 147.0 69.0 146.0 69.4 144.9 69.6 143.8 69.6 142.7" stroke="#5e5e5e" stroke-width="1.7" stroke-opacity="0.65"/>
<path d="M97.3 173.2 99.5 172.9 101.6 172.6 103.7 172.2 105.7 171.8 107.6 171.3 109.5 170.7 111.4 170.1 113.2 169.5 114.9 168.8 116.5 168.0" stroke="#787878" stroke-width="1.6" stroke-opacity="0.62"/>
<path d="M86.8 156.0 87.7 155.0 88.5 154.0 89.1 152.9 89.5 151.8 89.6 150.7 89.6 149.6 89.3 148.5 89.0 147.4 88.6 146.4 87.9 145.3 87.2 144.3 86.4 143.3 85.5 142.2 84.6 141.2 83.7 140.2" stroke="#777777" stroke-width="1.9" stroke-opacity="0.32"/>
<path d="M112.6 172.9 114.6 172.4 116.6 172.0 118.7 171.6 120.8 171.3 123.0 171.1 125.1 170.9 127.3 170.9 129.5 170.8 131.7 170.9 133.9 171.1 136.0 171.4 138.1 171.7" stroke="#6d6d6d" stroke-width="1.0" stroke-opacity="0.40"/>
<path d="M105.0 170.7 106.8 170.1 108.5 169.3 110.0 168.5 111.3 167.7 112.4 166.7 113.3 165.7 114.2 164.7 115.0 163.7 115.6 162.6 116.2 161.6 116.7 160.5 117.3 159.4 117.9 158.4 118.5 157.3" stroke="#636363" stroke-width="2.0" stroke-opacity="0.47"/>
<path d="M78.4 176.0 80.5 176.3 80.8 175.2 82.8 174.8 85.0 175.1 87.2 175.2 89.4 175.1 91.5 175.0 93.7 174.8 95.9 174.6 98.0 174.3 100.1 174.0 102.2 173.6 104.2 173.2" stroke="#666666" stroke-width="0.9" stroke-opacity="0.43"/>
<path d="M73.1 179.8 72.0 180.8 71.0 181.8 70.2 182.8 69.8 183.9 69.7 185.0 69.9 186.1 70.4 187.1 71.0 188.2 71.7 189.3 72.3 190.3 73.0 191.4 73.6 192.4 74.1 193.5 74.6 194.6 75.0 195.6" stroke="#616161" stroke-width="1.7" stroke-opacity="0.30"/>
<path d="M80.5 176.5 80.1 175.4 78.6 176.2 80.6 175.7 82.0 174.9 83.4 174.0 84.9 173.2 86.7 172.6 88.7 172.1 90.7 171.7 92.8 171.3 94.9 171.0 97.0 170.8 99.1 170.4 101.2 170.0 103.1 169.5" stroke="#6b6b6b" stroke-width="1.4" stroke-opacity="0.65"/>
<path d="M84.6 153.7 85.1 152.7 85.4 151.6 85.5 150.5 85.5 149.4 85.3 148.3 84.9 147.2 84.4 146.1 83.8 145.1 83.2 144.0 82.6 143.0 81.8 141.9 81.0 140.9 80.2 139.9 79.4 138.8 78.7 137.8 77.9 136.8 77.2 135.7 76.5 134.7" stroke="#707070" stroke-width="1.1" stroke-opacity="0.42"/>
<path d="M54.0 183.1 51.8 183.3 49.7 183.4 47.5 183.5 45.3 183.5 43.1 183.5 40.9 183.5 38.7 183.6 36.5 183.7 34.3 183.8 32.1 184.0 30.0 184.3 27.9 184.7" stroke="#686868" stroke-width="0.8" stroke-opacity="0.58"/>
<path d="M63.3 156.4 63.6 155.3 64.0 154.3 64.7 153.2 65.4 152.2 66.2 151.2 67.0 150.1 67.8 149.1 68.5 148.1 69.2 147.0 69.7 145.9 70.0 144.9 70.2 143.8 70.2 142.7 70.0 141.6" stroke="#6e6e6e" stroke-width="2.0" stroke-opacity="0.51"/>
<path d="M78.8 177.5 77.5 178.4 76.3 179.3 75.3 180.3 74.7 181.4 74.4 182.5 74.4 183.6 74.5 184.7 74.8 185.8 75.0 186.9 75.3 187.9 75.6 189.0 75.9 190.1 76.3 191.2 76.6 192.3 76.9 193.4" stroke="#5d5d5d" stroke-width="0.8" stroke-opacity="0.53"/>
<path d="M79.3 176.0 81.5 176.1 79.3 176.0 77.2 175.5 75.5 174.9 74.2 174.0 73.1 173.0 72.1 172.0 71.1 171.1 69.9 170.1 68.6 169.3 67.2 168.4" stroke="#696969" stroke-width="1.5" stroke-opacity="0.27"/>
<path d="M59.1 161.5 57.3 160.8 55.6 160.2 53.9 159.5 52.2 158.8 50.5 158.1 48.8 157.3 47.3 156.6 45.7 155.8 44.3 154.9 43.0 154.0 41.8 153.1 40.8 152.2" stroke="#6a6a6a" stroke-width="1.3" stroke-opacity="0.44"/>
<path d="M57.0 180.3 54.9 180.6 52.7 180.8 50.6 180.9 48.4 181.0 46.2 181.1 44.0 181.1 41.8 181.2 39.6 181.4 37.4 181.6 35.3 181.8 33.2 182.1 31.1 182.4 29.0 182.9 27.1 183.4 25.1 183.9 23.3 184.5" stroke="#737373" stroke-width="0.8" stroke-opacity="0.26"/>
<path d="M101.7 179.8 103.9 179.7 106.1 179.6 108.3 179.4 110.5 179.2 112.6 179.1 114.8 178.9 117.0 178.8 119.2 178.8 121.4 178.8 123.6 179.0 125.7 179.3 127.8 179.6 129.8 180.1" stroke="#5e5e5e" stroke-width="0.8" stroke-opacity="0.55"/>
<path d="M80.6 162.4 80.7 161.3 81.0 160.2 81.4 159.2 82.0 158.1 82.7 157.1 83.4 156.0 84.1 155.0 84.8 153.9 85.4 152.9 85.9 151.8" stroke="#6e6e6e" stroke-width="1.4" stroke-opacity="0.41"/>
<path d="M80.2 176.8 80.3 175.7 80.5 176.8 79.7 175.7 80.7 176.7 81.7 177.7 82.8 178.7 83.9 179.6 84.4 180.7 84.1 181.8 83.3 182.8 82.4 183.8 81.3 184.8 80.3 185.7 79.5 186.8 79.0 187.8 78.7 188.9 78.5 190.0 78.5 191.1 78.6 192.2" stroke="#6a6a6a" stroke-width="0.8" stroke-opacity="0.25"/>
<path d="M24.0 173.4 22.1 173.9 20.2 174.5 18.4 175.1 16.6 175.8 14.8 176.4 13.1 177.1 11.3 177.7 9.5 178.3 7.6 178.9 5.7 179.5 3.7 179.9 1.6 180.3" stroke="#606060" stroke-width="1.9" stroke-opacity="0.30"/>
<path d="M82.8 174.4 85.0 174.3 87.1 174.5 89.3 174.6 91.5 174.6 93.7 174.5 95.9 174.3 98.0 174.1 100.1 173.8 102.2 173.4 104.3 173.1 106.3 172.6 108.3 172.2" stroke="#676767" stroke-width="1.3" stroke-opacity="0.54"/>
<path d="M81.8 177.8 83.0 178.8 83.9 179.8 84.1 180.9 83.5 181.9 82.5 182.9 81.4 183.8 80.3 184.8 79.4 185.8 78.8 186.9 78.4 187.9 78.2 189.0 78.1 190.1 78.2 191.2 78.3 192.3 78.6 193.4" stroke="#6a6a6a" stroke-width="0.7" stroke-opacity="0.53"/>
<path d="M107.5 180.6 109.7 180.8 111.8 181.1 113.9 181.4 116.0 181.7 118.0 182.2 119.9 182.7 121.8 183.3 123.6 183.9 125.5 184.5 127.3 185.1 129.1 185.7 131.0 186.3 132.9 186.8 134.9 187.3 137.0 187.7 139.1 187.9 141.3 188.1 143.5 188.3" stroke="#6b6b6b" stroke-width="1.1" stroke-opacity="0.45"/>
<path d="M76.5 195.9 76.8 196.9 77.1 198.0 77.3 199.1 77.5 200.2 77.5 201.3 77.3 202.4 77.0 203.5 76.5 204.6 76.0 205.6 75.2 206.7 74.3 207.7 73.2 208.6 71.9 209.5 70.5 210.4 69.0 211.2 67.4 212.0 65.9 212.7 64.3 213.5" stroke="#616161" stroke-width="2.0" stroke-opacity="0.37"/>
<path d="M66.7 183.3 65.7 184.3 64.7 185.3 63.9 186.3 63.2 187.3 62.6 188.4 62.1 189.5 61.8 190.6 61.4 191.6 61.1 192.7 60.7 193.8 60.3 194.9 59.8 196.0 59.2 197.0 58.5 198.1 57.5 199.0 56.4 200.0 55.1 200.9 53.7 201.7 52.1 202.5 50.6 203.3" stroke="#767676" stroke-width="1.0" stroke-opacity="0.27"/>
<path d="M80.1 176.1 82.2 176.5 84.3 176.5 86.5 176.3 88.6 176.0 90.7 175.7 92.8 175.4 94.9 175.0 97.0 174.7 99.1 174.3 101.1 173.9 103.2 173.5 105.2 173.1 107.2 172.7 109.2 172.2 111.2 171.7 113.1 171.2 115.0 170.6 116.9 170.1 118.8 169.5" stroke="#777777" stroke-width="1.0" stroke-opacity="0.67"/>
<path d="M76.4 198.3 76.6 199.4 76.6 200.5 76.4 201.6 76.1 202.7 75.6 203.8 75.0 204.9 74.3 205.9 73.4 206.9 72.2 207.8 70.9 208.7 69.5 209.5 67.9 210.3 66.3 211.1 64.6 211.8" stroke="#616161" stroke-width="1.9" stroke-opacity="0.63"/>
<path d="M45.2 176.6 43.1 176.4 40.9 176.4 38.7 176.4 36.5 176.6 34.4 176.9 32.3 177.3 30.3 177.7 28.4 178.2 26.5 178.8 24.7 179.5 23.0 180.2 21.4 180.9 19.7 181.6" stroke="#747474" stroke-width="1.1" stroke-opacity="0.36"/>
<path d="M96.4 179.9 98.5 180.2 100.6 180.5 102.7 180.8 104.8 181.2 106.8 181.7 108.7 182.2 110.4 182.9 112.0 183.6 113.4 184.5 114.7 185.4 115.9 186.3 117.0 187.2 118.1 188.2 119.2 189.2 120.2 190.1 121.4 191.0 122.7 191.9 124.2 192.8 125.8 193.5 127.6 194.2" stroke="#737373" stroke-width="1.4" stroke-opacity="0.46"/>
<path d="M58.8 189.1 57.5 189.9 56.0 190.8 54.4 191.5 52.6 192.1 50.7 192.7 48.7 193.2 46.7 193.6 44.6 193.9 42.5 194.3 40.4 194.6 38.3 195.0 36.2 195.3 34.2 195.8" stroke="#777777" stroke-width="0.9" stroke-opacity="0.65"/>
<path d="M88.4 184.1 88.8 185.2 88.9 186.3 89.1 187.4 89.3 188.5 89.7 189.6 90.0 190.6 90.5 191.7 91.3 192.7 92.2 193.7 93.4 194.7 94.8 195.5 96.3 196.3 98.0 197.0 99.7 197.7" stroke="#6c6c6c" stroke-width="0.8" stroke-opacity="0.26"/>
<path d="M67.3 164.4 65.8 163.6 64.4 162.7 63.0 161.9 61.7 161.0 60.4 160.1 59.3 159.1 58.4 158.2 57.4 157.2 56.6 156.1 56.1 155.1 55.7 154.0 55.6 152.9 55.6 151.8" stroke="#777777" stroke-width="1.6" stroke-opacity="0.26"/>
<path d="M73.8 167.4 72.3 166.6 70.8 165.8 69.4 164.9 68.0 164.1 66.7 163.2 65.4 162.3 64.3 161.4 63.2 160.4 62.4 159.4 61.7 158.3 61.1 157.3 60.7 156.2 60.5 155.1 60.6 154.0 61.0 152.9" stroke="#5e5e5e" stroke-width="0.7" stroke-opacity="0.64"/>
<path d="M69.4 184.6 69.5 185.7 69.9 186.8 70.4 187.8 71.1 188.9 71.8 189.9 72.4 191.0 73.0 192.0 73.5 193.1 73.9 194.2 74.3 195.3 74.6 196.3 74.9 197.4 75.1 198.5 75.2 199.6 75.2 200.7 75.1 201.8 74.7 202.9 74.2 204.0 73.5 205.0" stroke="#5e5e5e" stroke-width="1.8" stroke-opacity="0.66"/>
</g>
<g filter="url(#warp)">
<ellipse cx="94.0" cy="158.0" rx="11" ry="4" transform="rotate(5 94.0 158.0)" fill="#050505" fill-opacity="0.95"/>
<ellipse cx="95.0" cy="193.0" rx="23" ry="6" transform="rotate(-5 95.0 193.0)" fill="#050505" fill-opacity="0.95"/>
<ellipse cx="68.0" cy="195.0" rx="10" ry="4" fill="#080808" fill-opacity="0.9"/>
<ellipse cx="33.0" cy="183.0" rx="14" ry="4" transform="rotate(-15 33.0 183.0)" fill="#0a0a0a" fill-opacity="0.8"/>
<ellipse cx="30.0" cy="168.0" rx="5" ry="3" fill="#0d0d0d" fill-opacity="0.7"/>
<ellipse cx="60.0" cy="172.5" rx="5" ry="2.5" fill="#1f1f1f" fill-opacity="0.5"/>
<ellipse cx="80.0" cy="148.0" rx="6" ry="3" fill="#141414" fill-opacity="0.55"/>
<ellipse cx="141.0" cy="175.0" rx="5" ry="3" fill="#0a0a0a" fill-opacity="0.7"/>
<ellipse cx="15.0" cy="176.0" rx="8" ry="3" fill="#141414" fill-opacity="0.55"/>
<ellipse cx="128.0" cy="165.0" rx="6" ry="2" fill="#141414" fill-opacity="0.4"/>
<ellipse cx="40.0" cy="162.0" rx="16" ry="3.5" transform="rotate(-27 40.0 162.0)" fill="#0d0d0d" fill-opacity="0.7"/>
<ellipse cx="62.0" cy="150.0" rx="10" ry="3" transform="rotate(-27 62.0 150.0)" fill="#0d0d0d" fill-opacity="0.6"/>
<ellipse cx="22.0" cy="184.0" rx="10" ry="3" transform="rotate(27 22.0 184.0)" fill="#0d0d0d" fill-opacity="0.6"/>
<ellipse cx="120.0" cy="190.0" rx="14" ry="3" transform="rotate(-27 120.0 190.0)" fill="#0d0d0d" fill-opacity="0.6"/>
<ellipse cx="128.0" cy="181.0" rx="8" ry="3" transform="rotate(-20 128.0 181.0)" fill="#0d0d0d" fill-opacity="0.55"/>
<ellipse cx="108.0" cy="150.0" rx="8" ry="3" transform="rotate(27 108.0 150.0)" fill="#0d0d0d" fill-opacity="0.5"/>
<ellipse cx="75.0" cy="205.0" rx="8" ry="3" fill="#0f0f0f" fill-opacity="0.5"/>
</g>
<g filter="url(#warp)"><ellipse cx="80" cy="175.5" rx="26" ry="13.5" fill="none" stroke="#787878" stroke-width="4.0" stroke-opacity="0.95"/></g>
<g filter="url(#warp)"><ellipse cx="79" cy="176.5" rx="22" ry="11" fill="none" stroke="#737373" stroke-width="2.0" stroke-opacity="0.7"/></g>
<g filter="url(#warp)"><ellipse cx="81" cy="175" rx="30" ry="15.5" fill="none" stroke="#737373" stroke-width="2.5" stroke-opacity="0.7"/></g>
<g filter="url(#b0_5)" stroke-linecap="round" stroke-linejoin="round" fill="none">
<path d="M79.5 199.3 79.9 200.4 80.2 201.5 80.5 202.6 80.6 203.7 80.6 204.8 80.6 205.9 80.4 207.0 80.1 208.1 79.6 209.1 79.0 210.2" stroke="#5f5f5f" stroke-width="0.5" stroke-opacity="0.31"/>
<path d="M93.7 179.5 95.8 179.8 97.9 180.1 100.0 180.4 102.1 180.7 104.2 181.0 106.3 181.5 108.2 182.0 110.2 182.5 112.1 183.0 113.8 183.7 115.5 184.4 117.0 185.2 118.4 186.1" stroke="#5e5e5e" stroke-width="0.6" stroke-opacity="0.29"/>
<path d="M54.9 175.3 53.2 174.5 51.5 173.9 49.7 173.2 47.8 172.7 45.8 172.2 43.7 171.9 41.6 171.5 39.5 171.2 37.3 171.0 35.1 170.9 32.9 170.8 30.7 170.9 28.5 171.0" stroke="#5c5c5c" stroke-width="0.7" stroke-opacity="0.17"/>
<path d="M83.9 179.5 84.9 180.4 85.7 181.5 85.9 182.6 85.6 183.7 85.0 184.7 84.2 185.7 83.5 186.8 82.9 187.8 82.2 188.9 81.8 190.0 81.6 191.1 81.5 192.2 81.6 193.3 81.9 194.3" stroke="#696969" stroke-width="1.1" stroke-opacity="0.25"/>
<path d="M55.6 163.5 53.4 163.3 51.2 163.2 49.0 163.2 46.8 163.1 44.6 163.1 42.4 163.0 40.2 162.8 38.1 162.6 35.9 162.3 33.8 162.0 31.8 161.6 29.9 161.1 28.0 160.4 26.4 159.7 24.9 158.9" stroke="#707070" stroke-width="0.7" stroke-opacity="0.28"/>
<path d="M70.1 179.8 68.9 180.7 67.7 181.6 66.5 182.5 65.2 183.4 63.9 184.3 62.6 185.2 61.3 186.1 59.8 186.9 58.3 187.7 56.8 188.5 55.1 189.2 53.3 189.8" stroke="#717171" stroke-width="0.6" stroke-opacity="0.10"/>
<path d="M74.7 160.8 74.3 159.7 74.2 158.6 74.2 157.5 74.5 156.4 74.8 155.3 75.2 154.2 75.7 153.2 76.2 152.1" stroke="#656565" stroke-width="0.6" stroke-opacity="0.27"/>
<path d="M119.5 171.3 121.6 171.0 123.7 170.8 125.9 170.6 128.1 170.6 130.3 170.7 132.5 170.9 134.6 171.1 136.7 171.4 138.8 171.8 140.7 172.3 142.7 172.9 144.5 173.5 146.4 174.0 148.2 174.6" stroke="#747474" stroke-width="0.9" stroke-opacity="0.24"/>
<path d="M73.9 160.7 73.5 159.6 73.3 158.5 73.4 157.4 73.7 156.3 74.1 155.2 74.6 154.2 75.2 153.1 75.8 152.0 76.3 151.0 76.8 149.9 77.2 148.8 77.5 147.7" stroke="#606060" stroke-width="1.2" stroke-opacity="0.29"/>
<path d="M107.4 162.5 108.3 161.5 109.1 160.5 109.9 159.5 110.7 158.5 111.5 157.4 112.3 156.4 113.1 155.4 113.9 154.4 114.8 153.4 115.7 152.4 116.6 151.4 117.6 150.4" stroke="#6c6c6c" stroke-width="0.7" stroke-opacity="0.20"/>
<path d="M84.9 163.3 86.3 162.5 87.9 161.8 89.7 161.1 91.6 160.5 93.4 160.0 95.2 159.3 97.0 158.6 98.7 158.0 100.3 157.2 101.8 156.4 103.1 155.5" stroke="#727272" stroke-width="0.5" stroke-opacity="0.15"/>
<path d="M84.0 158.7 84.9 157.7 85.9 156.8 86.9 155.8 87.8 154.8 88.5 153.7 89.2 152.7 89.8 151.6 90.2 150.5 90.3 149.4 90.2 148.3 89.9 147.3 89.4 146.2 88.7 145.1" stroke="#656565" stroke-width="1.1" stroke-opacity="0.16"/>
<path d="M81.6 176.0 79.4 176.0 77.5 175.5 77.1 174.4 76.5 173.4 75.9 172.3 74.9 171.3 73.7 170.4 72.5 169.5 71.2 168.6 69.8 167.7 68.4 166.9 66.9 166.1" stroke="#656565" stroke-width="0.7" stroke-opacity="0.14"/>
<path d="M101.9 180.4 104.0 180.7 106.2 180.9 108.3 181.2 110.4 181.6 112.4 182.1 114.4 182.5 116.3 183.0 118.2 183.6 119.9 184.3 121.6 185.0 123.3 185.7" stroke="#686868" stroke-width="1.0" stroke-opacity="0.16"/>
<path d="M61.1 177.1 59.1 176.7 57.2 176.1 55.5 175.4 53.9 174.7 52.2 174.0 50.4 173.3 48.5 172.7 46.6 172.2 44.6 171.7 42.5 171.4 40.4 171.0 38.3 170.8 36.1 170.7" stroke="#616161" stroke-width="0.7" stroke-opacity="0.28"/>
<path d="M75.6 194.2 75.9 195.3 76.2 196.4 76.5 197.4 76.7 198.5 76.9 199.6 77.0 200.7 77.0 201.8 76.9 202.9 76.7 204.0 76.3 205.1" stroke="#6e6e6e" stroke-width="0.9" stroke-opacity="0.19"/>
<path d="M88.3 155.1 89.1 154.1 89.8 153.1 90.2 152.0 90.4 150.9 90.6 149.8 90.6 148.7 90.4 147.6 89.9 146.5 89.3 145.5 88.6 144.4" stroke="#606060" stroke-width="1.0" stroke-opacity="0.15"/>
<path d="M40.6 174.4 38.4 174.4 36.2 174.4 34.0 174.6 31.9 174.9 29.9 175.4 27.9 175.9 26.0 176.4 24.2 177.0 22.4 177.7 20.8 178.4 19.1 179.1 17.5 179.9" stroke="#676767" stroke-width="0.6" stroke-opacity="0.26"/>
<path d="M44.1 172.5 42.0 172.2 39.8 172.0 37.6 171.9 35.4 171.9 33.3 171.9 31.1 172.1 28.9 172.4 26.8 172.6 24.7 172.9 22.6 173.3 20.6 173.8 18.7 174.3 16.8 174.9 15.0 175.5" stroke="#5d5d5d" stroke-width="0.8" stroke-opacity="0.30"/>
<path d="M80.6 176.7 81.6 177.7 82.8 178.6 84.3 179.4 85.9 180.1 87.6 180.9 89.2 181.6 90.6 182.5 92.0 183.3 93.2 184.2 94.3 185.2 95.2 186.2 96.0 187.2 96.8 188.2" stroke="#5c5c5c" stroke-width="0.7" stroke-opacity="0.28"/>
<path d="M41.8 168.6 39.6 168.5 37.5 168.4 35.3 168.3 33.1 168.1 30.9 168.0 28.7 167.9 26.5 167.8 24.3 167.6 22.2 167.4 20.0 167.2 17.9 167.0 15.8 166.6 13.7 166.2 11.7 165.8 9.8 165.2" stroke="#6b6b6b" stroke-width="1.0" stroke-opacity="0.31"/>
<path d="M89.3 178.1 91.5 178.1 93.7 177.9 95.7 177.5 97.6 176.9 99.4 176.3 101.3 175.7 103.1 175.1 105.0 174.6 106.9 174.0 108.9 173.5 110.9 173.0 112.8 172.6 114.8 172.1" stroke="#6d6d6d" stroke-width="0.9" stroke-opacity="0.21"/>
<path d="M81.5 171.1 81.1 170.0 80.3 169.0 79.0 168.1 77.5 167.3 75.9 166.5 74.3 165.7 72.9 164.9 71.4 164.1 70.1 163.2 68.9 162.3 67.8 161.3" stroke="#626262" stroke-width="0.8" stroke-opacity="0.28"/>
<path d="M75.1 159.4 75.0 158.3 75.1 157.2 75.5 156.1 75.9 155.0 76.4 154.0 76.9 152.9 77.4 151.8 77.9 150.8 78.3 149.7 78.6 148.6 78.8 147.5 78.8 146.4 78.7 145.3 78.4 144.2" stroke="#5c5c5c" stroke-width="1.1" stroke-opacity="0.23"/>
<path d="M107.6 171.2 109.5 170.7 111.2 170.0 112.9 169.3 114.4 168.5 115.9 167.7 117.3 166.8 118.5 165.9 119.7 165.0 120.7 164.0 121.6 163.0" stroke="#666666" stroke-width="0.8" stroke-opacity="0.34"/>
<path d="M57.0 161.2 55.2 160.6 53.3 160.1 51.4 159.5 49.5 158.9 47.7 158.3 45.9 157.7 44.1 157.1 42.4 156.4 40.8 155.6 39.3 154.8" stroke="#696969" stroke-width="0.6" stroke-opacity="0.24"/>
<path d="M87.4 171.9 89.3 171.3 91.2 170.7 93.1 170.2 95.1 169.7 97.0 169.2 98.9 168.6 100.7 168.0 102.3 167.2 103.8 166.4 105.1 165.5 106.3 164.6 107.3 163.6" stroke="#6c6c6c" stroke-width="1.1" stroke-opacity="0.23"/>
<path d="M93.9 160.8 95.8 160.2 97.5 159.6 99.2 158.9 100.7 158.1 102.1 157.2 103.5 156.3 104.7 155.4 105.8 154.5 106.7 153.5 107.6 152.5" stroke="#666666" stroke-width="1.0" stroke-opacity="0.13"/>
<path d="M91.4 193.0 92.6 193.9 94.0 194.8 95.6 195.5 97.3 196.2 99.0 196.9 100.8 197.6 102.6 198.2 104.4 198.8 106.2 199.4 108.1 200.1" stroke="#636363" stroke-width="0.8" stroke-opacity="0.10"/>
<path d="M78.4 175.9 80.6 176.0 78.4 176.0 76.2 176.2 74.1 176.4 71.9 176.6 69.7 176.6 67.6 176.3 65.7 175.7 63.9 175.1 62.3 174.4 60.7 173.6 59.2 172.8 57.5 172.1 55.8 171.4" stroke="#636363" stroke-width="0.7" stroke-opacity="0.29"/>
<path d="M104.8 182.9 106.0 183.8 107.0 184.8 107.7 185.8 108.3 186.9 108.7 187.9 109.2 189.0 109.7 190.1 110.2 191.2 110.8 192.2 111.6 193.2 112.6 194.2 113.7 195.2" stroke="#686868" stroke-width="0.6" stroke-opacity="0.33"/>
<path d="M64.2 158.0 64.1 156.9 64.3 155.8 64.8 154.7 65.4 153.6 66.1 152.6 66.9 151.6 67.7 150.6 68.5 149.5 69.3 148.5 69.9 147.5 70.5 146.4 70.8 145.3" stroke="#6c6c6c" stroke-width="1.0" stroke-opacity="0.30"/>
<path d="M70.2 164.7 68.9 163.8 67.7 162.9 66.5 162.0 65.6 161.0 64.7 160.0 64.2 158.9 63.9 157.8 63.6 156.7 63.5 155.6 63.7 154.5 64.1 153.5 64.7 152.4 65.4 151.4 66.2 150.3" stroke="#757575" stroke-width="1.0" stroke-opacity="0.26"/>
<path d="M87.7 181.0 89.2 181.7 90.6 182.6 91.8 183.5 92.8 184.5 93.7 185.5 94.4 186.5 95.2 187.6 95.9 188.6 96.7 189.6 97.5 190.7 98.4 191.7" stroke="#6e6e6e" stroke-width="1.0" stroke-opacity="0.35"/>
<path d="M81.0 177.1 82.1 178.1 83.3 179.0 84.6 179.9 86.0 180.7 87.2 181.7 88.2 182.6 89.3 183.6 90.2 184.6 90.9 185.6 91.5 186.7 92.1 187.8 92.6 188.8" stroke="#626262" stroke-width="0.7" stroke-opacity="0.22"/>
<path d="M81.3 174.1 81.5 173.0 81.7 171.9 81.8 170.8 81.7 169.7 81.6 168.6 81.5 167.5 81.3 166.4 81.1 165.3 80.8 164.2 80.6 163.1 80.5 162.0" stroke="#737373" stroke-width="1.1" stroke-opacity="0.11"/>
<path d="M111.3 174.2 113.3 173.8 115.4 173.5 117.5 173.2 119.6 172.9 121.8 172.8 124.0 172.8 126.2 172.9 128.4 173.1 130.5 173.3 132.6 173.7 134.6 174.1 136.5 174.7 138.4 175.3" stroke="#717171" stroke-width="0.9" stroke-opacity="0.10"/>
<path d="M73.9 149.8 74.3 148.7 74.6 147.7 74.8 146.6 74.8 145.5 74.7 144.4 74.4 143.3 74.2 142.2 73.8 141.1 73.3 140.0 72.7 139.0 72.0 137.9 71.3 136.9" stroke="#6b6b6b" stroke-width="0.9" stroke-opacity="0.31"/>
<path d="M62.5 167.2 60.4 166.9 58.2 166.7 56.0 166.6 53.8 166.6 51.6 166.6 49.4 166.6 47.2 166.6 45.0 166.6 42.8 166.6 40.6 166.5" stroke="#737373" stroke-width="1.1" stroke-opacity="0.14"/>
<path d="M98.6 180.3 100.7 180.7 102.7 181.1 104.7 181.6 106.6 182.2 108.2 182.9 109.7 183.7 111.0 184.6 112.0 185.6 113.0 186.6 113.8 187.6 114.6 188.6 115.3 189.6" stroke="#707070" stroke-width="1.1" stroke-opacity="0.15"/>
<path d="M85.2 179.1 87.2 179.6 89.1 180.1 91.0 180.7 92.7 181.4 94.3 182.1 95.8 182.9 97.2 183.8 98.2 184.8 99.1 185.8 99.8 186.8 100.5 187.9" stroke="#6a6a6a" stroke-width="0.7" stroke-opacity="0.16"/>
<path d="M65.6 166.0 63.8 165.3 61.9 164.8 59.9 164.3 57.8 164.0 55.7 163.8 53.5 163.6 51.3 163.6 49.1 163.5 46.9 163.5 44.7 163.5 42.5 163.4" stroke="#686868" stroke-width="0.6" stroke-opacity="0.22"/>
<path d="M78.6 175.8 80.7 176.1 78.6 175.8 80.5 176.4 80.9 175.3 79.6 174.4 78.4 173.5 77.0 172.6 75.7 171.7 74.5 170.8" stroke="#717171" stroke-width="0.8" stroke-opacity="0.24"/>
<path d="M98.8 173.2 100.9 172.9 103.0 172.5 105.0 172.1 107.0 171.6 108.9 171.0 110.7 170.4 112.4 169.7 114.1 169.1 115.8 168.3 117.3 167.5 118.7 166.7 120.0 165.8 121.2 164.9" stroke="#666666" stroke-width="1.2" stroke-opacity="0.12"/>
<path d="M88.0 177.5 90.2 177.3 92.3 176.9 94.2 176.4 96.1 175.8 98.0 175.3 100.0 174.8 102.0 174.3 104.0 173.9" stroke="#6b6b6b" stroke-width="1.0" stroke-opacity="0.33"/>
<path d="M89.4 159.2 91.1 158.5 92.7 157.8 94.2 157.0 95.7 156.1 96.9 155.2 98.0 154.3 98.9 153.3 99.7 152.3 100.4 151.2 100.8 150.1 101.0 149.0 101.0 147.9 100.8 146.8 100.4 145.7 99.9 144.7" stroke="#686868" stroke-width="1.1" stroke-opacity="0.11"/>
<path d="M92.3 179.0 94.5 179.2 96.7 179.3 98.9 179.2 101.0 179.0 103.2 178.8 105.3 178.5 107.4 178.1 109.4 177.7 111.4 177.2 113.5 176.8" stroke="#727272" stroke-width="0.8" stroke-opacity="0.22"/>
<path d="M87.2 171.3 88.9 170.6 90.6 169.9 92.5 169.3 94.3 168.7 96.0 168.0 97.7 167.3 99.4 166.6 101.0 165.9 102.5 165.0 103.8 164.2 105.0 163.2" stroke="#676767" stroke-width="0.8" stroke-opacity="0.24"/>
<path d="M85.2 186.7 84.6 187.8 84.2 188.9 84.0 190.0 84.0 191.1 84.3 192.1 84.7 193.2 85.4 194.3 86.0 195.3 86.9 196.3 88.0 197.3 89.2 198.2 90.6 199.0 92.2 199.8 93.8 200.6" stroke="#646464" stroke-width="1.2" stroke-opacity="0.32"/>
<path d="M54.2 180.4 52.0 180.5 49.8 180.6 47.6 180.6 45.4 180.7 43.2 180.7 41.0 180.8 38.8 180.9 36.6 181.1 34.5 181.4 32.4 181.7 30.3 182.1" stroke="#646464" stroke-width="0.7" stroke-opacity="0.17"/>
<path d="M78.9 176.1 80.9 175.6 82.2 174.7 83.8 174.0 85.9 173.8 88.1 173.9 90.3 174.1 92.5 174.1 94.7 174.2 96.9 174.0 99.0 173.8 101.1 173.5" stroke="#6e6e6e" stroke-width="1.1" stroke-opacity="0.24"/>
<path d="M40.2 167.7 38.0 167.6 35.9 167.4 33.7 167.3 31.5 167.1 29.3 167.0 27.2 166.8 25.0 166.5 22.9 166.3" stroke="#616161" stroke-width="1.1" stroke-opacity="0.25"/>
<path d="M91.6 173.6 93.8 173.6 96.0 173.5 98.1 173.3 100.3 173.0 102.3 172.7 104.4 172.3 106.4 171.8 108.3 171.3 110.2 170.7 112.1 170.1 113.9 169.5 115.6 168.8 117.2 168.1 118.7 167.3 120.1 166.4 121.4 165.5" stroke="#656565" stroke-width="0.6" stroke-opacity="0.27"/>
<path d="M107.3 172.3 109.3 171.8 111.2 171.2 113.0 170.6 114.8 170.0 116.6 169.3 118.3 168.6 120.0 167.9 121.6 167.2 123.2 166.4" stroke="#5d5d5d" stroke-width="0.9" stroke-opacity="0.26"/>
<path d="M72.7 165.6 71.3 164.7 70.0 163.9 68.8 162.9 67.7 162.0 66.8 161.0 66.1 159.9 65.6 158.9 65.2 157.8 64.9 156.7 65.0 155.6 65.3 154.5" stroke="#707070" stroke-width="1.1" stroke-opacity="0.26"/>
<path d="M82.0 167.4 82.2 166.3 82.6 165.2 83.3 164.2 84.2 163.2 85.5 162.3 87.0 161.5 88.6 160.8 90.4 160.1 92.2 159.4 93.9 158.8 95.7 158.1 97.4 157.4 99.0 156.7 100.5 155.9" stroke="#6e6e6e" stroke-width="1.1" stroke-opacity="0.15"/>
<path d="M26.3 172.2 24.3 172.5 22.2 173.0 20.3 173.5 18.4 174.0 16.5 174.6 14.6 175.1 12.7 175.7 10.8 176.3 8.9 176.8 7.0 177.4 5.0 177.8 2.9 178.2 0.8 178.5 -1.3 178.7 -3.5 178.8 -5.7 178.7" stroke="#747474" stroke-width="0.5" stroke-opacity="0.24"/>
<path d="M35.0 171.0 32.8 171.0 30.6 171.1 28.5 171.3 26.3 171.5 24.2 171.8 22.1 172.2 20.1 172.6 18.1 173.1 16.1 173.5 14.1 174.0 12.1 174.4 10.1 174.9 8.1 175.4 6.1 175.8 4.0 176.1" stroke="#6e6e6e" stroke-width="0.8" stroke-opacity="0.12"/>
<path d="M81.1 177.4 83.3 177.6 85.4 177.9 87.5 178.2 89.6 178.5 91.8 178.7 94.0 178.8 96.2 178.8 98.4 178.7 100.5 178.5 102.6 178.2 104.6 177.7 106.6 177.2" stroke="#6f6f6f" stroke-width="0.9" stroke-opacity="0.12"/>
<path d="M90.8 165.9 92.7 165.4 94.6 164.8 96.4 164.2 98.2 163.5 99.8 162.8 101.3 162.0 102.8 161.1 104.2 160.3 105.5 159.4 106.7 158.5 107.7 157.5" stroke="#5c5c5c" stroke-width="1.0" stroke-opacity="0.13"/>
</g>
<g filter="url(#b2_0)">
<ellipse cx="78.0" cy="175.0" rx="6" ry="3" transform="rotate(30 78.0 175.0)" fill="#757575" fill-opacity="0.6"/>
</g>
<g filter="url(#b0_8)">
<ellipse cx="77.5" cy="175.5" rx="5" ry="1.4" transform="rotate(30 77.5 175.5)" fill="#999999" fill-opacity="1"/>
</g>
<g filter="url(#b0_5)">
<ellipse cx="77.5" cy="175.5" rx="2.5" ry="0.9" transform="rotate(30 77.5 175.5)" fill="#a8a8a8" fill-opacity="1"/>
<ellipse cx="63.0" cy="165.0" rx="1.5" ry="1.0" fill="#949494" fill-opacity="0.8"/>
<ellipse cx="115.0" cy="178.0" rx="2.0" ry="1.0" transform="rotate(30 115.0 178.0)" fill="#949494" fill-opacity="0.8"/>
</g>
</g>
<filter id="warp2" x="-20%" y="-20%" width="140%" height="140%"><feTurbulence type="fractalNoise" baseFrequency="0.15" numOctaves="3" seed="21" result="t"/><feDisplacementMap in="SourceGraphic" in2="t" scale="7" xChannelSelector="R" yChannelSelector="G" result="d"/><feGaussianBlur in="d" stdDeviation="1.3"/></filter>
<g id="lv2">
<polygon points="4.0,249.6 77.0,212.0 149.5,249.6 77.0,287.2" fill="#0f0f0f"/>
<g filter="url(#warp2)">
<polygon points="26.3,247.6 31,241.6 40.6,240 47.7,235.7 56,234.5 54.8,228.6 62,225 70.2,226.2 73.8,222.7 78.5,220.3 85.6,223.9 83.3,231 76,235.7 83.3,238 95,235.7 104.6,234.5 109.3,231 118.8,232 121.2,238 109.3,241.6 116.5,244 126,245.2 133,250 123.6,254.7 111.7,259.4 99.9,265.4 83.3,268.9 69,271.3 62,266.5 52.4,263 43,265.4 46.5,271.3 40.6,271.3 35.8,260.6 31,258 26,252" fill="#616161"/>
</g>
<g filter="url(#b3_0)">
<ellipse cx="36.0" cy="244.0" rx="12" ry="7" fill="#808080" fill-opacity="0.85"/>
<ellipse cx="66.0" cy="229.0" rx="11" ry="7" fill="#808080" fill-opacity="0.85"/>
<ellipse cx="118.0" cy="244.0" rx="14" ry="12" fill="#808080" fill-opacity="0.85"/>
<ellipse cx="55.0" cy="267.0" rx="10" ry="5" fill="#808080" fill-opacity="0.8"/>
<ellipse cx="60.0" cy="245.0" rx="9" ry="4" fill="#404040" fill-opacity="0.6"/>
<ellipse cx="104.0" cy="250.0" rx="10" ry="5" fill="#4c4c4c" fill-opacity="0.4"/>
<ellipse cx="82.0" cy="278.0" rx="7" ry="4" fill="#525252" fill-opacity="0.8"/>
<ellipse cx="60.0" cy="252.0" rx="8" ry="4" fill="#545454" fill-opacity="0.4"/>
<ellipse cx="80.0" cy="247.0" rx="11" ry="8" fill="#8c8c8c" fill-opacity="0.7"/>
</g>
<g filter="url(#b2_0)">
<ellipse cx="72.0" cy="279.0" rx="6" ry="2.5" fill="#525252" fill-opacity="0.7"/>
<ellipse cx="137.0" cy="247.0" rx="7" ry="2" fill="#4c4c4c" fill-opacity="0.6"/>
</g>
<g filter="url(#b1_2)">
<ellipse cx="72.0" cy="253.5" rx="7" ry="2.8" transform="rotate(-10 72.0 253.5)" fill="#a8a8a8" fill-opacity="0.8"/>
<ellipse cx="81.0" cy="246.5" rx="8" ry="6" fill="#c2c2c2" fill-opacity="1.0"/>
</g>
<g filter="url(#b1_0)">
<ellipse cx="80.0" cy="246.0" rx="6" ry="4.5" transform="rotate(-20 80.0 246.0)" fill="#ebebeb" fill-opacity="1.0"/>
<ellipse cx="84.0" cy="244.0" rx="4" ry="3" fill="#f2f2f2" fill-opacity="1.0"/>
</g>
<g filter="url(#b0_8)">
<ellipse cx="66.5" cy="231.0" rx="4" ry="2" fill="#a8a8a8" fill-opacity="0.9"/>
<ellipse cx="79.0" cy="223.5" rx="3" ry="1.5" fill="#a3a3a3" fill-opacity="0.9"/>
<ellipse cx="41.0" cy="244.7" rx="3" ry="1.5" fill="#9e9e9e" fill-opacity="0.9"/>
<ellipse cx="115.0" cy="235.0" rx="3.5" ry="1.8" fill="#a8a8a8" fill-opacity="0.9"/>
<ellipse cx="119.0" cy="246.6" rx="4" ry="2" fill="#adadad" fill-opacity="0.9"/>
<ellipse cx="110.0" cy="250.0" rx="3" ry="1.5" fill="#9e9e9e" fill-opacity="0.8"/>
<ellipse cx="48.6" cy="268.0" rx="3" ry="1.5" fill="#a3a3a3" fill-opacity="0.9"/>
</g>
</g>
<filter id="fA0" x="-5%" y="-5%" width="110%" height="110%" color-interpolation-filters="sRGB"><feTurbulence type="fractalNoise" baseFrequency="0.1" numOctaves="2" seed="1" result="dn"/><feDisplacementMap in="SourceGraphic" in2="dn" scale="3" xChannelSelector="R" yChannelSelector="G" result="dsp0"/><feGaussianBlur in="dsp0" stdDeviation="0.7" result="dsp"/><feTurbulence type="fractalNoise" baseFrequency="0.3 0.3" numOctaves="2" seed="3" result="n"/><feColorMatrix in="n" type="matrix" values="1 0 0 0 0 1 0 0 0 0 1 0 0 0 0 0 0 0 0 1" result="ng"/><feComposite in="dsp" in2="ng" operator="arithmetic" k1="0.24" k2="0.88" k3="0" k4="0" result="m"/><feComposite in="m" in2="SourceAlpha" operator="in" result="m2"/><feComponentTransfer in="m2"><feFuncR type="table" tableValues="0.102 0.135 0.169 0.202 0.235 0.269 0.302 0.340 0.378 0.416 0.454 0.492 0.529 0.563 0.596 0.629 0.663 0.696 0.729 0.754 0.779 0.804 0.829 0.854 0.878 0.899 0.919 0.939 0.959 0.980 1.000 0.999 0.997 0.996 0.995 0.993 0.992 0.986 0.980 0.975 0.969 0.963 0.957 0.937 0.918 0.898 0.878 0.859 0.839 0.816 0.792 0.769 0.745 0.722 0.698 0.649 0.600 0.551 0.502 0.453 0.404"/><feFuncG type="table" tableValues="0.102 0.135 0.169 0.202 0.235 0.269 0.302 0.340 0.378 0.416 0.454 0.492 0.529 0.563 0.596 0.629 0.663 0.696 0.729 0.754 0.779 0.804 0.829 0.854 0.878 0.899 0.919 0.939 0.959 0.980 1.000 0.976 0.953 0.929 0.906 0.882 0.859 0.824 0.788 0.753 0.718 0.682 0.647 0.602 0.557 0.512 0.467 0.422 0.376 0.329 0.282 0.235 0.188 0.141 0.094 0.078 0.063 0.047 0.031 0.016 0.000"/><feFuncB type="table" tableValues="0.102 0.135 0.169 0.202 0.235 0.269 0.302 0.340 0.378 0.416 0.454 0.492 0.529 0.563 0.596 0.629 0.663 0.696 0.729 0.754 0.779 0.804 0.829 0.854 0.878 0.899 0.919 0.939 0.959 0.980 1.000 0.963 0.927 0.890 0.854 0.817 0.780 0.735 0.690 0.645 0.600 0.555 0.510 0.475 0.441 0.406 0.371 0.337 0.302 0.280 0.258 0.235 0.213 0.191 0.169 0.161 0.153 0.145 0.137 0.129 0.122"/></feComponentTransfer></filter>
<filter id="fA1" x="-5%" y="-5%" width="110%" height="110%" color-interpolation-filters="sRGB"><feTurbulence type="fractalNoise" baseFrequency="0.1" numOctaves="2" seed="1" result="dn"/><feDisplacementMap in="SourceGraphic" in2="dn" scale="3" xChannelSelector="R" yChannelSelector="G" result="dsp0"/><feGaussianBlur in="dsp0" stdDeviation="0.7" result="dsp"/><feTurbulence type="fractalNoise" baseFrequency="0.3 0.3" numOctaves="2" seed="5" result="n"/><feColorMatrix in="n" type="matrix" values="1 0 0 0 0 1 0 0 0 0 1 0 0 0 0 0 0 0 0 1" result="ng"/><feComposite in="dsp" in2="ng" operator="arithmetic" k1="0.24" k2="0.88" k3="0" k4="0" result="m"/><feComposite in="m" in2="SourceAlpha" operator="in" result="m2"/><feComponentTransfer in="m2"><feFuncR type="table" tableValues="0.102 0.135 0.169 0.202 0.235 0.269 0.302 0.340 0.378 0.416 0.454 0.492 0.529 0.563 0.596 0.629 0.663 0.696 0.729 0.754 0.779 0.804 0.829 0.854 0.878 0.899 0.919 0.939 0.959 0.980 1.000 0.999 0.997 0.996 0.995 0.993 0.992 0.986 0.980 0.975 0.969 0.963 0.957 0.937 0.918 0.898 0.878 0.859 0.839 0.816 0.792 0.769 0.745 0.722 0.698 0.649 0.600 0.551 0.502 0.453 0.404"/><feFuncG type="table" tableValues="0.102 0.135 0.169 0.202 0.235 0.269 0.302 0.340 0.378 0.416 0.454 0.492 0.529 0.563 0.596 0.629 0.663 0.696 0.729 0.754 0.779 0.804 0.829 0.854 0.878 0.899 0.919 0.939 0.959 0.980 1.000 0.976 0.953 0.929 0.906 0.882 0.859 0.824 0.788 0.753 0.718 0.682 0.647 0.602 0.557 0.512 0.467 0.422 0.376 0.329 0.282 0.235 0.188 0.141 0.094 0.078 0.063 0.047 0.031 0.016 0.000"/><feFuncB type="table" tableValues="0.102 0.135 0.169 0.202 0.235 0.269 0.302 0.340 0.378 0.416 0.454 0.492 0.529 0.563 0.596 0.629 0.663 0.696 0.729 0.754 0.779 0.804 0.829 0.854 0.878 0.899 0.919 0.939 0.959 0.980 1.000 0.963 0.927 0.890 0.854 0.817 0.780 0.735 0.690 0.645 0.600 0.555 0.510 0.475 0.441 0.406 0.371 0.337 0.302 0.280 0.258 0.235 0.213 0.191 0.169 0.161 0.153 0.145 0.137 0.129 0.122"/></feComponentTransfer></filter>
<filter id="fA2" x="-5%" y="-5%" width="110%" height="110%" color-interpolation-filters="sRGB"><feTurbulence type="fractalNoise" baseFrequency="0.15 0.15" numOctaves="3" seed="7" result="n"/><feColorMatrix in="n" type="matrix" values="1 0 0 0 0 1 0 0 0 0 1 0 0 0 0 0 0 0 0 1" result="ng"/><feComposite in="SourceGraphic" in2="ng" operator="arithmetic" k1="0" k2="1" k3="0.3" k4="-0.15" result="m"/><feComposite in="m" in2="SourceAlpha" operator="in" result="m2"/><feComponentTransfer in="m2"><feFuncR type="table" tableValues="0.102 0.105 0.108 0.111 0.114 0.117 0.120 0.123 0.126 0.129 0.132 0.135 0.138 0.141 0.206 0.286 0.375 0.466 0.553 0.633 0.696 0.748 0.792 0.835 0.878 0.895 0.911 0.927 0.943 0.959 0.976 1.000 0.998 0.997 0.995 0.994 0.992 0.986 0.980 0.975 0.969 0.963 0.957 0.937 0.918 0.898 0.878 0.859 0.839 0.816 0.792 0.769 0.745 0.722 0.698 0.649 0.600 0.551 0.502 0.453 0.404"/><feFuncG type="table" tableValues="0.102 0.105 0.108 0.111 0.114 0.117 0.120 0.123 0.126 0.129 0.132 0.135 0.138 0.141 0.206 0.286 0.375 0.466 0.553 0.633 0.696 0.748 0.792 0.835 0.878 0.895 0.911 0.927 0.943 0.959 0.976 1.000 0.972 0.944 0.915 0.887 0.859 0.824 0.788 0.753 0.718 0.682 0.647 0.602 0.557 0.512 0.467 0.422 0.376 0.329 0.282 0.235 0.188 0.141 0.094 0.078 0.063 0.047 0.031 0.016 0.000"/><feFuncB type="table" tableValues="0.102 0.105 0.108 0.111 0.114 0.117 0.120 0.123 0.126 0.129 0.132 0.135 0.138 0.141 0.206 0.286 0.375 0.466 0.553 0.633 0.696 0.748 0.792 0.835 0.878 0.895 0.911 0.927 0.943 0.959 0.976 1.000 0.956 0.912 0.868 0.824 0.780 0.735 0.690 0.645 0.600 0.555 0.510 0.475 0.441 0.406 0.371 0.337 0.302 0.280 0.258 0.235 0.213 0.191 0.169 0.161 0.153 0.145 0.137 0.129 0.122"/></feComponentTransfer></filter>
<filter id="fB0" x="-5%" y="-5%" width="110%" height="110%" color-interpolation-filters="sRGB"><feTurbulence type="fractalNoise" baseFrequency="0.1" numOctaves="2" seed="1" result="dn"/><feDisplacementMap in="SourceGraphic" in2="dn" scale="3" xChannelSelector="R" yChannelSelector="G" result="dsp0"/><feGaussianBlur in="dsp0" stdDeviation="0.7" result="dsp"/><feTurbulence type="fractalNoise" baseFrequency="0.3 0.3" numOctaves="2" seed="3" result="n"/><feColorMatrix in="n" type="matrix" values="1 0 0 0 0 1 0 0 0 0 1 0 0 0 0 0 0 0 0 1" result="ng"/><feComposite in="dsp" in2="ng" operator="arithmetic" k1="0.24" k2="0.88" k3="0" k4="0" result="m"/><feComposite in="m" in2="SourceAlpha" operator="in" result="m2"/><feComponentTransfer in="m2"><feFuncR type="table" tableValues="0.192 0.200 0.209 0.217 0.226 0.234 0.243 0.251 0.260 0.268 0.309 0.352 0.398 0.444 0.490 0.541 0.593 0.646 0.698 0.731 0.764 0.797 0.831 0.861 0.888 0.915 0.959 0.977 0.988 0.995 0.993 0.948 0.927 0.916 0.906 0.895 0.885 0.872 0.856 0.839 0.823 0.807 0.790 0.775 0.761 0.746 0.731 0.717 0.702 0.685 0.668 0.651 0.634 0.617 0.600 0.583 0.566 0.549 0.532 0.515 0.498"/><feFuncG type="table" tableValues="0.015 0.024 0.032 0.041 0.049 0.058 0.066 0.075 0.083 0.092 0.133 0.193 0.272 0.352 0.431 0.495 0.553 0.612 0.671 0.712 0.753 0.793 0.834 0.868 0.893 0.918 0.960 0.940 0.904 0.839 0.750 0.640 0.600 0.580 0.561 0.541 0.522 0.504 0.488 0.473 0.458 0.443 0.427 0.414 0.400 0.386 0.373 0.359 0.345 0.336 0.326 0.317 0.307 0.298 0.288 0.279 0.269 0.260 0.250 0.241 0.231"/><feFuncB type="table" tableValues="0.318 0.331 0.345 0.358 0.371 0.384 0.398 0.411 0.424 0.438 0.501 0.552 0.590 0.627 0.665 0.704 0.744 0.784 0.824 0.845 0.867 0.889 0.911 0.927 0.937 0.948 0.965 0.887 0.785 0.631 0.447 0.268 0.210 0.182 0.153 0.124 0.096 0.076 0.071 0.066 0.061 0.056 0.051 0.046 0.042 0.037 0.033 0.028 0.024 0.024 0.025 0.025 0.026 0.027 0.027 0.028 0.029 0.029 0.030 0.031 0.031"/></feComponentTransfer></filter>
<filter id="fB1" x="-5%" y="-5%" width="110%" height="110%" color-interpolation-filters="sRGB"><feTurbulence type="fractalNoise" baseFrequency="0.1" numOctaves="2" seed="1" result="dn"/><feDisplacementMap in="SourceGraphic" in2="dn" scale="3" xChannelSelector="R" yChannelSelector="G" result="dsp0"/><feGaussianBlur in="dsp0" stdDeviation="0.7" result="dsp"/><feTurbulence type="fractalNoise" baseFrequency="0.3 0.3" numOctaves="2" seed="5" result="n"/><feColorMatrix in="n" type="matrix" values="1 0 0 0 0 1 0 0 0 0 1 0 0 0 0 0 0 0 0 1" result="ng"/><feComposite in="dsp" in2="ng" operator="arithmetic" k1="0.24" k2="0.88" k3="0" k4="0" result="m"/><feComposite in="m" in2="SourceAlpha" operator="in" result="m2"/><feComponentTransfer in="m2"><feFuncR type="table" tableValues="0.176 0.183 0.190 0.197 0.204 0.210 0.217 0.224 0.231 0.238 0.273 0.309 0.347 0.387 0.427 0.467 0.508 0.554 0.600 0.654 0.706 0.748 0.789 0.831 0.867 0.901 0.927 0.950 0.970 0.976 0.985 0.994 0.995 0.994 0.993 0.992 0.982 0.969 0.955 0.942 0.928 0.915 0.901 0.887 0.871 0.849 0.827 0.806 0.784 0.763 0.741 0.720 0.697 0.673 0.648 0.623 0.598 0.573 0.548 0.523 0.498"/><feFuncG type="table" tableValues="0.000 0.007 0.014 0.020 0.027 0.034 0.041 0.048 0.054 0.061 0.097 0.133 0.183 0.252 0.322 0.391 0.458 0.510 0.561 0.622 0.681 0.732 0.783 0.834 0.874 0.905 0.929 0.952 0.965 0.945 0.915 0.884 0.837 0.784 0.745 0.727 0.703 0.678 0.653 0.628 0.603 0.577 0.552 0.526 0.502 0.482 0.462 0.442 0.422 0.402 0.382 0.362 0.343 0.329 0.315 0.301 0.287 0.273 0.259 0.245 0.231"/><feFuncB type="table" tableValues="0.294 0.305 0.315 0.326 0.337 0.347 0.358 0.369 0.379 0.390 0.446 0.501 0.547 0.580 0.613 0.646 0.679 0.714 0.749 0.790 0.829 0.856 0.883 0.911 0.929 0.942 0.952 0.962 0.957 0.901 0.816 0.731 0.627 0.518 0.438 0.399 0.362 0.325 0.288 0.251 0.214 0.177 0.140 0.103 0.076 0.069 0.063 0.056 0.049 0.042 0.036 0.029 0.024 0.025 0.026 0.027 0.028 0.028 0.029 0.030 0.031"/></feComponentTransfer></filter>
<filter id="fB2" x="-5%" y="-5%" width="110%" height="110%" color-interpolation-filters="sRGB"><feTurbulence type="fractalNoise" baseFrequency="0.12 0.12" numOctaves="3" seed="8" result="n"/><feColorMatrix in="n" type="matrix" values="1 0 0 0 0 1 0 0 0 0 1 0 0 0 0 0 0 0 0 1" result="ng"/><feComposite in="SourceGraphic" in2="ng" operator="arithmetic" k1="0" k2="1" k3="0.36" k4="-0.18" result="m"/><feComposite in="m" in2="SourceAlpha" operator="in" result="m2"/><feComponentTransfer in="m2"><feFuncR type="table" tableValues="0.238 0.241 0.245 0.249 0.253 0.257 0.261 0.264 0.268 0.272 0.276 0.280 0.284 0.296 0.309 0.322 0.335 0.350 0.364 0.407 0.450 0.493 0.541 0.590 0.639 0.703 0.753 0.802 0.851 0.892 0.932 0.967 0.976 0.984 0.992 0.996 0.995 0.994 0.993 0.993 0.992 0.975 0.958 0.941 0.924 0.907 0.890 0.870 0.843 0.817 0.790 0.764 0.737 0.711 0.682 0.651 0.620 0.590 0.559 0.529 0.498"/><feFuncG type="table" tableValues="0.061 0.065 0.069 0.073 0.076 0.080 0.084 0.088 0.092 0.096 0.099 0.103 0.107 0.120 0.133 0.145 0.163 0.188 0.213 0.287 0.362 0.436 0.495 0.550 0.605 0.677 0.738 0.800 0.859 0.897 0.935 0.967 0.945 0.919 0.893 0.860 0.816 0.792 0.769 0.745 0.722 0.690 0.658 0.626 0.595 0.563 0.531 0.502 0.477 0.452 0.427 0.403 0.378 0.353 0.334 0.317 0.300 0.283 0.265 0.248 0.231"/><feFuncB type="table" tableValues="0.390 0.396 0.402 0.408 0.414 0.420 0.426 0.432 0.438 0.444 0.450 0.456 0.462 0.482 0.501 0.521 0.538 0.550 0.562 0.597 0.632 0.667 0.704 0.742 0.779 0.827 0.859 0.892 0.923 0.939 0.955 0.968 0.901 0.828 0.756 0.676 0.584 0.535 0.486 0.437 0.388 0.342 0.295 0.249 0.202 0.156 0.109 0.076 0.067 0.059 0.051 0.043 0.035 0.026 0.024 0.025 0.027 0.028 0.029 0.030 0.031"/></feComponentTransfer></filter>
<clipPath id="dm0_0"><polygon points="7.0,101.0 77.0,66.4 146.5,101.0 77.0,135.6"/></clipPath>
<clipPath id="dm0_152"><polygon points="159.0,101.0 229.0,66.4 298.5,101.0 229.0,135.6"/></clipPath>
<clipPath id="dm1_0"><polygon points="7.0,175.8 77.0,141.20000000000002 146.5,175.8 77.0,210.4"/></clipPath>
<clipPath id="dm1_152"><polygon points="159.0,175.8 229.0,141.20000000000002 298.5,175.8 229.0,210.4"/></clipPath>
<clipPath id="dm2_0"><polygon points="7.0,249.6 77.0,215.0 146.5,249.6 77.0,284.2"/></clipPath>
<clipPath id="dm2_152"><polygon points="159.0,249.6 229.0,215.0 298.5,249.6 229.0,284.2"/></clipPath>
</defs>
<rect width="760" height="312" fill="#fff"/>
<rect x="6.25" y="29.0" width="141.75" height="6.600000000000001" fill="url(#cmA)" stroke="#000" stroke-width="0.9"/>
<line x1="19.30" y1="26.00" x2="19.30" y2="29.00" stroke="#000" stroke-width="0.8" />
<line x1="75.05" y1="26.00" x2="75.05" y2="29.00" stroke="#000" stroke-width="0.8" />
<line x1="130.80" y1="26.00" x2="130.80" y2="29.00" stroke="#000" stroke-width="0.8" />
<line x1="6.93" y1="27.30" x2="6.93" y2="29.00" stroke="#000" stroke-width="0.6" />
<line x1="10.66" y1="27.30" x2="10.66" y2="29.00" stroke="#000" stroke-width="0.6" />
<line x1="13.90" y1="27.30" x2="13.90" y2="29.00" stroke="#000" stroke-width="0.6" />
<line x1="16.75" y1="27.30" x2="16.75" y2="29.00" stroke="#000" stroke-width="0.6" />
<line x1="36.08" y1="27.30" x2="36.08" y2="29.00" stroke="#000" stroke-width="0.6" />
<line x1="45.90" y1="27.30" x2="45.90" y2="29.00" stroke="#000" stroke-width="0.6" />
<line x1="52.86" y1="27.30" x2="52.86" y2="29.00" stroke="#000" stroke-width="0.6" />
<line x1="58.27" y1="27.30" x2="58.27" y2="29.00" stroke="#000" stroke-width="0.6" />
<line x1="62.68" y1="27.30" x2="62.68" y2="29.00" stroke="#000" stroke-width="0.6" />
<line x1="66.41" y1="27.30" x2="66.41" y2="29.00" stroke="#000" stroke-width="0.6" />
<line x1="69.65" y1="27.30" x2="69.65" y2="29.00" stroke="#000" stroke-width="0.6" />
<line x1="72.50" y1="27.30" x2="72.50" y2="29.00" stroke="#000" stroke-width="0.6" />
<line x1="91.83" y1="27.30" x2="91.83" y2="29.00" stroke="#000" stroke-width="0.6" />
<line x1="101.65" y1="27.30" x2="101.65" y2="29.00" stroke="#000" stroke-width="0.6" />
<line x1="108.61" y1="27.30" x2="108.61" y2="29.00" stroke="#000" stroke-width="0.6" />
<line x1="114.02" y1="27.30" x2="114.02" y2="29.00" stroke="#000" stroke-width="0.6" />
<line x1="118.43" y1="27.30" x2="118.43" y2="29.00" stroke="#000" stroke-width="0.6" />
<line x1="122.16" y1="27.30" x2="122.16" y2="29.00" stroke="#000" stroke-width="0.6" />
<line x1="125.40" y1="27.30" x2="125.40" y2="29.00" stroke="#000" stroke-width="0.6" />
<line x1="128.25" y1="27.30" x2="128.25" y2="29.00" stroke="#000" stroke-width="0.6" />
<line x1="147.58" y1="27.30" x2="147.58" y2="29.00" stroke="#000" stroke-width="0.6" />
<text x="10.30" y="20.50" font-size="9.3" text-anchor="start" fill="#262626" textLength="10.6" lengthAdjust="spacingAndGlyphs"  stroke="#262626" stroke-width="0.2">10</text>
<text x="21.00" y="17.60" font-size="6.6" text-anchor="start" fill="#262626" textLength="7.4" lengthAdjust="spacingAndGlyphs"  stroke="#262626" stroke-width="0.2">11</text>
<text x="66.05" y="20.50" font-size="9.3" text-anchor="start" fill="#262626" textLength="10.6" lengthAdjust="spacingAndGlyphs"  stroke="#262626" stroke-width="0.2">10</text>
<text x="76.75" y="17.60" font-size="6.6" text-anchor="start" fill="#262626" textLength="7.4" lengthAdjust="spacingAndGlyphs"  stroke="#262626" stroke-width="0.2">12</text>
<text x="121.80" y="20.50" font-size="9.3" text-anchor="start" fill="#262626" textLength="10.6" lengthAdjust="spacingAndGlyphs"  stroke="#262626" stroke-width="0.2">10</text>
<text x="132.50" y="17.60" font-size="6.6" text-anchor="start" fill="#262626" textLength="7.4" lengthAdjust="spacingAndGlyphs"  stroke="#262626" stroke-width="0.2">13</text>
<rect x="157.7" y="29.0" width="141.3" height="6.600000000000001" fill="url(#cmB)" stroke="#000" stroke-width="0.9"/>
<line x1="170.50" y1="26.00" x2="170.50" y2="29.00" stroke="#000" stroke-width="0.8" />
<line x1="226.25" y1="26.00" x2="226.25" y2="29.00" stroke="#000" stroke-width="0.8" />
<line x1="282.00" y1="26.00" x2="282.00" y2="29.00" stroke="#000" stroke-width="0.8" />
<line x1="158.13" y1="27.30" x2="158.13" y2="29.00" stroke="#000" stroke-width="0.6" />
<line x1="161.86" y1="27.30" x2="161.86" y2="29.00" stroke="#000" stroke-width="0.6" />
<line x1="165.10" y1="27.30" x2="165.10" y2="29.00" stroke="#000" stroke-width="0.6" />
<line x1="167.95" y1="27.30" x2="167.95" y2="29.00" stroke="#000" stroke-width="0.6" />
<line x1="187.28" y1="27.30" x2="187.28" y2="29.00" stroke="#000" stroke-width="0.6" />
<line x1="197.10" y1="27.30" x2="197.10" y2="29.00" stroke="#000" stroke-width="0.6" />
<line x1="204.06" y1="27.30" x2="204.06" y2="29.00" stroke="#000" stroke-width="0.6" />
<line x1="209.47" y1="27.30" x2="209.47" y2="29.00" stroke="#000" stroke-width="0.6" />
<line x1="213.88" y1="27.30" x2="213.88" y2="29.00" stroke="#000" stroke-width="0.6" />
<line x1="217.61" y1="27.30" x2="217.61" y2="29.00" stroke="#000" stroke-width="0.6" />
<line x1="220.85" y1="27.30" x2="220.85" y2="29.00" stroke="#000" stroke-width="0.6" />
<line x1="223.70" y1="27.30" x2="223.70" y2="29.00" stroke="#000" stroke-width="0.6" />
<line x1="243.03" y1="27.30" x2="243.03" y2="29.00" stroke="#000" stroke-width="0.6" />
<line x1="252.85" y1="27.30" x2="252.85" y2="29.00" stroke="#000" stroke-width="0.6" />
<line x1="259.81" y1="27.30" x2="259.81" y2="29.00" stroke="#000" stroke-width="0.6" />
<line x1="265.22" y1="27.30" x2="265.22" y2="29.00" stroke="#000" stroke-width="0.6" />
<line x1="269.63" y1="27.30" x2="269.63" y2="29.00" stroke="#000" stroke-width="0.6" />
<line x1="273.36" y1="27.30" x2="273.36" y2="29.00" stroke="#000" stroke-width="0.6" />
<line x1="276.60" y1="27.30" x2="276.60" y2="29.00" stroke="#000" stroke-width="0.6" />
<line x1="279.45" y1="27.30" x2="279.45" y2="29.00" stroke="#000" stroke-width="0.6" />
<line x1="298.78" y1="27.30" x2="298.78" y2="29.00" stroke="#000" stroke-width="0.6" />
<text x="161.50" y="20.50" font-size="9.3" text-anchor="start" fill="#262626" textLength="10.6" lengthAdjust="spacingAndGlyphs"  stroke="#262626" stroke-width="0.2">10</text>
<text x="172.20" y="17.60" font-size="6.6" text-anchor="start" fill="#262626" textLength="7.4" lengthAdjust="spacingAndGlyphs"  stroke="#262626" stroke-width="0.2">10</text>
<text x="217.25" y="20.50" font-size="9.3" text-anchor="start" fill="#262626" textLength="10.6" lengthAdjust="spacingAndGlyphs"  stroke="#262626" stroke-width="0.2">10</text>
<text x="227.95" y="17.60" font-size="6.6" text-anchor="start" fill="#262626" textLength="7.4" lengthAdjust="spacingAndGlyphs"  stroke="#262626" stroke-width="0.2">11</text>
<text x="273.00" y="20.50" font-size="9.3" text-anchor="start" fill="#262626" textLength="10.6" lengthAdjust="spacingAndGlyphs"  stroke="#262626" stroke-width="0.2">10</text>
<text x="283.70" y="17.60" font-size="6.6" text-anchor="start" fill="#262626" textLength="7.4" lengthAdjust="spacingAndGlyphs"  stroke="#262626" stroke-width="0.2">12</text>
<text x="5.40" y="8.90" font-size="8.8" text-anchor="start" fill="#262626" textLength="11.9" lengthAdjust="spacingAndGlyphs"  stroke="#262626" stroke-width="0.2">(a)</text>
<text x="38.00" y="8.6" font-size="9.0" fill="#262626" textLength="78.0" lengthAdjust="spacingAndGlyphs" stroke="#262626" stroke-width="0.2"><tspan font-style="italic">Q</tspan><tspan font-style="italic" font-size="5.4" dy="2.2">J</tspan><tspan dy="-2.2" font-style="italic">/ρ</tspan> (erg g<tspan font-size="6.2" dy="-3.2">−1</tspan><tspan dy="3.2"> s</tspan><tspan font-size="6.2" dy="-3.2">−1</tspan><tspan dy="3.2">)</tspan></text>
<text x="156.50" y="8.90" font-size="8.8" text-anchor="start" fill="#262626" textLength="11.9" lengthAdjust="spacingAndGlyphs"  stroke="#262626" stroke-width="0.2">(b)</text>
<text x="188.40" y="8.6" font-size="9.0" fill="#262626" textLength="80.0" lengthAdjust="spacingAndGlyphs" stroke="#262626" stroke-width="0.2"><tspan font-style="italic">Q</tspan><tspan font-style="italic" font-size="5.4" dy="2.2">V</tspan><tspan dy="-2.2" font-style="italic">/ρ</tspan> (erg g<tspan font-size="6.2" dy="-3.2">−1</tspan><tspan dy="3.2"> s</tspan><tspan font-size="6.2" dy="-3.2">−1</tspan><tspan dy="3.2">)</tspan></text>
<rect x="38.2" y="-0.5" width="17.8" height="1.1" fill="#333"/>
<rect x="188.4" y="-0.5" width="20.6" height="1.1" fill="#333"/>
<clipPath id="clip(c)"><rect x="350.5" y="46.400000000000006" width="174.89999999999998" height="109.69999999999999"/></clipPath>
<g clip-path="url(#clip(c))">
<polyline points="349.9,155.8 351.8,151.0 353.3,148.8 354.7,146.2 356.0,147.1 357.2,147.1 358.4,146.2 359.5,144.2 361.5,141.3 363.4,146.2 364.7,146.0 365.9,144.7 367.2,143.3 368.7,145.5 370.1,146.2 371.6,144.8 373.0,145.2 374.9,144.6 376.3,133.7 377.4,142.3 378.6,144.2 379.7,146.2 381.0,147.3 382.3,147.1 383.6,147.1 385.0,146.4 386.5,144.2 388.4,137.5 389.9,131.7 391.3,138.5 392.7,136.8 394.2,136.5 395.4,135.8 396.7,134.8 398.0,134.6 399.4,134.2 400.9,133.7 402.8,125.0 404.2,129.0 405.7,132.7 407.1,132.8 408.6,134.6 410.5,139.4 412.4,131.7 413.9,126.7 415.3,122.7 417.2,126.0 419.2,133.7 420.6,134.2 422.0,135.6 423.6,130.8 424.9,119.2 425.9,76.9 426.8,128.8 428.8,138.5 430.7,128.8 432.6,136.5 434.1,136.3 435.5,134.6 436.6,135.4 437.8,134.6 438.9,135.6 440.8,132.7 442.2,133.7 443.7,133.7 445.6,143.3 447.5,145.2 449.5,140.4 451.4,132.7 452.9,121.2 454.3,133.7 456.2,128.8 457.4,122.9 458.7,118.3 460.0,123.1 462.0,137.5 463.4,136.7 464.8,135.6 466.3,131.5 467.7,128.8 469.2,125.1 470.6,123.1 472.5,119.2 474.5,109.6 476.4,117.3 478.3,128.8 480.2,131.7 481.7,131.9 483.1,130.8 485.0,137.5 487.0,125.0 488.9,136.5 490.3,137.5 491.8,139.4 493.1,139.2 494.3,140.9 495.6,140.4 497.5,131.7 499.5,131.7 501.4,140.4 502.8,135.8 504.3,129.8 506.2,141.3 507.5,140.0 508.8,140.3 510.0,138.5 511.2,137.6 512.3,136.5 514.5,119.2 515.8,135.6 517.1,138.3 518.3,140.4 519.5,135.5 520.6,131.7 522.5,132.7 523.7,133.0 524.8,131.7" fill="none" stroke="#ff6433" stroke-width="1.3" stroke-linejoin="round"/>
<polyline points="349.9,155.8 351.8,152.9 353.8,149.0 355.2,147.3 356.7,146.2 358.6,143.3 359.8,142.2 361.1,141.0 363.0,144.2 364.2,145.0 365.3,146.2 366.6,146.6 367.9,146.9 369.2,147.1 370.4,146.9 371.7,147.2 373.0,148.1 374.9,147.1 376.3,143.8 377.8,147.1 379.2,148.2 380.7,148.5 382.6,149.0 384.1,148.3 385.5,148.1 387.4,149.0 389.3,146.2 391.3,142.7 392.7,143.3 394.2,144.6 395.6,144.2 397.0,142.7 398.5,141.0 399.9,139.4 401.2,136.9 402.4,133.7 404.1,134.1 405.7,134.6 407.1,135.3 408.6,135.6 410.0,134.7 411.5,134.6 412.7,134.5 414.0,134.4 415.3,133.7 417.2,135.6 418.7,138.5 420.1,141.3 422.0,139.4 424.0,137.5 425.5,121.5 426.8,135.6 428.3,136.3 429.7,136.5 431.2,138.7 432.6,140.4 434.1,142.3 435.5,145.2 436.9,144.9 438.4,144.0 439.8,143.3 441.1,143.7 442.4,144.0 443.7,145.2 445.0,146.9 446.3,147.7 447.5,149.0 448.8,148.0 450.1,146.9 451.4,145.2 452.7,144.2 453.9,143.1 455.2,141.3 456.7,138.3 458.1,135.6 459.5,127.9 461.0,135.6 462.9,138.5 464.4,141.7 465.8,144.2 467.2,142.7 468.7,141.3 470.1,140.9 471.6,139.4 473.0,137.5 474.5,134.6 476.4,137.5 477.8,137.5 479.3,138.5 480.7,138.5 482.2,139.4 483.6,138.6 485.0,138.5 486.5,140.0 487.9,140.4 489.4,142.2 490.8,144.2 492.0,145.3 493.1,146.2 494.4,144.0 495.6,142.3 497.1,140.9 498.5,139.4 499.9,140.7 501.4,142.3 502.7,141.5 503.9,141.1 505.2,140.4 506.5,140.5 507.8,140.9 509.1,140.4 510.5,141.1 512.0,141.3 513.2,137.1 514.5,131.7 515.2,139.4 516.5,140.8 517.7,141.3 519.2,140.5 520.6,138.5 522.1,137.7 523.5,136.5 524.8,133.7" fill="none" stroke="#000" stroke-width="1.5" stroke-linejoin="round"/>
</g>
<line x1="350.50" y1="66.40" x2="525.40" y2="66.40" stroke="#262626" stroke-width="1.0" />
<line x1="350.50" y1="156.10" x2="525.40" y2="156.10" stroke="#262626" stroke-width="1.0" />
<line x1="350.50" y1="66.40" x2="350.50" y2="156.10" stroke="#262626" stroke-width="1.0" />
<line x1="525.40" y1="66.40" x2="525.40" y2="156.10" stroke="#ff6433" stroke-width="1.0" />
<line x1="350.50" y1="156.10" x2="350.50" y2="159.10" stroke="#262626" stroke-width="0.8" />
<text x="350.50" y="169.60" font-size="9.2" text-anchor="middle" fill="#262626" textLength="5.35" lengthAdjust="spacingAndGlyphs"  stroke="#262626" stroke-width="0.2">0</text>
<line x1="356.98" y1="156.10" x2="356.98" y2="157.90" stroke="#262626" stroke-width="0.8" />
<line x1="363.46" y1="156.10" x2="363.46" y2="157.90" stroke="#262626" stroke-width="0.8" />
<line x1="369.93" y1="156.10" x2="369.93" y2="157.90" stroke="#262626" stroke-width="0.8" />
<line x1="376.41" y1="156.10" x2="376.41" y2="157.90" stroke="#262626" stroke-width="0.8" />
<line x1="382.89" y1="156.10" x2="382.89" y2="159.10" stroke="#262626" stroke-width="0.8" />
<text x="382.89" y="169.60" font-size="9.2" text-anchor="middle" fill="#262626" textLength="10.7" lengthAdjust="spacingAndGlyphs"  stroke="#262626" stroke-width="0.2">50</text>
<line x1="389.37" y1="156.10" x2="389.37" y2="157.90" stroke="#262626" stroke-width="0.8" />
<line x1="395.84" y1="156.10" x2="395.84" y2="157.90" stroke="#262626" stroke-width="0.8" />
<line x1="402.32" y1="156.10" x2="402.32" y2="157.90" stroke="#262626" stroke-width="0.8" />
<line x1="408.80" y1="156.10" x2="408.80" y2="157.90" stroke="#262626" stroke-width="0.8" />
<line x1="415.28" y1="156.10" x2="415.28" y2="159.10" stroke="#262626" stroke-width="0.8" />
<text x="415.28" y="169.60" font-size="9.2" text-anchor="middle" fill="#262626" textLength="16.049999999999997" lengthAdjust="spacingAndGlyphs"  stroke="#262626" stroke-width="0.2">100</text>
<line x1="421.76" y1="156.10" x2="421.76" y2="157.90" stroke="#262626" stroke-width="0.8" />
<line x1="428.23" y1="156.10" x2="428.23" y2="157.90" stroke="#262626" stroke-width="0.8" />
<line x1="434.71" y1="156.10" x2="434.71" y2="157.90" stroke="#262626" stroke-width="0.8" />
<line x1="441.19" y1="156.10" x2="441.19" y2="157.90" stroke="#262626" stroke-width="0.8" />
<line x1="447.67" y1="156.10" x2="447.67" y2="159.10" stroke="#262626" stroke-width="0.8" />
<text x="447.67" y="169.60" font-size="9.2" text-anchor="middle" fill="#262626" textLength="16.049999999999997" lengthAdjust="spacingAndGlyphs"  stroke="#262626" stroke-width="0.2">150</text>
<line x1="454.14" y1="156.10" x2="454.14" y2="157.90" stroke="#262626" stroke-width="0.8" />
<line x1="460.62" y1="156.10" x2="460.62" y2="157.90" stroke="#262626" stroke-width="0.8" />
<line x1="467.10" y1="156.10" x2="467.10" y2="157.90" stroke="#262626" stroke-width="0.8" />
<line x1="473.58" y1="156.10" x2="473.58" y2="157.90" stroke="#262626" stroke-width="0.8" />
<line x1="480.06" y1="156.10" x2="480.06" y2="159.10" stroke="#262626" stroke-width="0.8" />
<text x="480.06" y="169.60" font-size="9.2" text-anchor="middle" fill="#262626" textLength="16.049999999999997" lengthAdjust="spacingAndGlyphs"  stroke="#262626" stroke-width="0.2">200</text>
<line x1="486.53" y1="156.10" x2="486.53" y2="157.90" stroke="#262626" stroke-width="0.8" />
<line x1="493.01" y1="156.10" x2="493.01" y2="157.90" stroke="#262626" stroke-width="0.8" />
<line x1="499.49" y1="156.10" x2="499.49" y2="157.90" stroke="#262626" stroke-width="0.8" />
<line x1="505.97" y1="156.10" x2="505.97" y2="157.90" stroke="#262626" stroke-width="0.8" />
<line x1="512.44" y1="156.10" x2="512.44" y2="159.10" stroke="#262626" stroke-width="0.8" />
<text x="512.44" y="169.60" font-size="9.2" text-anchor="middle" fill="#262626" textLength="16.049999999999997" lengthAdjust="spacingAndGlyphs"  stroke="#262626" stroke-width="0.2">250</text>
<line x1="518.92" y1="156.10" x2="518.92" y2="157.90" stroke="#262626" stroke-width="0.8" />
<line x1="525.40" y1="156.10" x2="525.40" y2="157.90" stroke="#262626" stroke-width="0.8" />
<text x="437.95" y="181.70" font-size="8.6" text-anchor="middle" fill="#262626" textLength="29.8" lengthAdjust="spacingAndGlyphs"  stroke="#262626" stroke-width="0.2">t (min)</text>
<line x1="347.50" y1="156.10" x2="350.50" y2="156.10" stroke="#262626" stroke-width="0.8" />
<text x="344.20" y="159.60" font-size="9.2" text-anchor="end" fill="#262626" textLength="5.2" lengthAdjust="spacingAndGlyphs"  stroke="#262626" stroke-width="0.2">0</text>
<line x1="348.70" y1="150.97" x2="350.50" y2="150.97" stroke="#262626" stroke-width="0.8" />
<line x1="348.70" y1="145.85" x2="350.50" y2="145.85" stroke="#262626" stroke-width="0.8" />
<line x1="348.70" y1="140.72" x2="350.50" y2="140.72" stroke="#262626" stroke-width="0.8" />
<line x1="348.70" y1="135.60" x2="350.50" y2="135.60" stroke="#262626" stroke-width="0.8" />
<line x1="347.50" y1="130.47" x2="350.50" y2="130.47" stroke="#262626" stroke-width="0.8" />
<text x="344.20" y="133.97" font-size="9.2" text-anchor="end" fill="#262626" textLength="5.2" lengthAdjust="spacingAndGlyphs"  stroke="#262626" stroke-width="0.2">1</text>
<line x1="348.70" y1="125.35" x2="350.50" y2="125.35" stroke="#262626" stroke-width="0.8" />
<line x1="348.70" y1="120.22" x2="350.50" y2="120.22" stroke="#262626" stroke-width="0.8" />
<line x1="348.70" y1="115.09" x2="350.50" y2="115.09" stroke="#262626" stroke-width="0.8" />
<line x1="348.70" y1="109.97" x2="350.50" y2="109.97" stroke="#262626" stroke-width="0.8" />
<line x1="347.50" y1="104.84" x2="350.50" y2="104.84" stroke="#262626" stroke-width="0.8" />
<text x="344.20" y="108.34" font-size="9.2" text-anchor="end" fill="#262626" textLength="5.2" lengthAdjust="spacingAndGlyphs"  stroke="#262626" stroke-width="0.2">2</text>
<line x1="348.70" y1="99.72" x2="350.50" y2="99.72" stroke="#262626" stroke-width="0.8" />
<line x1="348.70" y1="94.59" x2="350.50" y2="94.59" stroke="#262626" stroke-width="0.8" />
<line x1="348.70" y1="89.47" x2="350.50" y2="89.47" stroke="#262626" stroke-width="0.8" />
<line x1="348.70" y1="84.34" x2="350.50" y2="84.34" stroke="#262626" stroke-width="0.8" />
<line x1="347.50" y1="79.21" x2="350.50" y2="79.21" stroke="#262626" stroke-width="0.8" />
<text x="344.20" y="82.71" font-size="9.2" text-anchor="end" fill="#262626" textLength="5.2" lengthAdjust="spacingAndGlyphs"  stroke="#262626" stroke-width="0.2">3</text>
<line x1="348.70" y1="74.09" x2="350.50" y2="74.09" stroke="#262626" stroke-width="0.8" />
<line x1="348.70" y1="68.96" x2="350.50" y2="68.96" stroke="#262626" stroke-width="0.8" />
<line x1="525.40" y1="156.10" x2="528.40" y2="156.10" stroke="#ff6433" stroke-width="0.8" />
<text x="531.70" y="159.60" font-size="9.2" text-anchor="start" fill="#ff6433" textLength="5.2" lengthAdjust="spacingAndGlyphs"  stroke="#ff6433" stroke-width="0.2">0</text>
<line x1="525.40" y1="150.12" x2="527.20" y2="150.12" stroke="#ff6433" stroke-width="0.8" />
<line x1="525.40" y1="144.14" x2="527.20" y2="144.14" stroke="#ff6433" stroke-width="0.8" />
<line x1="525.40" y1="138.16" x2="527.20" y2="138.16" stroke="#ff6433" stroke-width="0.8" />
<line x1="525.40" y1="132.18" x2="527.20" y2="132.18" stroke="#ff6433" stroke-width="0.8" />
<line x1="525.40" y1="126.20" x2="528.40" y2="126.20" stroke="#ff6433" stroke-width="0.8" />
<text x="531.70" y="129.70" font-size="9.2" text-anchor="start" fill="#ff6433" textLength="5.2" lengthAdjust="spacingAndGlyphs"  stroke="#ff6433" stroke-width="0.2">1</text>
<line x1="525.40" y1="120.22" x2="527.20" y2="120.22" stroke="#ff6433" stroke-width="0.8" />
<line x1="525.40" y1="114.24" x2="527.20" y2="114.24" stroke="#ff6433" stroke-width="0.8" />
<line x1="525.40" y1="108.26" x2="527.20" y2="108.26" stroke="#ff6433" stroke-width="0.8" />
<line x1="525.40" y1="102.28" x2="527.20" y2="102.28" stroke="#ff6433" stroke-width="0.8" />
<line x1="525.40" y1="96.30" x2="528.40" y2="96.30" stroke="#ff6433" stroke-width="0.8" />
<text x="531.70" y="99.80" font-size="9.2" text-anchor="start" fill="#ff6433" textLength="5.2" lengthAdjust="spacingAndGlyphs"  stroke="#ff6433" stroke-width="0.2">2</text>
<line x1="525.40" y1="90.32" x2="527.20" y2="90.32" stroke="#ff6433" stroke-width="0.8" />
<line x1="525.40" y1="84.34" x2="527.20" y2="84.34" stroke="#ff6433" stroke-width="0.8" />
<line x1="525.40" y1="78.36" x2="527.20" y2="78.36" stroke="#ff6433" stroke-width="0.8" />
<line x1="525.40" y1="72.38" x2="527.20" y2="72.38" stroke="#ff6433" stroke-width="0.8" />
<line x1="525.40" y1="66.40" x2="528.40" y2="66.40" stroke="#ff6433" stroke-width="0.8" />
<text x="531.70" y="69.90" font-size="9.2" text-anchor="start" fill="#ff6433" textLength="5.2" lengthAdjust="spacingAndGlyphs"  stroke="#ff6433" stroke-width="0.2">3</text>
<text x="350.50" y="64.90" font-size="8.4" text-anchor="start" fill="#262626" textLength="11.2" lengthAdjust="spacingAndGlyphs"  stroke="#262626" stroke-width="0.2">(c)</text>
<text x="437.95" y="64.50" font-size="8.4" text-anchor="middle" fill="#1f77b4" textLength="45.6" lengthAdjust="spacingAndGlyphs"  stroke="#1f77b4" stroke-width="0.2">z=5.0 Mm</text>
<text x="357.00" y="76.80" font-size="8.6" text-anchor="start" fill="#ff2a3a" textLength="36.2" lengthAdjust="spacingAndGlyphs"  stroke="#ff2a3a" stroke-width="0.2">r = 0.81</text>
<text transform="translate(332.5,111.05) rotate(-90)" font-size="8.6" text-anchor="middle" fill="#262626" textLength="74" lengthAdjust="spacingAndGlyphs" stroke="#262626" stroke-width="0.2">(10<tspan font-size="5.9" dy="-3">12</tspan><tspan dy="3"> erg g</tspan><tspan font-size="5.9" dy="-3">−1</tspan><tspan dy="3"> s</tspan><tspan font-size="5.9" dy="-3">−1</tspan><tspan dy="3">)</tspan></text>
<text transform="translate(547.8,111.85) rotate(-90)" font-size="8.6" text-anchor="middle" fill="#ff6433" textLength="74" lengthAdjust="spacingAndGlyphs" stroke="#ff6433" stroke-width="0.2">(10<tspan font-size="5.9" dy="-3">11</tspan><tspan dy="3"> erg g</tspan><tspan font-size="5.9" dy="-3">−1</tspan><tspan dy="3"> s</tspan><tspan font-size="5.9" dy="-3">−1</tspan><tspan dy="3">)</tspan></text>
<clipPath id="clip(d)"><rect x="350.5" y="175.0" width="174.89999999999998" height="110.0"/></clipPath>
<g clip-path="url(#clip(d))">
<polyline points="350.4,284.0 351.6,283.9 352.8,283.2 354.4,282.1 356.0,280.0 357.2,275.4 358.4,269.6 360.0,265.6 361.6,266.0 363.2,264.8 364.8,269.6 366.0,272.1 367.2,273.6 368.8,273.6 370.4,272.0 372.0,271.2 373.6,272.8 374.8,270.4 376.0,269.6 377.2,270.8 378.4,272.0 380.0,271.2 381.6,268.8 382.8,270.7 384.0,272.0 385.2,272.4 386.4,271.2 387.6,268.5 388.8,267.2 390.4,264.3 391.6,266.5 392.8,268.8 394.0,267.6 395.2,267.3 396.4,266.6 397.6,265.6 398.8,263.5 400.0,263.2 401.7,253.6 402.9,253.5 404.1,254.4 405.3,256.4 406.5,259.2 408.1,261.6 409.7,262.4 411.0,257.6 412.3,251.1 413.7,246.4 414.9,250.1 416.1,252.8 417.3,254.6 418.5,257.6 419.7,260.2 420.9,262.4 422.5,263.0 424.1,264.8 425.3,253.1 426.5,243.2 428.1,256.0 429.7,263.1 431.3,268.8 432.5,259.5 433.7,251.2 434.9,254.7 436.1,259.2 437.4,262.1 438.6,263.2 440.0,265.6 441.3,266.7 442.5,264.9 443.6,264.6 444.8,262.3 446.1,265.0 447.4,267.6 448.8,267.9 450.1,267.6 451.4,266.6 452.7,266.7 454.1,265.7 455.4,263.2 456.7,259.6 458.0,255.3 459.3,252.1 460.7,247.3 462.0,252.4 463.3,256.1 464.6,259.3 465.9,263.2 467.0,264.2 468.1,265.2 469.2,266.5 470.3,268.5 471.7,263.3 473.0,259.7 474.3,253.6 475.6,248.2 477.4,254.4 479.1,251.7 480.0,257.9 481.4,253.2 482.7,248.2 484.4,259.7 486.2,262.3 488.0,243.8 489.3,248.2 490.6,254.4 491.9,260.9 493.2,266.7 494.6,262.9 495.9,259.7 498.0,257.0 499.1,259.8 500.3,263.2 502.0,266.7 503.4,265.5 504.7,263.2 506.4,258.8 508.2,265.8 509.5,264.5 510.9,263.2 512.0,264.3 513.2,266.1 514.4,267.6 516.1,272.0 517.5,271.0 518.8,269.3 520.5,261.4 521.9,257.5 523.2,255.3 524.9,249.1" fill="none" stroke="#ff6433" stroke-width="1.3" stroke-linejoin="round"/>
<polyline points="350.4,284.0 351.6,282.9 352.8,282.4 354.0,280.5 355.2,278.4 356.4,272.7 357.6,267.2 359.2,259.2 360.8,250.9 362.4,252.8 364.0,258.4 365.2,256.6 366.4,254.4 368.0,256.8 369.6,254.4 371.2,257.6 372.4,256.3 373.6,256.0 374.4,259.2 375.6,256.2 376.8,254.4 378.0,255.2 379.2,255.2 380.4,252.5 381.6,250.4 383.2,252.8 384.4,252.1 385.6,252.0 386.8,253.4 388.0,253.6 389.6,251.2 391.2,248.8 392.8,251.2 394.0,251.2 395.2,250.4 396.8,248.0 398.4,246.4 399.6,244.0 400.9,241.6 401.8,238.5 403.8,233.7 405.7,226.0 407.1,223.2 408.6,220.2 410.0,218.8 411.5,218.3 412.9,214.6 414.3,210.6 416.3,217.3 417.7,218.2 419.2,218.3 420.6,221.7 422.0,225.0 424.0,234.6 425.9,223.1 427.8,237.5 429.2,236.3 430.7,234.6 432.1,239.6 433.6,244.2 435.0,242.7 436.5,242.3 438.0,243.3 438.9,245.0 440.3,244.8 441.8,244.0 443.2,243.2 444.7,242.1 446.6,246.9 448.0,249.1 449.5,251.7 450.9,248.8 452.3,246.9 453.8,245.4 455.2,243.1 457.2,234.4 458.6,232.9 460.0,231.5 461.3,225.1 462.5,218.1 463.9,219.0 465.8,230.6 467.2,236.3 468.7,241.2 470.1,239.5 471.6,237.3 473.5,228.7 474.9,222.9 476.4,216.2 477.9,224.8 479.1,225.6 480.2,226.7 481.5,221.3 482.7,215.2 484.1,225.8 485.6,232.5 487.5,203.7 488.9,209.4 490.8,222.9 492.7,233.5 494.0,222.3 495.2,211.3 497.2,224.8 498.5,225.8 499.9,233.5 501.4,240.2 502.8,239.7 504.3,238.3 505.9,231.5 507.5,225.8 509.1,233.5 511.0,246.0 512.3,246.5 513.6,247.5 514.8,248.8 516.8,246.0 518.7,241.2 520.1,233.1 521.6,223.8 523.5,221.0 524.8,225.8 526.0,220.0" fill="none" stroke="#000" stroke-width="1.5" stroke-linejoin="round"/>
</g>
<line x1="350.50" y1="195.00" x2="525.40" y2="195.00" stroke="#262626" stroke-width="1.0" />
<line x1="350.50" y1="285.00" x2="525.40" y2="285.00" stroke="#262626" stroke-width="1.0" />
<line x1="350.50" y1="195.00" x2="350.50" y2="285.00" stroke="#262626" stroke-width="1.0" />
<line x1="525.40" y1="195.00" x2="525.40" y2="285.00" stroke="#ff6433" stroke-width="1.0" />
<line x1="350.50" y1="285.00" x2="350.50" y2="288.00" stroke="#262626" stroke-width="0.8" />
<text x="350.50" y="298.50" font-size="9.2" text-anchor="middle" fill="#262626" textLength="5.35" lengthAdjust="spacingAndGlyphs"  stroke="#262626" stroke-width="0.2">0</text>
<line x1="356.98" y1="285.00" x2="356.98" y2="286.80" stroke="#262626" stroke-width="0.8" />
<line x1="363.46" y1="285.00" x2="363.46" y2="286.80" stroke="#262626" stroke-width="0.8" />
<line x1="369.93" y1="285.00" x2="369.93" y2="286.80" stroke="#262626" stroke-width="0.8" />
<line x1="376.41" y1="285.00" x2="376.41" y2="286.80" stroke="#262626" stroke-width="0.8" />
<line x1="382.89" y1="285.00" x2="382.89" y2="288.00" stroke="#262626" stroke-width="0.8" />
<text x="382.89" y="298.50" font-size="9.2" text-anchor="middle" fill="#262626" textLength="10.7" lengthAdjust="spacingAndGlyphs"  stroke="#262626" stroke-width="0.2">50</text>
<line x1="389.37" y1="285.00" x2="389.37" y2="286.80" stroke="#262626" stroke-width="0.8" />
<line x1="395.84" y1="285.00" x2="395.84" y2="286.80" stroke="#262626" stroke-width="0.8" />
<line x1="402.32" y1="285.00" x2="402.32" y2="286.80" stroke="#262626" stroke-width="0.8" />
<line x1="408.80" y1="285.00" x2="408.80" y2="286.80" stroke="#262626" stroke-width="0.8" />
<line x1="415.28" y1="285.00" x2="415.28" y2="288.00" stroke="#262626" stroke-width="0.8" />
<text x="415.28" y="298.50" font-size="9.2" text-anchor="middle" fill="#262626" textLength="16.049999999999997" lengthAdjust="spacingAndGlyphs"  stroke="#262626" stroke-width="0.2">100</text>
<line x1="421.76" y1="285.00" x2="421.76" y2="286.80" stroke="#262626" stroke-width="0.8" />
<line x1="428.23" y1="285.00" x2="428.23" y2="286.80" stroke="#262626" stroke-width="0.8" />
<line x1="434.71" y1="285.00" x2="434.71" y2="286.80" stroke="#262626" stroke-width="0.8" />
<line x1="441.19" y1="285.00" x2="441.19" y2="286.80" stroke="#262626" stroke-width="0.8" />
<line x1="447.67" y1="285.00" x2="447.67" y2="288.00" stroke="#262626" stroke-width="0.8" />
<text x="447.67" y="298.50" font-size="9.2" text-anchor="middle" fill="#262626" textLength="16.049999999999997" lengthAdjust="spacingAndGlyphs"  stroke="#262626" stroke-width="0.2">150</text>
<line x1="454.14" y1="285.00" x2="454.14" y2="286.80" stroke="#262626" stroke-width="0.8" />
<line x1="460.62" y1="285.00" x2="460.62" y2="286.80" stroke="#262626" stroke-width="0.8" />
<line x1="467.10" y1="285.00" x2="467.10" y2="286.80" stroke="#262626" stroke-width="0.8" />
<line x1="473.58" y1="285.00" x2="473.58" y2="286.80" stroke="#262626" stroke-width="0.8" />
<line x1="480.06" y1="285.00" x2="480.06" y2="288.00" stroke="#262626" stroke-width="0.8" />
<text x="480.06" y="298.50" font-size="9.2" text-anchor="middle" fill="#262626" textLength="16.049999999999997" lengthAdjust="spacingAndGlyphs"  stroke="#262626" stroke-width="0.2">200</text>
<line x1="486.53" y1="285.00" x2="486.53" y2="286.80" stroke="#262626" stroke-width="0.8" />
<line x1="493.01" y1="285.00" x2="493.01" y2="286.80" stroke="#262626" stroke-width="0.8" />
<line x1="499.49" y1="285.00" x2="499.49" y2="286.80" stroke="#262626" stroke-width="0.8" />
<line x1="505.97" y1="285.00" x2="505.97" y2="286.80" stroke="#262626" stroke-width="0.8" />
<line x1="512.44" y1="285.00" x2="512.44" y2="288.00" stroke="#262626" stroke-width="0.8" />
<text x="512.44" y="298.50" font-size="9.2" text-anchor="middle" fill="#262626" textLength="16.049999999999997" lengthAdjust="spacingAndGlyphs"  stroke="#262626" stroke-width="0.2">250</text>
<line x1="518.92" y1="285.00" x2="518.92" y2="286.80" stroke="#262626" stroke-width="0.8" />
<line x1="525.40" y1="285.00" x2="525.40" y2="286.80" stroke="#262626" stroke-width="0.8" />
<text x="437.95" y="310.60" font-size="8.6" text-anchor="middle" fill="#262626" textLength="29.8" lengthAdjust="spacingAndGlyphs"  stroke="#262626" stroke-width="0.2">t (min)</text>
<line x1="347.50" y1="285.00" x2="350.50" y2="285.00" stroke="#262626" stroke-width="0.8" />
<text x="344.20" y="288.50" font-size="9.2" text-anchor="end" fill="#262626" textLength="5.2" lengthAdjust="spacingAndGlyphs"  stroke="#262626" stroke-width="0.2">0</text>
<line x1="348.70" y1="279.86" x2="350.50" y2="279.86" stroke="#262626" stroke-width="0.8" />
<line x1="348.70" y1="274.71" x2="350.50" y2="274.71" stroke="#262626" stroke-width="0.8" />
<line x1="348.70" y1="269.57" x2="350.50" y2="269.57" stroke="#262626" stroke-width="0.8" />
<line x1="348.70" y1="264.43" x2="350.50" y2="264.43" stroke="#262626" stroke-width="0.8" />
<line x1="347.50" y1="259.29" x2="350.50" y2="259.29" stroke="#262626" stroke-width="0.8" />
<text x="344.20" y="262.79" font-size="9.2" text-anchor="end" fill="#262626" textLength="5.2" lengthAdjust="spacingAndGlyphs"  stroke="#262626" stroke-width="0.2">1</text>
<line x1="348.70" y1="254.14" x2="350.50" y2="254.14" stroke="#262626" stroke-width="0.8" />
<line x1="348.70" y1="249.00" x2="350.50" y2="249.00" stroke="#262626" stroke-width="0.8" />
<line x1="348.70" y1="243.86" x2="350.50" y2="243.86" stroke="#262626" stroke-width="0.8" />
<line x1="348.70" y1="238.71" x2="350.50" y2="238.71" stroke="#262626" stroke-width="0.8" />
<line x1="347.50" y1="233.57" x2="350.50" y2="233.57" stroke="#262626" stroke-width="0.8" />
<text x="344.20" y="237.07" font-size="9.2" text-anchor="end" fill="#262626" textLength="5.2" lengthAdjust="spacingAndGlyphs"  stroke="#262626" stroke-width="0.2">2</text>
<line x1="348.70" y1="228.43" x2="350.50" y2="228.43" stroke="#262626" stroke-width="0.8" />
<line x1="348.70" y1="223.29" x2="350.50" y2="223.29" stroke="#262626" stroke-width="0.8" />
<line x1="348.70" y1="218.14" x2="350.50" y2="218.14" stroke="#262626" stroke-width="0.8" />
<line x1="348.70" y1="213.00" x2="350.50" y2="213.00" stroke="#262626" stroke-width="0.8" />
<line x1="347.50" y1="207.86" x2="350.50" y2="207.86" stroke="#262626" stroke-width="0.8" />
<text x="344.20" y="211.36" font-size="9.2" text-anchor="end" fill="#262626" textLength="5.2" lengthAdjust="spacingAndGlyphs"  stroke="#262626" stroke-width="0.2">3</text>
<line x1="348.70" y1="202.71" x2="350.50" y2="202.71" stroke="#262626" stroke-width="0.8" />
<line x1="348.70" y1="197.57" x2="350.50" y2="197.57" stroke="#262626" stroke-width="0.8" />
<line x1="525.40" y1="285.00" x2="528.40" y2="285.00" stroke="#ff6433" stroke-width="0.8" />
<text x="531.70" y="288.50" font-size="9.2" text-anchor="start" fill="#ff6433" textLength="5.2" lengthAdjust="spacingAndGlyphs"  stroke="#ff6433" stroke-width="0.2">0</text>
<line x1="525.40" y1="279.00" x2="527.20" y2="279.00" stroke="#ff6433" stroke-width="0.8" />
<line x1="525.40" y1="273.00" x2="527.20" y2="273.00" stroke="#ff6433" stroke-width="0.8" />
<line x1="525.40" y1="267.00" x2="527.20" y2="267.00" stroke="#ff6433" stroke-width="0.8" />
<line x1="525.40" y1="261.00" x2="527.20" y2="261.00" stroke="#ff6433" stroke-width="0.8" />
<line x1="525.40" y1="255.00" x2="528.40" y2="255.00" stroke="#ff6433" stroke-width="0.8" />
<text x="531.70" y="258.50" font-size="9.2" text-anchor="start" fill="#ff6433" textLength="5.2" lengthAdjust="spacingAndGlyphs"  stroke="#ff6433" stroke-width="0.2">1</text>
<line x1="525.40" y1="249.00" x2="527.20" y2="249.00" stroke="#ff6433" stroke-width="0.8" />
<line x1="525.40" y1="243.00" x2="527.20" y2="243.00" stroke="#ff6433" stroke-width="0.8" />
<line x1="525.40" y1="237.00" x2="527.20" y2="237.00" stroke="#ff6433" stroke-width="0.8" />
<line x1="525.40" y1="231.00" x2="527.20" y2="231.00" stroke="#ff6433" stroke-width="0.8" />
<line x1="525.40" y1="225.00" x2="528.40" y2="225.00" stroke="#ff6433" stroke-width="0.8" />
<text x="531.70" y="228.50" font-size="9.2" text-anchor="start" fill="#ff6433" textLength="5.2" lengthAdjust="spacingAndGlyphs"  stroke="#ff6433" stroke-width="0.2">2</text>
<line x1="525.40" y1="219.00" x2="527.20" y2="219.00" stroke="#ff6433" stroke-width="0.8" />
<line x1="525.40" y1="213.00" x2="527.20" y2="213.00" stroke="#ff6433" stroke-width="0.8" />
<line x1="525.40" y1="207.00" x2="527.20" y2="207.00" stroke="#ff6433" stroke-width="0.8" />
<line x1="525.40" y1="201.00" x2="527.20" y2="201.00" stroke="#ff6433" stroke-width="0.8" />
<line x1="525.40" y1="195.00" x2="528.40" y2="195.00" stroke="#ff6433" stroke-width="0.8" />
<text x="531.70" y="198.50" font-size="9.2" text-anchor="start" fill="#ff6433" textLength="5.2" lengthAdjust="spacingAndGlyphs"  stroke="#ff6433" stroke-width="0.2">3</text>
<text x="350.50" y="193.50" font-size="8.4" text-anchor="start" fill="#262626" textLength="11.2" lengthAdjust="spacingAndGlyphs"  stroke="#262626" stroke-width="0.2">(d)</text>
<text x="437.95" y="193.10" font-size="8.4" text-anchor="middle" fill="#1f77b4" textLength="45.6" lengthAdjust="spacingAndGlyphs"  stroke="#1f77b4" stroke-width="0.2">z=2.0 Mm</text>
<text x="357.00" y="205.40" font-size="8.6" text-anchor="start" fill="#ff2a3a" textLength="36.2" lengthAdjust="spacingAndGlyphs"  stroke="#ff2a3a" stroke-width="0.2">r = 0.87</text>
<text transform="translate(332.5,239.8) rotate(-90)" font-size="8.6" text-anchor="middle" fill="#262626" textLength="74" lengthAdjust="spacingAndGlyphs" stroke="#262626" stroke-width="0.2">(10<tspan font-size="5.9" dy="-3">12</tspan><tspan dy="3"> erg g</tspan><tspan font-size="5.9" dy="-3">−1</tspan><tspan dy="3"> s</tspan><tspan font-size="5.9" dy="-3">−1</tspan><tspan dy="3">)</tspan></text>
<text transform="translate(547.8,240.6) rotate(-90)" font-size="8.6" text-anchor="middle" fill="#ff6433" textLength="74" lengthAdjust="spacingAndGlyphs" stroke="#ff6433" stroke-width="0.2">(10<tspan font-size="5.9" dy="-3">11</tspan><tspan dy="3"> erg g</tspan><tspan font-size="5.9" dy="-3">−1</tspan><tspan dy="3"> s</tspan><tspan font-size="5.9" dy="-3">−1</tspan><tspan dy="3">)</tspan></text>
<line x1="353.80" y1="42.10" x2="372.90" y2="42.10" stroke="#000" stroke-width="1.6" />
<line x1="445.30" y1="42.10" x2="464.30" y2="42.10" stroke="#ff6433" stroke-width="1.6" />
<text x="380.8" y="44.6" font-size="8.6" fill="#000" textLength="48.7" lengthAdjust="spacingAndGlyphs" font-style="italic" stroke="#000" stroke-width="0.2">&lt;Q<tspan font-size="5.5" dy="2">J</tspan><tspan dy="-2">/ρ &gt;</tspan><tspan font-size="6.3" dy="-4.3"> CBP</tspan></text>
<text x="472.2" y="44.6" font-size="8.6" fill="#ff6433" textLength="51" lengthAdjust="spacingAndGlyphs" font-style="italic" stroke="#ff6433" stroke-width="0.2">&lt;Q<tspan font-size="5.5" dy="2">V</tspan><tspan dy="-2">/ρ &gt;</tspan><tspan font-size="6.3" dy="-4.3"> CBP</tspan></text>
<clipPath id="clipE"><rect x="606.2" y="66.4" width="151.1" height="218.4"/></clipPath>
<g clip-path="url(#clipE)">
<polyline points="606.20,76.36 606.95,78.99 607.70,81.59 608.46,84.15 609.21,86.67 609.96,89.16 610.71,91.62 611.46,94.04 612.22,96.43 612.97,98.78 613.72,101.11 614.47,103.40 615.22,105.66 615.98,107.89 616.73,110.09 617.48,112.26 618.23,114.40 618.98,116.51 619.74,118.59 620.49,120.64 621.24,122.67 621.99,124.67 622.74,126.64 623.50,128.58 624.25,130.49 625.00,132.38 625.75,134.25 626.50,136.09 627.26,137.90 628.01,139.69 628.76,141.45 629.51,143.19 630.26,144.91 631.02,146.60 631.77,148.27 632.52,149.91 633.27,151.54 634.02,153.14 634.78,154.72 635.53,156.28 636.28,157.81 637.03,159.33 637.78,160.82 638.54,162.30 639.29,163.75 640.04,165.19 640.79,166.60 641.54,168.00 642.30,169.37 643.05,170.73 643.80,172.07 644.55,173.39 645.30,174.69 646.06,175.97 646.81,177.24 647.56,178.49 648.31,179.72 649.06,180.94 649.82,182.14 650.57,183.32 651.32,184.49 652.07,185.64 652.82,186.77 653.58,187.89 654.33,188.99 655.08,190.08 655.83,191.15 656.58,192.21 657.34,193.26 658.09,194.29 658.84,195.30 659.59,196.31 660.34,197.29 661.10,198.27 661.85,199.23 662.60,200.18 663.35,201.11 664.10,202.04 664.86,202.95 665.61,203.84 666.36,204.73 667.11,205.60 667.86,206.46 668.62,207.31 669.37,208.15 670.12,208.97 670.87,209.79 671.62,210.59 672.38,211.38 673.13,212.17 673.88,212.94 674.63,213.70 675.38,214.45 676.14,215.19 676.89,215.92 677.64,216.64 678.39,217.35 679.14,218.05 679.90,218.74 680.65,219.42 681.40,220.09 682.15,220.75 682.90,221.41 683.66,222.05 684.41,222.69 685.16,223.31 685.91,223.93 686.66,224.54 687.42,225.14 688.17,225.73 688.92,226.32 689.67,226.90 690.42,227.47 691.18,228.03 691.93,228.58 692.68,229.13 693.43,229.67 694.18,230.20 694.94,230.72 695.69,231.24 696.44,231.75 697.19,232.25 697.94,232.75 698.70,233.24 699.45,233.72 700.20,234.19 700.95,234.66 701.70,235.13 702.46,235.58 703.21,236.03 703.96,236.48 704.71,236.91 705.46,237.35 706.22,237.77 706.97,238.19 707.72,238.61 708.47,239.02 709.22,239.42 709.98,239.82 710.73,240.21 711.48,240.60 712.23,240.98 712.98,241.35 713.74,241.72 714.49,242.09 715.24,242.45 715.99,242.81 716.74,243.16 717.50,243.51 718.25,243.85 719.00,244.18 719.75,244.52 720.50,244.84 721.26,245.17 722.01,245.49 722.76,245.80 723.51,246.11 724.26,246.42 725.02,246.72 725.77,247.02 726.52,247.31 727.27,247.60 728.02,247.89 728.78,248.17 729.53,248.44 730.28,248.72 731.03,248.99 731.78,249.26 732.54,249.52 733.29,249.78 734.04,250.03 734.79,250.29 735.54,250.53 736.30,250.78 737.05,251.02 737.80,251.26 738.55,251.50 739.30,251.73 740.06,251.96 740.81,252.18 741.56,252.41 742.31,252.63 743.06,252.84 743.82,253.06 744.57,253.27 745.32,253.48 746.07,253.68 746.82,253.88 747.58,254.08 748.33,254.28 749.08,254.47 749.83,254.66 750.58,254.85 751.34,255.04 752.09,255.22 752.84,255.40 753.59,255.58 754.34,255.76 755.10,255.93 755.85,256.10 756.60,256.27" fill="none" stroke="#0000cc" stroke-width="1.5"/>
<polyline points="606.20,207.40 610.30,216.76 613.72,224.04 617.86,231.01 621.62,236.00 625.56,240.06 629.51,243.59 633.27,245.98 637.03,246.92 651.32,250.25 676.89,256.28 699.82,260.44 726.52,264.08 756.60,267.72" fill="none" stroke="#ee0000" stroke-width="1.5" stroke-linejoin="round"/>
</g>
<rect x="606.2" y="66.4" width="151.0999999999999" height="218.4" fill="none" stroke="#262626" stroke-width="1"/>
<line x1="606.20" y1="284.80" x2="606.20" y2="287.80" stroke="#262626" stroke-width="0.8" />
<text x="606.20" y="298.20" font-size="9.2" text-anchor="middle" fill="#262626" textLength="5.3" lengthAdjust="spacingAndGlyphs"  stroke="#262626" stroke-width="0.2">1</text>
<line x1="613.72" y1="284.80" x2="613.72" y2="286.60" stroke="#262626" stroke-width="0.8" />
<line x1="621.24" y1="284.80" x2="621.24" y2="286.60" stroke="#262626" stroke-width="0.8" />
<line x1="628.76" y1="284.80" x2="628.76" y2="286.60" stroke="#262626" stroke-width="0.8" />
<line x1="636.28" y1="284.80" x2="636.28" y2="286.60" stroke="#262626" stroke-width="0.8" />
<line x1="643.80" y1="284.80" x2="643.80" y2="287.80" stroke="#262626" stroke-width="0.8" />
<text x="643.80" y="298.20" font-size="9.2" text-anchor="middle" fill="#262626" textLength="5.3" lengthAdjust="spacingAndGlyphs"  stroke="#262626" stroke-width="0.2">2</text>
<line x1="651.32" y1="284.80" x2="651.32" y2="286.60" stroke="#262626" stroke-width="0.8" />
<line x1="658.84" y1="284.80" x2="658.84" y2="286.60" stroke="#262626" stroke-width="0.8" />
<line x1="666.36" y1="284.80" x2="666.36" y2="286.60" stroke="#262626" stroke-width="0.8" />
<line x1="673.88" y1="284.80" x2="673.88" y2="286.60" stroke="#262626" stroke-width="0.8" />
<line x1="681.40" y1="284.80" x2="681.40" y2="287.80" stroke="#262626" stroke-width="0.8" />
<text x="681.40" y="298.20" font-size="9.2" text-anchor="middle" fill="#262626" textLength="5.3" lengthAdjust="spacingAndGlyphs"  stroke="#262626" stroke-width="0.2">3</text>
<line x1="688.92" y1="284.80" x2="688.92" y2="286.60" stroke="#262626" stroke-width="0.8" />
<line x1="696.44" y1="284.80" x2="696.44" y2="286.60" stroke="#262626" stroke-width="0.8" />
<line x1="703.96" y1="284.80" x2="703.96" y2="286.60" stroke="#262626" stroke-width="0.8" />
<line x1="711.48" y1="284.80" x2="711.48" y2="286.60" stroke="#262626" stroke-width="0.8" />
<line x1="719.00" y1="284.80" x2="719.00" y2="287.80" stroke="#262626" stroke-width="0.8" />
<text x="719.00" y="298.20" font-size="9.2" text-anchor="middle" fill="#262626" textLength="5.3" lengthAdjust="spacingAndGlyphs"  stroke="#262626" stroke-width="0.2">4</text>
<line x1="726.52" y1="284.80" x2="726.52" y2="286.60" stroke="#262626" stroke-width="0.8" />
<line x1="734.04" y1="284.80" x2="734.04" y2="286.60" stroke="#262626" stroke-width="0.8" />
<line x1="741.56" y1="284.80" x2="741.56" y2="286.60" stroke="#262626" stroke-width="0.8" />
<line x1="749.08" y1="284.80" x2="749.08" y2="286.60" stroke="#262626" stroke-width="0.8" />
<line x1="756.60" y1="284.80" x2="756.60" y2="287.80" stroke="#262626" stroke-width="0.8" />
<text x="756.60" y="298.20" font-size="9.2" text-anchor="middle" fill="#262626" textLength="5.3" lengthAdjust="spacingAndGlyphs"  stroke="#262626" stroke-width="0.2">5</text>
<line x1="604.40" y1="275.00" x2="606.20" y2="275.00" stroke="#262626" stroke-width="0.8" />
<line x1="604.40" y1="264.60" x2="606.20" y2="264.60" stroke="#262626" stroke-width="0.8" />
<line x1="603.20" y1="254.20" x2="606.20" y2="254.20" stroke="#262626" stroke-width="0.8" />
<text x="600.70" y="257.70" font-size="9.2" text-anchor="end" fill="#262626" textLength="14.5" lengthAdjust="spacingAndGlyphs"  stroke="#262626" stroke-width="0.2">0.5</text>
<line x1="604.40" y1="243.80" x2="606.20" y2="243.80" stroke="#262626" stroke-width="0.8" />
<line x1="604.40" y1="233.40" x2="606.20" y2="233.40" stroke="#262626" stroke-width="0.8" />
<line x1="604.40" y1="223.00" x2="606.20" y2="223.00" stroke="#262626" stroke-width="0.8" />
<line x1="604.40" y1="212.60" x2="606.20" y2="212.60" stroke="#262626" stroke-width="0.8" />
<line x1="603.20" y1="202.20" x2="606.20" y2="202.20" stroke="#262626" stroke-width="0.8" />
<text x="600.70" y="205.70" font-size="9.2" text-anchor="end" fill="#262626" textLength="14.5" lengthAdjust="spacingAndGlyphs"  stroke="#262626" stroke-width="0.2">1.0</text>
<line x1="604.40" y1="191.80" x2="606.20" y2="191.80" stroke="#262626" stroke-width="0.8" />
<line x1="604.40" y1="181.40" x2="606.20" y2="181.40" stroke="#262626" stroke-width="0.8" />
<line x1="604.40" y1="171.00" x2="606.20" y2="171.00" stroke="#262626" stroke-width="0.8" />
<line x1="604.40" y1="160.60" x2="606.20" y2="160.60" stroke="#262626" stroke-width="0.8" />
<line x1="603.20" y1="150.20" x2="606.20" y2="150.20" stroke="#262626" stroke-width="0.8" />
<text x="600.70" y="153.70" font-size="9.2" text-anchor="end" fill="#262626" textLength="14.5" lengthAdjust="spacingAndGlyphs"  stroke="#262626" stroke-width="0.2">1.5</text>
<line x1="604.40" y1="139.80" x2="606.20" y2="139.80" stroke="#262626" stroke-width="0.8" />
<line x1="604.40" y1="129.40" x2="606.20" y2="129.40" stroke="#262626" stroke-width="0.8" />
<line x1="604.40" y1="119.00" x2="606.20" y2="119.00" stroke="#262626" stroke-width="0.8" />
<line x1="604.40" y1="108.60" x2="606.20" y2="108.60" stroke="#262626" stroke-width="0.8" />
<line x1="603.20" y1="98.20" x2="606.20" y2="98.20" stroke="#262626" stroke-width="0.8" />
<text x="600.70" y="101.70" font-size="9.2" text-anchor="end" fill="#262626" textLength="14.5" lengthAdjust="spacingAndGlyphs"  stroke="#262626" stroke-width="0.2">2.0</text>
<line x1="604.40" y1="87.80" x2="606.20" y2="87.80" stroke="#262626" stroke-width="0.8" />
<line x1="604.40" y1="77.40" x2="606.20" y2="77.40" stroke="#262626" stroke-width="0.8" />
<line x1="604.40" y1="67.00" x2="606.20" y2="67.00" stroke="#262626" stroke-width="0.8" />
<text x="681.50" y="310.00" font-size="8.6" text-anchor="middle" fill="#262626" textLength="30" lengthAdjust="spacingAndGlyphs"  stroke="#262626" stroke-width="0.2">z (Mm)</text>
<text x="606.50" y="65.10" font-size="8.4" text-anchor="start" fill="#262626" textLength="11.8" lengthAdjust="spacingAndGlyphs"  stroke="#262626" stroke-width="0.2">(e)</text>
<text x="681.90" y="63.60" font-size="8.6" text-anchor="middle" fill="#262626" textLength="58.2" lengthAdjust="spacingAndGlyphs"  stroke="#262626" stroke-width="0.2">Poynting flux</text>
<rect x="647.7" y="70.8" width="105.1" height="28.4" rx="1.5" fill="#fff" fill-opacity="0.8" stroke="#d0d0d0" stroke-width="0.8"/>
<line x1="650.40" y1="78.10" x2="669.20" y2="78.10" stroke="#0000cc" stroke-width="1.6" />
<line x1="650.40" y1="91.00" x2="669.20" y2="91.00" stroke="#ee0000" stroke-width="1.6" />
<text x="676.50" y="80.90" font-size="8.8" text-anchor="start" fill="#262626" textLength="65.2" lengthAdjust="spacingAndGlyphs"  stroke="#262626" stroke-width="0.2">Inside the CBP</text>
<text x="676.50" y="94.30" font-size="8.8" text-anchor="start" fill="#262626" textLength="72.6" lengthAdjust="spacingAndGlyphs"  stroke="#262626" stroke-width="0.2">Outside the CBP</text>
<text transform="translate(578.6,173.8) rotate(-90)" font-size="8.6" text-anchor="middle" fill="#262626" textLength="118" lengthAdjust="spacingAndGlyphs" stroke="#262626" stroke-width="0.2">&lt; <tspan font-style="italic">S</tspan><tspan font-style="italic" font-size="6" dy="1.5">z</tspan><tspan dy="-1.5"> &gt;  (10</tspan><tspan font-size="6" dy="-3">6</tspan><tspan dy="3"> erg cm</tspan><tspan font-size="6" dy="-3">−2</tspan><tspan dy="3"> s</tspan><tspan font-size="6" dy="-3">−1</tspan><tspan dy="3">)</tspan></text>
<rect x="570.1" y="202.6" width="1.4" height="31.8" fill="#a8a8a8"/>
<g clip-path="url(#dm0_0)"><g filter="url(#fA0)"><use href="#lv0"/></g></g>
<line x1="7.00" y1="101.00" x2="77.00" y2="66.40" stroke="#111" stroke-width="0.9" />
<line x1="7.00" y1="101.00" x2="77.00" y2="135.60" stroke="#111" stroke-width="0.9" />
<line x1="7.00" y1="101.00" x2="5.00" y2="100.60" stroke="#111" stroke-width="0.8" />
<line x1="7.00" y1="101.00" x2="5.00" y2="101.40" stroke="#111" stroke-width="0.8" />
<line x1="28.21" y1="90.52" x2="26.21" y2="90.12" stroke="#111" stroke-width="0.8" />
<line x1="28.21" y1="111.48" x2="26.21" y2="111.88" stroke="#111" stroke-width="0.8" />
<line x1="49.42" y1="80.03" x2="47.42" y2="79.63" stroke="#111" stroke-width="0.8" />
<line x1="49.42" y1="121.97" x2="47.42" y2="122.37" stroke="#111" stroke-width="0.8" />
<line x1="70.64" y1="69.55" x2="68.64" y2="69.15" stroke="#111" stroke-width="0.8" />
<line x1="70.64" y1="132.45" x2="68.64" y2="132.85" stroke="#111" stroke-width="0.8" />
<g clip-path="url(#dm0_152)"><g filter="url(#fB0)"><use href="#lv0" transform="translate(152,0)"/></g></g>
<line x1="159.00" y1="101.00" x2="229.00" y2="66.40" stroke="#111" stroke-width="0.9" />
<line x1="159.00" y1="101.00" x2="229.00" y2="135.60" stroke="#111" stroke-width="0.9" />
<line x1="159.00" y1="101.00" x2="157.00" y2="100.60" stroke="#111" stroke-width="0.8" />
<line x1="159.00" y1="101.00" x2="157.00" y2="101.40" stroke="#111" stroke-width="0.8" />
<line x1="180.21" y1="90.52" x2="178.21" y2="90.12" stroke="#111" stroke-width="0.8" />
<line x1="180.21" y1="111.48" x2="178.21" y2="111.88" stroke="#111" stroke-width="0.8" />
<line x1="201.42" y1="80.03" x2="199.42" y2="79.63" stroke="#111" stroke-width="0.8" />
<line x1="201.42" y1="121.97" x2="199.42" y2="122.37" stroke="#111" stroke-width="0.8" />
<line x1="222.64" y1="69.55" x2="220.64" y2="69.15" stroke="#111" stroke-width="0.8" />
<line x1="222.64" y1="132.45" x2="220.64" y2="132.85" stroke="#111" stroke-width="0.8" />
<g clip-path="url(#dm1_0)"><g filter="url(#fA1)"><use href="#lv1"/></g></g>
<line x1="7.00" y1="175.80" x2="77.00" y2="141.20" stroke="#111" stroke-width="0.9" />
<line x1="7.00" y1="175.80" x2="77.00" y2="210.40" stroke="#111" stroke-width="0.9" />
<line x1="7.00" y1="175.80" x2="5.00" y2="175.40" stroke="#111" stroke-width="0.8" />
<line x1="7.00" y1="175.80" x2="5.00" y2="176.20" stroke="#111" stroke-width="0.8" />
<line x1="28.21" y1="165.32" x2="26.21" y2="164.92" stroke="#111" stroke-width="0.8" />
<line x1="28.21" y1="186.28" x2="26.21" y2="186.68" stroke="#111" stroke-width="0.8" />
<line x1="49.42" y1="154.83" x2="47.42" y2="154.43" stroke="#111" stroke-width="0.8" />
<line x1="49.42" y1="196.77" x2="47.42" y2="197.17" stroke="#111" stroke-width="0.8" />
<line x1="70.64" y1="144.35" x2="68.64" y2="143.95" stroke="#111" stroke-width="0.8" />
<line x1="70.64" y1="207.25" x2="68.64" y2="207.65" stroke="#111" stroke-width="0.8" />
<g clip-path="url(#dm1_152)"><g filter="url(#fB1)"><use href="#lv1" transform="translate(152,0)"/></g></g>
<line x1="159.00" y1="175.80" x2="229.00" y2="141.20" stroke="#111" stroke-width="0.9" />
<line x1="159.00" y1="175.80" x2="229.00" y2="210.40" stroke="#111" stroke-width="0.9" />
<line x1="159.00" y1="175.80" x2="157.00" y2="175.40" stroke="#111" stroke-width="0.8" />
<line x1="159.00" y1="175.80" x2="157.00" y2="176.20" stroke="#111" stroke-width="0.8" />
<line x1="180.21" y1="165.32" x2="178.21" y2="164.92" stroke="#111" stroke-width="0.8" />
<line x1="180.21" y1="186.28" x2="178.21" y2="186.68" stroke="#111" stroke-width="0.8" />
<line x1="201.42" y1="154.83" x2="199.42" y2="154.43" stroke="#111" stroke-width="0.8" />
<line x1="201.42" y1="196.77" x2="199.42" y2="197.17" stroke="#111" stroke-width="0.8" />
<line x1="222.64" y1="144.35" x2="220.64" y2="143.95" stroke="#111" stroke-width="0.8" />
<line x1="222.64" y1="207.25" x2="220.64" y2="207.65" stroke="#111" stroke-width="0.8" />
<g clip-path="url(#dm2_0)"><g filter="url(#fA2)"><use href="#lv2"/></g></g>
<line x1="7.00" y1="249.60" x2="77.00" y2="215.00" stroke="#111" stroke-width="0.9" />
<line x1="7.00" y1="249.60" x2="77.00" y2="284.20" stroke="#111" stroke-width="0.9" />
<line x1="7.00" y1="249.60" x2="5.00" y2="249.20" stroke="#111" stroke-width="0.8" />
<line x1="7.00" y1="249.60" x2="5.00" y2="250.00" stroke="#111" stroke-width="0.8" />
<line x1="28.21" y1="239.12" x2="26.21" y2="238.72" stroke="#111" stroke-width="0.8" />
<line x1="28.21" y1="260.08" x2="26.21" y2="260.48" stroke="#111" stroke-width="0.8" />
<line x1="49.42" y1="228.63" x2="47.42" y2="228.23" stroke="#111" stroke-width="0.8" />
<line x1="49.42" y1="270.57" x2="47.42" y2="270.97" stroke="#111" stroke-width="0.8" />
<line x1="70.64" y1="218.15" x2="68.64" y2="217.75" stroke="#111" stroke-width="0.8" />
<line x1="70.64" y1="281.05" x2="68.64" y2="281.45" stroke="#111" stroke-width="0.8" />
<g clip-path="url(#dm2_152)"><g filter="url(#fB2)"><use href="#lv2" transform="translate(152,0)"/></g></g>
<line x1="159.00" y1="249.60" x2="229.00" y2="215.00" stroke="#111" stroke-width="0.9" />
<line x1="159.00" y1="249.60" x2="229.00" y2="284.20" stroke="#111" stroke-width="0.9" />
<line x1="159.00" y1="249.60" x2="157.00" y2="249.20" stroke="#111" stroke-width="0.8" />
<line x1="159.00" y1="249.60" x2="157.00" y2="250.00" stroke="#111" stroke-width="0.8" />
<line x1="180.21" y1="239.12" x2="178.21" y2="238.72" stroke="#111" stroke-width="0.8" />
<line x1="180.21" y1="260.08" x2="178.21" y2="260.48" stroke="#111" stroke-width="0.8" />
<line x1="201.42" y1="228.63" x2="199.42" y2="228.23" stroke="#111" stroke-width="0.8" />
<line x1="201.42" y1="270.57" x2="199.42" y2="270.97" stroke="#111" stroke-width="0.8" />
<line x1="222.64" y1="218.15" x2="220.64" y2="217.75" stroke="#111" stroke-width="0.8" />
<line x1="222.64" y1="281.05" x2="220.64" y2="281.45" stroke="#111" stroke-width="0.8" />
<text x="106.40" y="76.20" font-size="8.7" text-anchor="start" fill="#1f77b4" textLength="41.0" lengthAdjust="spacingAndGlyphs"  stroke="#1f77b4" stroke-width="0.2">z=8.0 Mm</text>
<text x="106.40" y="151.00" font-size="8.7" text-anchor="start" fill="#1f77b4" textLength="41.0" lengthAdjust="spacingAndGlyphs"  stroke="#1f77b4" stroke-width="0.2">z=5.0 Mm</text>
<text x="106.40" y="224.80" font-size="8.7" text-anchor="start" fill="#1f77b4" textLength="41.0" lengthAdjust="spacingAndGlyphs"  stroke="#1f77b4" stroke-width="0.2">z=2.0 Mm</text>
<text transform="translate(4.2,93.1) rotate(58)" x="0" y="3.3" font-size="9.2" text-anchor="middle" fill="#262626" textLength="5.4" lengthAdjust="spacingAndGlyphs" stroke="#262626" stroke-width="0.2">0</text>
<text transform="translate(25.6,79.2) rotate(58)" x="0" y="3.3" font-size="9.2" text-anchor="middle" fill="#262626" textLength="10.8" lengthAdjust="spacingAndGlyphs" stroke="#262626" stroke-width="0.2">10</text>
<text transform="translate(46.7,68.7) rotate(58)" x="0" y="3.3" font-size="9.2" text-anchor="middle" fill="#262626" textLength="10.8" lengthAdjust="spacingAndGlyphs" stroke="#262626" stroke-width="0.2">20</text>
<text transform="translate(67.3,57.5) rotate(58)" x="0" y="3.3" font-size="9.2" text-anchor="middle" fill="#262626" textLength="10.8" lengthAdjust="spacingAndGlyphs" stroke="#262626" stroke-width="0.2">30</text>
<text transform="translate(30.8,60.4) rotate(-32)" x="0" y="3.1" font-size="8.6" text-anchor="middle" fill="#262626" textLength="34" lengthAdjust="spacingAndGlyphs" stroke="#262626" stroke-width="0.2">y (Mm)</text>
<text transform="translate(3.5,259.4) rotate(20)" x="0" y="3.3" font-size="9.2" text-anchor="middle" fill="#262626" textLength="5.4" lengthAdjust="spacingAndGlyphs" stroke="#262626" stroke-width="0.2">0</text>
<text transform="translate(25.0,270.0) rotate(20)" x="0" y="3.3" font-size="9.2" text-anchor="middle" fill="#262626" textLength="10.8" lengthAdjust="spacingAndGlyphs" stroke="#262626" stroke-width="0.2">10</text>
<text transform="translate(46.2,280.6) rotate(20)" x="0" y="3.3" font-size="9.2" text-anchor="middle" fill="#262626" textLength="10.8" lengthAdjust="spacingAndGlyphs" stroke="#262626" stroke-width="0.2">20</text>
<text transform="translate(68.3,291.2) rotate(20)" x="0" y="3.3" font-size="9.2" text-anchor="middle" fill="#262626" textLength="10.8" lengthAdjust="spacingAndGlyphs" stroke="#262626" stroke-width="0.2">30</text>
<text transform="translate(32.7,287.7) rotate(28)" x="0" y="3.1" font-size="8.6" text-anchor="middle" fill="#262626" textLength="34" lengthAdjust="spacingAndGlyphs" stroke="#262626" stroke-width="0.2">x (Mm)</text>
<text x="258.40" y="76.20" font-size="8.7" text-anchor="start" fill="#1f77b4" textLength="41.0" lengthAdjust="spacingAndGlyphs"  stroke="#1f77b4" stroke-width="0.2">z=8.0 Mm</text>
<text x="258.40" y="151.00" font-size="8.7" text-anchor="start" fill="#1f77b4" textLength="41.0" lengthAdjust="spacingAndGlyphs"  stroke="#1f77b4" stroke-width="0.2">z=5.0 Mm</text>
<text x="258.40" y="224.80" font-size="8.7" text-anchor="start" fill="#1f77b4" textLength="41.0" lengthAdjust="spacingAndGlyphs"  stroke="#1f77b4" stroke-width="0.2">z=2.0 Mm</text>
<text transform="translate(156.2,93.1) rotate(58)" x="0" y="3.3" font-size="9.2" text-anchor="middle" fill="#262626" textLength="5.4" lengthAdjust="spacingAndGlyphs" stroke="#262626" stroke-width="0.2">0</text>
<text transform="translate(177.6,79.2) rotate(58)" x="0" y="3.3" font-size="9.2" text-anchor="middle" fill="#262626" textLength="10.8" lengthAdjust="spacingAndGlyphs" stroke="#262626" stroke-width="0.2">10</text>
<text transform="translate(198.7,68.7) rotate(58)" x="0" y="3.3" font-size="9.2" text-anchor="middle" fill="#262626" textLength="10.8" lengthAdjust="spacingAndGlyphs" stroke="#262626" stroke-width="0.2">20</text>
<text transform="translate(219.3,57.5) rotate(58)" x="0" y="3.3" font-size="9.2" text-anchor="middle" fill="#262626" textLength="10.8" lengthAdjust="spacingAndGlyphs" stroke="#262626" stroke-width="0.2">30</text>
<text transform="translate(182.8,60.4) rotate(-32)" x="0" y="3.1" font-size="8.6" text-anchor="middle" fill="#262626" textLength="34" lengthAdjust="spacingAndGlyphs" stroke="#262626" stroke-width="0.2">y (Mm)</text>
<text transform="translate(155.5,259.4) rotate(20)" x="0" y="3.3" font-size="9.2" text-anchor="middle" fill="#262626" textLength="5.4" lengthAdjust="spacingAndGlyphs" stroke="#262626" stroke-width="0.2">0</text>
<text transform="translate(177.0,270.0) rotate(20)" x="0" y="3.3" font-size="9.2" text-anchor="middle" fill="#262626" textLength="10.8" lengthAdjust="spacingAndGlyphs" stroke="#262626" stroke-width="0.2">10</text>
<text transform="translate(198.2,280.6) rotate(20)" x="0" y="3.3" font-size="9.2" text-anchor="middle" fill="#262626" textLength="10.8" lengthAdjust="spacingAndGlyphs" stroke="#262626" stroke-width="0.2">20</text>
<text transform="translate(220.3,291.2) rotate(20)" x="0" y="3.3" font-size="9.2" text-anchor="middle" fill="#262626" textLength="10.8" lengthAdjust="spacingAndGlyphs" stroke="#262626" stroke-width="0.2">30</text>
<text transform="translate(184.7,287.7) rotate(28)" x="0" y="3.1" font-size="8.6" text-anchor="middle" fill="#262626" textLength="34" lengthAdjust="spacingAndGlyphs" stroke="#262626" stroke-width="0.2">x (Mm)</text>
</svg></body></html>
